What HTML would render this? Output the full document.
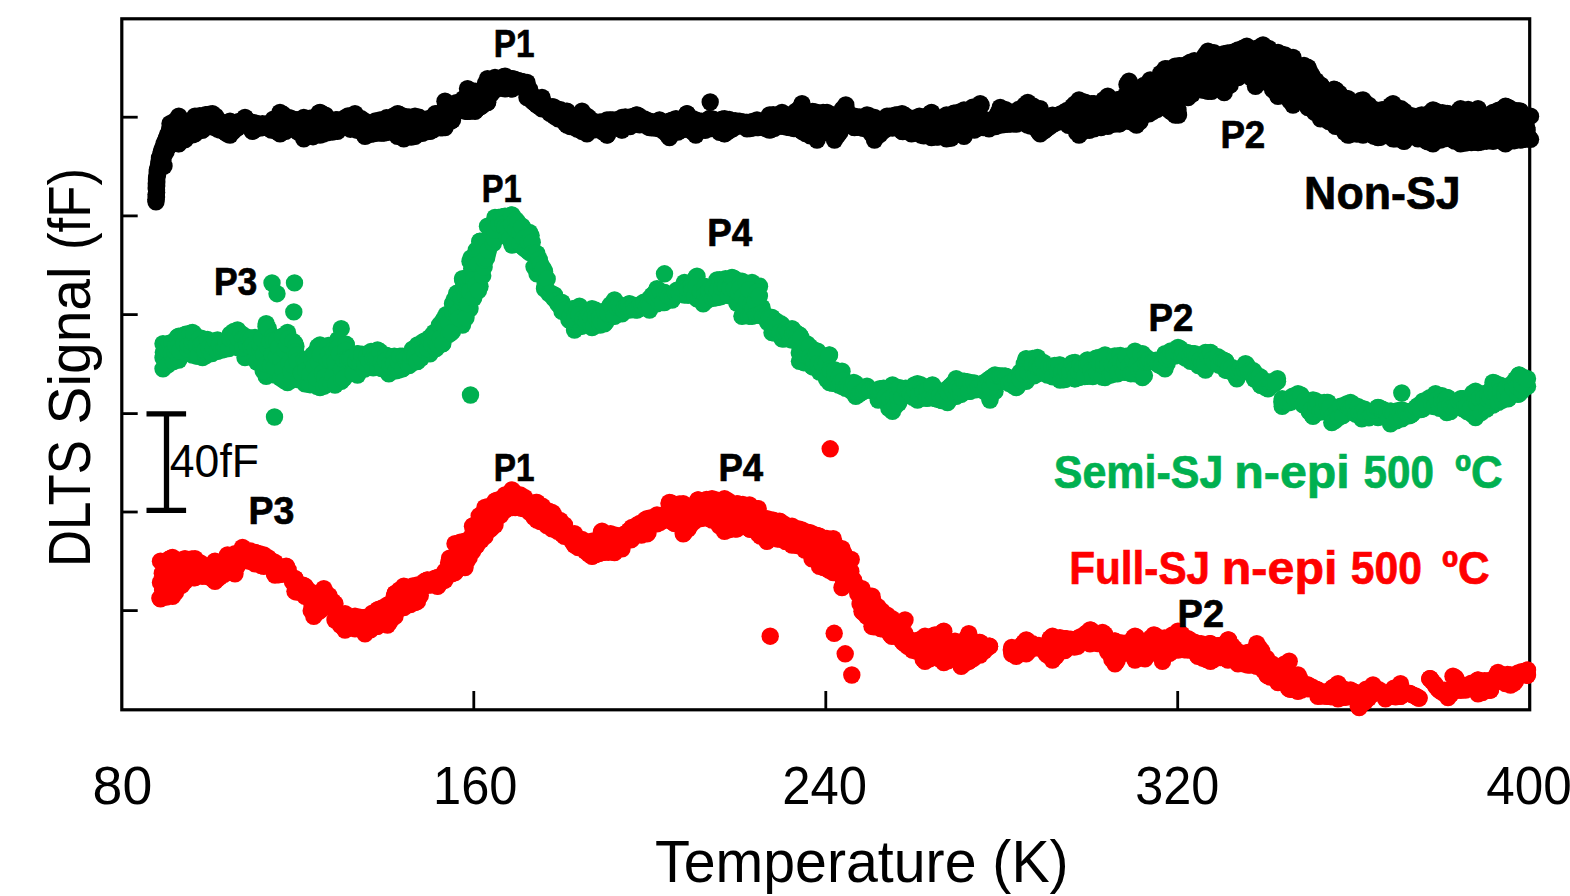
<!DOCTYPE html>
<html lang="en"><head><meta charset="utf-8"><title>DLTS Signal vs Temperature</title>
<style>
html,body{margin:0;padding:0;background:#fff;}
body{width:1570px;height:896px;overflow:hidden;font-family:"Liberation Sans",sans-serif;}
svg{display:block;}
</style></head><body>
<svg width="1570" height="896" viewBox="0 0 1570 896">
<rect x="0" y="0" width="1570" height="896" fill="#fff"/>
<g stroke="#000" stroke-width="2.8" fill="none">
<line x1="121.8" y1="117.2" x2="137.7" y2="117.2"/>
<line x1="121.8" y1="215.9" x2="137.7" y2="215.9"/>
<line x1="121.8" y1="314.6" x2="137.7" y2="314.6"/>
<line x1="121.8" y1="413.6" x2="137.7" y2="413.6"/>
<line x1="121.8" y1="512.0" x2="137.7" y2="512.0"/>
<line x1="121.8" y1="610.6" x2="137.7" y2="610.6"/>
<line x1="473.8" y1="709.8" x2="473.8" y2="691.0"/>
<line x1="825.8" y1="709.8" x2="825.8" y2="691.0"/>
<line x1="1177.7" y1="709.8" x2="1177.7" y2="691.0"/>
</g>
<rect x="121.8" y="18.8" width="1407.9" height="691.0" fill="none" stroke="#000" stroke-width="3.2"/>
<g stroke="#000" stroke-width="5.3" fill="none"><line x1="166.5" y1="413.9" x2="166.5" y2="510.3"/><line x1="146.5" y1="413.9" x2="186.1" y2="413.9"/><line x1="146.5" y1="510.3" x2="186.1" y2="510.3"/></g>
<g fill="#000">
<circle cx="156.0" cy="201.8" r="8.7"/>
<circle cx="155.9" cy="199.4" r="8.7"/>
<circle cx="156.5" cy="197.1" r="8.7"/>
<circle cx="156.0" cy="194.7" r="8.7"/>
<circle cx="156.6" cy="192.4" r="8.7"/>
<circle cx="156.5" cy="190.0" r="8.7"/>
<circle cx="156.2" cy="188.0" r="8.7"/>
<circle cx="156.7" cy="186.0" r="8.7"/>
<circle cx="156.3" cy="184.0" r="8.7"/>
<circle cx="156.8" cy="182.0" r="8.7"/>
<circle cx="156.5" cy="180.0" r="8.7"/>
<circle cx="156.6" cy="178.0" r="8.7"/>
<circle cx="157.1" cy="176.0" r="8.7"/>
<circle cx="157.7" cy="174.0" r="8.7"/>
<circle cx="157.2" cy="172.0" r="8.7"/>
<circle cx="157.5" cy="170.0" r="8.7"/>
<circle cx="158.1" cy="168.0" r="8.7"/>
<circle cx="158.8" cy="166.0" r="8.7"/>
<circle cx="158.9" cy="164.0" r="8.7"/>
<circle cx="159.1" cy="162.0" r="8.7"/>
<circle cx="160.1" cy="160.0" r="8.7"/>
<circle cx="159.5" cy="158.0" r="8.7"/>
<circle cx="161.0" cy="156.0" r="8.7"/>
<circle cx="161.0" cy="154.0" r="8.7"/>
<circle cx="161.5" cy="152.0" r="8.7"/>
<circle cx="162.1" cy="150.0" r="8.7"/>
<circle cx="162.9" cy="148.0" r="8.7"/>
<circle cx="164.1" cy="146.0" r="8.7"/>
<circle cx="164.1" cy="144.0" r="8.7"/>
<circle cx="165.1" cy="142.0" r="8.7"/>
<circle cx="166.0" cy="140.0" r="8.7"/>
<circle cx="166.6" cy="138.0" r="8.7"/>
<circle cx="167.7" cy="136.0" r="8.7"/>
<circle cx="168.1" cy="134.0" r="8.7"/>
<circle cx="169.2" cy="131.7" r="8.7"/>
<circle cx="170.5" cy="129.3" r="8.7"/>
<circle cx="163.0" cy="160.0" r="8.7"/>
<circle cx="166.0" cy="152.0" r="8.7"/>
<circle cx="169.0" cy="146.0" r="8.7"/>
<circle cx="172.0" cy="140.0" r="8.7"/>
<circle cx="174.0" cy="134.0" r="8.7"/>
<circle cx="164.0" cy="166.0" r="8.7"/>
<circle cx="170.0" cy="123.7" r="8.7"/>
<circle cx="170.0" cy="136.3" r="8.7"/>
<circle cx="178.8" cy="116.2" r="8.7"/>
<circle cx="178.8" cy="143.8" r="8.7"/>
<circle cx="195.0" cy="116.2" r="8.7"/>
<circle cx="195.0" cy="133.8" r="8.7"/>
<circle cx="212.5" cy="113.7" r="8.7"/>
<circle cx="212.5" cy="126.3" r="8.7"/>
<circle cx="230.0" cy="121.2" r="8.7"/>
<circle cx="230.0" cy="135.1" r="8.7"/>
<circle cx="245.0" cy="117.5" r="8.7"/>
<circle cx="245.0" cy="121.3" r="8.7"/>
<circle cx="252.5" cy="122.5" r="8.7"/>
<circle cx="252.5" cy="131.3" r="8.7"/>
<circle cx="262.5" cy="123.7" r="8.7"/>
<circle cx="262.5" cy="127.5" r="8.7"/>
<circle cx="280.0" cy="112.5" r="8.7"/>
<circle cx="280.0" cy="133.8" r="8.7"/>
<circle cx="295.0" cy="120.0" r="8.7"/>
<circle cx="295.0" cy="128.8" r="8.7"/>
<circle cx="303.8" cy="117.5" r="8.7"/>
<circle cx="303.8" cy="138.8" r="8.7"/>
<circle cx="320.0" cy="112.5" r="8.7"/>
<circle cx="320.0" cy="135.1" r="8.7"/>
<circle cx="337.5" cy="120.0" r="8.7"/>
<circle cx="337.5" cy="131.3" r="8.7"/>
<circle cx="355.0" cy="113.7" r="8.7"/>
<circle cx="355.0" cy="128.8" r="8.7"/>
<circle cx="365.0" cy="121.2" r="8.7"/>
<circle cx="365.0" cy="136.3" r="8.7"/>
<circle cx="380.0" cy="120.0" r="8.7"/>
<circle cx="380.0" cy="132.6" r="8.7"/>
<circle cx="397.5" cy="113.7" r="8.7"/>
<circle cx="397.5" cy="136.3" r="8.7"/>
<circle cx="403.8" cy="116.2" r="8.7"/>
<circle cx="403.8" cy="138.8" r="8.7"/>
<circle cx="415.0" cy="116.2" r="8.7"/>
<circle cx="415.0" cy="136.3" r="8.7"/>
<circle cx="430.0" cy="118.7" r="8.7"/>
<circle cx="430.0" cy="131.3" r="8.7"/>
<circle cx="445.0" cy="101.2" r="8.7"/>
<circle cx="445.0" cy="127.5" r="8.7"/>
<circle cx="452.5" cy="106.2" r="8.7"/>
<circle cx="452.5" cy="120.0" r="8.7"/>
<circle cx="467.5" cy="88.7" r="8.7"/>
<circle cx="467.5" cy="111.3" r="8.7"/>
<circle cx="475.0" cy="91.2" r="8.7"/>
<circle cx="475.0" cy="111.3" r="8.7"/>
<circle cx="487.5" cy="78.7" r="8.7"/>
<circle cx="487.5" cy="102.5" r="8.7"/>
<circle cx="495.0" cy="77.5" r="8.7"/>
<circle cx="495.0" cy="88.8" r="8.7"/>
<circle cx="505.0" cy="76.2" r="8.7"/>
<circle cx="505.0" cy="88.8" r="8.7"/>
<circle cx="512.0" cy="78.7" r="8.7"/>
<circle cx="512.0" cy="88.8" r="8.7"/>
<circle cx="527.0" cy="82.5" r="8.7"/>
<circle cx="527.0" cy="97.5" r="8.7"/>
<circle cx="542.0" cy="97.5" r="8.7"/>
<circle cx="542.0" cy="108.8" r="8.7"/>
<circle cx="554.5" cy="107.5" r="8.7"/>
<circle cx="554.5" cy="116.3" r="8.7"/>
<circle cx="567.0" cy="111.2" r="8.7"/>
<circle cx="567.0" cy="125.0" r="8.7"/>
<circle cx="582.0" cy="111.2" r="8.7"/>
<circle cx="582.0" cy="131.3" r="8.7"/>
<circle cx="587.0" cy="116.2" r="8.7"/>
<circle cx="587.0" cy="133.8" r="8.7"/>
<circle cx="597.0" cy="122.5" r="8.7"/>
<circle cx="597.0" cy="128.8" r="8.7"/>
<circle cx="607.0" cy="120.0" r="8.7"/>
<circle cx="607.0" cy="135.1" r="8.7"/>
<circle cx="622.0" cy="117.5" r="8.7"/>
<circle cx="622.0" cy="130.1" r="8.7"/>
<circle cx="637.0" cy="115.0" r="8.7"/>
<circle cx="637.0" cy="123.8" r="8.7"/>
<circle cx="649.5" cy="121.2" r="8.7"/>
<circle cx="649.5" cy="127.5" r="8.7"/>
<circle cx="659.5" cy="120.0" r="8.7"/>
<circle cx="659.5" cy="128.8" r="8.7"/>
<circle cx="669.5" cy="121.2" r="8.7"/>
<circle cx="669.5" cy="137.6" r="8.7"/>
<circle cx="687.0" cy="113.7" r="8.7"/>
<circle cx="687.0" cy="127.5" r="8.7"/>
<circle cx="695.8" cy="120.0" r="8.7"/>
<circle cx="695.8" cy="135.1" r="8.7"/>
<circle cx="709.5" cy="118.7" r="8.7"/>
<circle cx="709.5" cy="128.8" r="8.7"/>
<circle cx="724.5" cy="118.7" r="8.7"/>
<circle cx="724.5" cy="133.8" r="8.7"/>
<circle cx="739.5" cy="121.2" r="8.7"/>
<circle cx="739.5" cy="125.0" r="8.7"/>
<circle cx="747.0" cy="122.5" r="8.7"/>
<circle cx="747.0" cy="128.8" r="8.7"/>
<circle cx="757.0" cy="120.0" r="8.7"/>
<circle cx="757.0" cy="127.5" r="8.7"/>
<circle cx="769.5" cy="115.0" r="8.7"/>
<circle cx="769.5" cy="130.1" r="8.7"/>
<circle cx="782.0" cy="112.5" r="8.7"/>
<circle cx="782.0" cy="126.3" r="8.7"/>
<circle cx="789.5" cy="116.2" r="8.7"/>
<circle cx="789.5" cy="127.5" r="8.7"/>
<circle cx="802.0" cy="103.7" r="8.7"/>
<circle cx="802.0" cy="131.3" r="8.7"/>
<circle cx="817.0" cy="112.5" r="8.7"/>
<circle cx="817.0" cy="140.1" r="8.7"/>
<circle cx="827.0" cy="112.5" r="8.7"/>
<circle cx="827.0" cy="127.5" r="8.7"/>
<circle cx="834.5" cy="116.2" r="8.7"/>
<circle cx="834.5" cy="140.1" r="8.7"/>
<circle cx="845.8" cy="105.0" r="8.7"/>
<circle cx="845.8" cy="125.0" r="8.7"/>
<circle cx="854.5" cy="116.2" r="8.7"/>
<circle cx="854.5" cy="127.5" r="8.7"/>
<circle cx="867.0" cy="115.0" r="8.7"/>
<circle cx="867.0" cy="128.8" r="8.7"/>
<circle cx="874.5" cy="117.5" r="8.7"/>
<circle cx="874.5" cy="140.1" r="8.7"/>
<circle cx="887.0" cy="116.2" r="8.7"/>
<circle cx="887.0" cy="127.5" r="8.7"/>
<circle cx="902.0" cy="113.7" r="8.7"/>
<circle cx="902.0" cy="131.3" r="8.7"/>
<circle cx="911.5" cy="118.7" r="8.7"/>
<circle cx="911.5" cy="133.8" r="8.7"/>
<circle cx="931.5" cy="112.5" r="8.7"/>
<circle cx="931.5" cy="137.6" r="8.7"/>
<circle cx="946.5" cy="115.0" r="8.7"/>
<circle cx="946.5" cy="138.8" r="8.7"/>
<circle cx="964.0" cy="110.0" r="8.7"/>
<circle cx="964.0" cy="136.3" r="8.7"/>
<circle cx="980.2" cy="103.7" r="8.7"/>
<circle cx="980.2" cy="127.5" r="8.7"/>
<circle cx="989.0" cy="126.2" r="8.7"/>
<circle cx="989.0" cy="128.8" r="8.7"/>
<circle cx="1000.2" cy="107.5" r="8.7"/>
<circle cx="1000.2" cy="125.0" r="8.7"/>
<circle cx="1014.0" cy="112.5" r="8.7"/>
<circle cx="1014.0" cy="123.8" r="8.7"/>
<circle cx="1027.8" cy="102.5" r="8.7"/>
<circle cx="1027.8" cy="125.0" r="8.7"/>
<circle cx="1040.2" cy="108.7" r="8.7"/>
<circle cx="1040.2" cy="133.8" r="8.7"/>
<circle cx="1054.0" cy="116.2" r="8.7"/>
<circle cx="1054.0" cy="123.8" r="8.7"/>
<circle cx="1064.0" cy="112.5" r="8.7"/>
<circle cx="1064.0" cy="121.3" r="8.7"/>
<circle cx="1079.0" cy="100.0" r="8.7"/>
<circle cx="1079.0" cy="135.1" r="8.7"/>
<circle cx="1094.0" cy="103.7" r="8.7"/>
<circle cx="1094.0" cy="128.8" r="8.7"/>
<circle cx="1107.8" cy="96.2" r="8.7"/>
<circle cx="1107.8" cy="126.3" r="8.7"/>
<circle cx="1119.0" cy="100.0" r="8.7"/>
<circle cx="1119.0" cy="123.8" r="8.7"/>
<circle cx="1129.0" cy="81.2" r="8.7"/>
<circle cx="1129.0" cy="121.3" r="8.7"/>
<circle cx="1136.5" cy="91.2" r="8.7"/>
<circle cx="1136.5" cy="125.0" r="8.7"/>
<circle cx="1150.2" cy="80.0" r="8.7"/>
<circle cx="1150.2" cy="112.5" r="8.7"/>
<circle cx="1165.2" cy="68.7" r="8.7"/>
<circle cx="1165.2" cy="107.5" r="8.7"/>
<circle cx="1175.2" cy="66.2" r="8.7"/>
<circle cx="1175.2" cy="115.0" r="8.7"/>
<circle cx="1178.0" cy="66.2" r="8.7"/>
<circle cx="1178.0" cy="110.0" r="8.7"/>
<circle cx="1188.0" cy="63.7" r="8.7"/>
<circle cx="1188.0" cy="97.5" r="8.7"/>
<circle cx="1208.0" cy="51.2" r="8.7"/>
<circle cx="1208.0" cy="91.3" r="8.7"/>
<circle cx="1224.2" cy="53.7" r="8.7"/>
<circle cx="1224.2" cy="92.5" r="8.7"/>
<circle cx="1238.0" cy="50.0" r="8.7"/>
<circle cx="1238.0" cy="77.5" r="8.7"/>
<circle cx="1246.8" cy="46.2" r="8.7"/>
<circle cx="1246.8" cy="71.3" r="8.7"/>
<circle cx="1255.5" cy="48.7" r="8.7"/>
<circle cx="1255.5" cy="86.3" r="8.7"/>
<circle cx="1263.0" cy="45.0" r="8.7"/>
<circle cx="1263.0" cy="80.0" r="8.7"/>
<circle cx="1278.0" cy="52.5" r="8.7"/>
<circle cx="1278.0" cy="96.3" r="8.7"/>
<circle cx="1293.0" cy="57.5" r="8.7"/>
<circle cx="1293.0" cy="105.0" r="8.7"/>
<circle cx="1308.0" cy="67.5" r="8.7"/>
<circle cx="1308.0" cy="107.5" r="8.7"/>
<circle cx="1320.5" cy="85.0" r="8.7"/>
<circle cx="1320.5" cy="118.8" r="8.7"/>
<circle cx="1335.5" cy="90.0" r="8.7"/>
<circle cx="1335.5" cy="126.3" r="8.7"/>
<circle cx="1348.0" cy="98.7" r="8.7"/>
<circle cx="1348.0" cy="135.1" r="8.7"/>
<circle cx="1363.0" cy="100.0" r="8.7"/>
<circle cx="1363.0" cy="135.1" r="8.7"/>
<circle cx="1378.0" cy="111.2" r="8.7"/>
<circle cx="1378.0" cy="137.6" r="8.7"/>
<circle cx="1393.0" cy="103.7" r="8.7"/>
<circle cx="1393.0" cy="138.8" r="8.7"/>
<circle cx="1404.2" cy="111.2" r="8.7"/>
<circle cx="1404.2" cy="141.3" r="8.7"/>
<circle cx="1418.0" cy="116.2" r="8.7"/>
<circle cx="1418.0" cy="138.8" r="8.7"/>
<circle cx="1433.0" cy="110.0" r="8.7"/>
<circle cx="1433.0" cy="143.8" r="8.7"/>
<circle cx="1448.0" cy="113.7" r="8.7"/>
<circle cx="1448.0" cy="137.6" r="8.7"/>
<circle cx="1460.5" cy="108.7" r="8.7"/>
<circle cx="1460.5" cy="143.8" r="8.7"/>
<circle cx="1478.0" cy="108.7" r="8.7"/>
<circle cx="1478.0" cy="142.6" r="8.7"/>
<circle cx="1493.0" cy="112.5" r="8.7"/>
<circle cx="1493.0" cy="141.3" r="8.7"/>
<circle cx="1505.5" cy="106.2" r="8.7"/>
<circle cx="1505.5" cy="143.8" r="8.7"/>
<circle cx="1520.5" cy="111.2" r="8.7"/>
<circle cx="1520.5" cy="140.1" r="8.7"/>
<circle cx="1530.5" cy="116.2" r="8.7"/>
<circle cx="1530.5" cy="139.3" r="8.7"/>
<circle cx="169.7" cy="129.1" r="8.7"/>
<circle cx="172.4" cy="137.8" r="8.7"/>
<circle cx="174.2" cy="121.3" r="8.7"/>
<circle cx="174.2" cy="132.6" r="8.7"/>
<circle cx="177.0" cy="125.0" r="8.7"/>
<circle cx="178.4" cy="143.5" r="8.7"/>
<circle cx="178.4" cy="125.6" r="8.7"/>
<circle cx="180.6" cy="136.5" r="8.7"/>
<circle cx="182.9" cy="124.1" r="8.7"/>
<circle cx="182.6" cy="129.6" r="8.7"/>
<circle cx="185.2" cy="139.7" r="8.7"/>
<circle cx="187.0" cy="126.9" r="8.7"/>
<circle cx="186.8" cy="124.0" r="8.7"/>
<circle cx="189.6" cy="130.0" r="8.7"/>
<circle cx="190.8" cy="121.9" r="8.7"/>
<circle cx="191.0" cy="127.4" r="8.7"/>
<circle cx="192.5" cy="134.8" r="8.7"/>
<circle cx="194.8" cy="118.4" r="8.7"/>
<circle cx="195.2" cy="124.3" r="8.7"/>
<circle cx="197.2" cy="117.2" r="8.7"/>
<circle cx="199.8" cy="115.8" r="8.7"/>
<circle cx="199.4" cy="125.8" r="8.7"/>
<circle cx="202.1" cy="130.3" r="8.7"/>
<circle cx="203.2" cy="129.3" r="8.7"/>
<circle cx="203.6" cy="121.1" r="8.7"/>
<circle cx="205.6" cy="114.7" r="8.7"/>
<circle cx="208.4" cy="114.4" r="8.7"/>
<circle cx="207.8" cy="122.3" r="8.7"/>
<circle cx="210.5" cy="114.1" r="8.7"/>
<circle cx="212.4" cy="124.9" r="8.7"/>
<circle cx="213.5" cy="127.0" r="8.7"/>
<circle cx="215.6" cy="116.1" r="8.7"/>
<circle cx="217.6" cy="129.1" r="8.7"/>
<circle cx="220.2" cy="130.1" r="8.7"/>
<circle cx="220.4" cy="121.5" r="8.7"/>
<circle cx="222.0" cy="126.2" r="8.7"/>
<circle cx="225.1" cy="132.2" r="8.7"/>
<circle cx="224.6" cy="127.9" r="8.7"/>
<circle cx="226.1" cy="133.2" r="8.7"/>
<circle cx="228.3" cy="134.4" r="8.7"/>
<circle cx="228.8" cy="125.3" r="8.7"/>
<circle cx="230.4" cy="128.0" r="8.7"/>
<circle cx="233.0" cy="131.5" r="8.7"/>
<circle cx="235.4" cy="128.9" r="8.7"/>
<circle cx="237.2" cy="128.2" r="8.7"/>
<circle cx="238.9" cy="121.4" r="8.7"/>
<circle cx="241.9" cy="124.5" r="8.7"/>
<circle cx="243.8" cy="121.8" r="8.7"/>
<circle cx="245.4" cy="118.1" r="8.7"/>
<circle cx="248.0" cy="124.9" r="8.7"/>
<circle cx="250.4" cy="123.8" r="8.7"/>
<circle cx="251.7" cy="130.1" r="8.7"/>
<circle cx="253.6" cy="130.5" r="8.7"/>
<circle cx="256.1" cy="123.3" r="8.7"/>
<circle cx="257.6" cy="128.0" r="8.7"/>
<circle cx="260.7" cy="127.9" r="8.7"/>
<circle cx="261.9" cy="125.6" r="8.7"/>
<circle cx="264.9" cy="124.4" r="8.7"/>
<circle cx="266.5" cy="124.2" r="8.7"/>
<circle cx="268.2" cy="127.0" r="8.7"/>
<circle cx="271.4" cy="130.0" r="8.7"/>
<circle cx="273.4" cy="119.1" r="8.7"/>
<circle cx="274.8" cy="126.4" r="8.7"/>
<circle cx="275.0" cy="124.1" r="8.7"/>
<circle cx="277.1" cy="131.8" r="8.7"/>
<circle cx="279.7" cy="121.9" r="8.7"/>
<circle cx="279.2" cy="125.6" r="8.7"/>
<circle cx="281.0" cy="133.2" r="8.7"/>
<circle cx="282.9" cy="114.2" r="8.7"/>
<circle cx="283.4" cy="126.1" r="8.7"/>
<circle cx="285.6" cy="131.4" r="8.7"/>
<circle cx="288.2" cy="122.6" r="8.7"/>
<circle cx="287.6" cy="123.8" r="8.7"/>
<circle cx="289.3" cy="117.8" r="8.7"/>
<circle cx="291.3" cy="118.4" r="8.7"/>
<circle cx="293.9" cy="119.7" r="8.7"/>
<circle cx="295.4" cy="119.8" r="8.7"/>
<circle cx="298.1" cy="132.2" r="8.7"/>
<circle cx="300.8" cy="119.4" r="8.7"/>
<circle cx="300.2" cy="126.3" r="8.7"/>
<circle cx="302.3" cy="127.6" r="8.7"/>
<circle cx="304.4" cy="126.9" r="8.7"/>
<circle cx="304.4" cy="127.8" r="8.7"/>
<circle cx="307.0" cy="131.7" r="8.7"/>
<circle cx="308.7" cy="121.6" r="8.7"/>
<circle cx="308.6" cy="130.2" r="8.7"/>
<circle cx="310.2" cy="118.3" r="8.7"/>
<circle cx="313.0" cy="136.7" r="8.7"/>
<circle cx="312.8" cy="127.9" r="8.7"/>
<circle cx="315.2" cy="117.4" r="8.7"/>
<circle cx="317.5" cy="116.6" r="8.7"/>
<circle cx="317.0" cy="128.2" r="8.7"/>
<circle cx="319.0" cy="113.0" r="8.7"/>
<circle cx="321.1" cy="113.2" r="8.7"/>
<circle cx="321.2" cy="124.0" r="8.7"/>
<circle cx="323.0" cy="134.0" r="8.7"/>
<circle cx="325.5" cy="115.1" r="8.7"/>
<circle cx="325.4" cy="123.9" r="8.7"/>
<circle cx="326.9" cy="132.9" r="8.7"/>
<circle cx="330.3" cy="129.5" r="8.7"/>
<circle cx="329.6" cy="122.5" r="8.7"/>
<circle cx="332.1" cy="132.1" r="8.7"/>
<circle cx="334.2" cy="131.2" r="8.7"/>
<circle cx="333.8" cy="124.1" r="8.7"/>
<circle cx="336.0" cy="119.7" r="8.7"/>
<circle cx="337.4" cy="120.8" r="8.7"/>
<circle cx="339.5" cy="124.1" r="8.7"/>
<circle cx="342.6" cy="126.1" r="8.7"/>
<circle cx="344.2" cy="118.3" r="8.7"/>
<circle cx="347.0" cy="117.1" r="8.7"/>
<circle cx="346.4" cy="122.3" r="8.7"/>
<circle cx="348.0" cy="116.0" r="8.7"/>
<circle cx="350.3" cy="129.2" r="8.7"/>
<circle cx="350.6" cy="121.4" r="8.7"/>
<circle cx="352.7" cy="118.8" r="8.7"/>
<circle cx="354.1" cy="128.4" r="8.7"/>
<circle cx="354.8" cy="122.5" r="8.7"/>
<circle cx="356.9" cy="130.2" r="8.7"/>
<circle cx="359.4" cy="118.3" r="8.7"/>
<circle cx="359.0" cy="123.9" r="8.7"/>
<circle cx="361.4" cy="118.8" r="8.7"/>
<circle cx="363.7" cy="125.0" r="8.7"/>
<circle cx="363.2" cy="128.5" r="8.7"/>
<circle cx="365.1" cy="127.3" r="8.7"/>
<circle cx="366.8" cy="135.3" r="8.7"/>
<circle cx="367.4" cy="129.6" r="8.7"/>
<circle cx="370.0" cy="134.3" r="8.7"/>
<circle cx="371.2" cy="124.6" r="8.7"/>
<circle cx="371.6" cy="126.6" r="8.7"/>
<circle cx="373.6" cy="133.7" r="8.7"/>
<circle cx="375.4" cy="120.9" r="8.7"/>
<circle cx="375.8" cy="129.1" r="8.7"/>
<circle cx="377.2" cy="133.0" r="8.7"/>
<circle cx="380.0" cy="132.3" r="8.7"/>
<circle cx="381.5" cy="133.0" r="8.7"/>
<circle cx="383.8" cy="133.0" r="8.7"/>
<circle cx="384.2" cy="126.4" r="8.7"/>
<circle cx="386.5" cy="117.8" r="8.7"/>
<circle cx="388.2" cy="132.2" r="8.7"/>
<circle cx="388.4" cy="124.6" r="8.7"/>
<circle cx="390.8" cy="119.0" r="8.7"/>
<circle cx="393.1" cy="116.3" r="8.7"/>
<circle cx="392.6" cy="128.1" r="8.7"/>
<circle cx="395.1" cy="130.1" r="8.7"/>
<circle cx="397.2" cy="115.4" r="8.7"/>
<circle cx="396.8" cy="127.6" r="8.7"/>
<circle cx="399.2" cy="114.3" r="8.7"/>
<circle cx="400.3" cy="120.3" r="8.7"/>
<circle cx="401.0" cy="123.5" r="8.7"/>
<circle cx="403.3" cy="138.0" r="8.7"/>
<circle cx="405.2" cy="131.4" r="8.7"/>
<circle cx="405.2" cy="123.5" r="8.7"/>
<circle cx="407.3" cy="132.5" r="8.7"/>
<circle cx="408.8" cy="117.0" r="8.7"/>
<circle cx="409.4" cy="128.6" r="8.7"/>
<circle cx="411.1" cy="137.0" r="8.7"/>
<circle cx="413.6" cy="136.1" r="8.7"/>
<circle cx="413.6" cy="125.6" r="8.7"/>
<circle cx="416.1" cy="117.4" r="8.7"/>
<circle cx="417.2" cy="128.7" r="8.7"/>
<circle cx="417.8" cy="123.7" r="8.7"/>
<circle cx="419.2" cy="117.3" r="8.7"/>
<circle cx="422.2" cy="133.3" r="8.7"/>
<circle cx="422.0" cy="126.8" r="8.7"/>
<circle cx="424.1" cy="122.2" r="8.7"/>
<circle cx="425.8" cy="131.8" r="8.7"/>
<circle cx="426.2" cy="127.7" r="8.7"/>
<circle cx="428.2" cy="118.7" r="8.7"/>
<circle cx="430.3" cy="130.8" r="8.7"/>
<circle cx="433.1" cy="129.9" r="8.7"/>
<circle cx="435.2" cy="113.8" r="8.7"/>
<circle cx="434.6" cy="119.6" r="8.7"/>
<circle cx="437.2" cy="120.4" r="8.7"/>
<circle cx="439.4" cy="113.2" r="8.7"/>
<circle cx="438.8" cy="118.7" r="8.7"/>
<circle cx="440.9" cy="127.8" r="8.7"/>
<circle cx="442.7" cy="127.6" r="8.7"/>
<circle cx="443.0" cy="118.7" r="8.7"/>
<circle cx="445.6" cy="101.9" r="8.7"/>
<circle cx="446.9" cy="103.1" r="8.7"/>
<circle cx="447.2" cy="113.0" r="8.7"/>
<circle cx="449.4" cy="105.5" r="8.7"/>
<circle cx="450.8" cy="121.1" r="8.7"/>
<circle cx="451.4" cy="115.1" r="8.7"/>
<circle cx="453.1" cy="105.2" r="8.7"/>
<circle cx="456.2" cy="102.8" r="8.7"/>
<circle cx="455.6" cy="112.5" r="8.7"/>
<circle cx="458.3" cy="110.8" r="8.7"/>
<circle cx="460.1" cy="107.6" r="8.7"/>
<circle cx="459.8" cy="103.9" r="8.7"/>
<circle cx="462.3" cy="103.9" r="8.7"/>
<circle cx="463.4" cy="98.7" r="8.7"/>
<circle cx="464.0" cy="106.1" r="8.7"/>
<circle cx="465.9" cy="111.4" r="8.7"/>
<circle cx="468.4" cy="89.5" r="8.7"/>
<circle cx="468.2" cy="98.6" r="8.7"/>
<circle cx="469.8" cy="111.2" r="8.7"/>
<circle cx="472.0" cy="110.6" r="8.7"/>
<circle cx="472.4" cy="103.8" r="8.7"/>
<circle cx="474.0" cy="100.2" r="8.7"/>
<circle cx="476.4" cy="109.7" r="8.7"/>
<circle cx="476.6" cy="96.9" r="8.7"/>
<circle cx="479.0" cy="107.3" r="8.7"/>
<circle cx="480.8" cy="106.6" r="8.7"/>
<circle cx="480.8" cy="95.4" r="8.7"/>
<circle cx="482.4" cy="105.4" r="8.7"/>
<circle cx="485.5" cy="83.3" r="8.7"/>
<circle cx="485.0" cy="90.5" r="8.7"/>
<circle cx="487.7" cy="102.1" r="8.7"/>
<circle cx="488.5" cy="96.8" r="8.7"/>
<circle cx="489.2" cy="85.5" r="8.7"/>
<circle cx="491.3" cy="93.8" r="8.7"/>
<circle cx="493.2" cy="91.4" r="8.7"/>
<circle cx="493.4" cy="86.8" r="8.7"/>
<circle cx="496.2" cy="87.2" r="8.7"/>
<circle cx="497.9" cy="88.5" r="8.7"/>
<circle cx="499.9" cy="85.5" r="8.7"/>
<circle cx="501.9" cy="82.2" r="8.7"/>
<circle cx="503.5" cy="76.8" r="8.7"/>
<circle cx="505.7" cy="84.5" r="8.7"/>
<circle cx="507.6" cy="88.4" r="8.7"/>
<circle cx="510.3" cy="78.5" r="8.7"/>
<circle cx="512.0" cy="88.9" r="8.7"/>
<circle cx="514.6" cy="79.3" r="8.7"/>
<circle cx="516.1" cy="85.3" r="8.7"/>
<circle cx="517.9" cy="80.5" r="8.7"/>
<circle cx="520.6" cy="81.2" r="8.7"/>
<circle cx="522.1" cy="81.7" r="8.7"/>
<circle cx="522.8" cy="87.5" r="8.7"/>
<circle cx="524.5" cy="82.1" r="8.7"/>
<circle cx="527.0" cy="93.6" r="8.7"/>
<circle cx="527.0" cy="88.4" r="8.7"/>
<circle cx="529.5" cy="89.1" r="8.7"/>
<circle cx="531.8" cy="100.7" r="8.7"/>
<circle cx="531.2" cy="93.7" r="8.7"/>
<circle cx="533.2" cy="101.9" r="8.7"/>
<circle cx="534.9" cy="103.2" r="8.7"/>
<circle cx="536.9" cy="105.2" r="8.7"/>
<circle cx="540.2" cy="107.0" r="8.7"/>
<circle cx="542.4" cy="105.5" r="8.7"/>
<circle cx="543.4" cy="102.5" r="8.7"/>
<circle cx="545.2" cy="108.5" r="8.7"/>
<circle cx="547.8" cy="106.1" r="8.7"/>
<circle cx="549.9" cy="113.4" r="8.7"/>
<circle cx="552.8" cy="106.8" r="8.7"/>
<circle cx="554.8" cy="116.2" r="8.7"/>
<circle cx="555.8" cy="112.2" r="8.7"/>
<circle cx="558.3" cy="118.9" r="8.7"/>
<circle cx="560.5" cy="109.6" r="8.7"/>
<circle cx="562.1" cy="119.2" r="8.7"/>
<circle cx="565.4" cy="123.4" r="8.7"/>
<circle cx="566.6" cy="111.5" r="8.7"/>
<circle cx="568.7" cy="120.3" r="8.7"/>
<circle cx="569.0" cy="119.7" r="8.7"/>
<circle cx="570.4" cy="126.5" r="8.7"/>
<circle cx="573.4" cy="126.3" r="8.7"/>
<circle cx="573.2" cy="122.0" r="8.7"/>
<circle cx="575.9" cy="127.0" r="8.7"/>
<circle cx="577.3" cy="129.1" r="8.7"/>
<circle cx="577.4" cy="120.3" r="8.7"/>
<circle cx="579.9" cy="114.7" r="8.7"/>
<circle cx="582.0" cy="127.6" r="8.7"/>
<circle cx="581.6" cy="121.9" r="8.7"/>
<circle cx="583.1" cy="131.4" r="8.7"/>
<circle cx="585.4" cy="115.8" r="8.7"/>
<circle cx="585.8" cy="121.3" r="8.7"/>
<circle cx="588.4" cy="117.5" r="8.7"/>
<circle cx="589.4" cy="121.8" r="8.7"/>
<circle cx="590.0" cy="123.2" r="8.7"/>
<circle cx="592.0" cy="120.4" r="8.7"/>
<circle cx="594.5" cy="129.8" r="8.7"/>
<circle cx="595.8" cy="126.8" r="8.7"/>
<circle cx="598.5" cy="124.3" r="8.7"/>
<circle cx="600.1" cy="121.9" r="8.7"/>
<circle cx="602.7" cy="131.8" r="8.7"/>
<circle cx="605.4" cy="132.8" r="8.7"/>
<circle cx="607.5" cy="134.7" r="8.7"/>
<circle cx="606.8" cy="125.4" r="8.7"/>
<circle cx="609.4" cy="120.3" r="8.7"/>
<circle cx="610.7" cy="119.9" r="8.7"/>
<circle cx="611.0" cy="124.6" r="8.7"/>
<circle cx="612.9" cy="119.9" r="8.7"/>
<circle cx="614.9" cy="124.8" r="8.7"/>
<circle cx="615.2" cy="126.8" r="8.7"/>
<circle cx="617.4" cy="119.6" r="8.7"/>
<circle cx="619.2" cy="120.7" r="8.7"/>
<circle cx="619.4" cy="122.8" r="8.7"/>
<circle cx="621.6" cy="129.7" r="8.7"/>
<circle cx="622.9" cy="119.7" r="8.7"/>
<circle cx="625.3" cy="117.0" r="8.7"/>
<circle cx="627.2" cy="122.6" r="8.7"/>
<circle cx="630.0" cy="126.5" r="8.7"/>
<circle cx="631.5" cy="116.7" r="8.7"/>
<circle cx="633.8" cy="119.4" r="8.7"/>
<circle cx="636.0" cy="115.2" r="8.7"/>
<circle cx="639.0" cy="116.0" r="8.7"/>
<circle cx="639.7" cy="124.8" r="8.7"/>
<circle cx="642.9" cy="121.0" r="8.7"/>
<circle cx="644.5" cy="118.9" r="8.7"/>
<circle cx="647.3" cy="126.4" r="8.7"/>
<circle cx="648.6" cy="121.0" r="8.7"/>
<circle cx="651.5" cy="127.7" r="8.7"/>
<circle cx="653.4" cy="127.7" r="8.7"/>
<circle cx="654.6" cy="122.0" r="8.7"/>
<circle cx="657.2" cy="128.3" r="8.7"/>
<circle cx="659.5" cy="120.5" r="8.7"/>
<circle cx="661.8" cy="121.8" r="8.7"/>
<circle cx="664.0" cy="131.7" r="8.7"/>
<circle cx="665.2" cy="123.2" r="8.7"/>
<circle cx="665.6" cy="127.0" r="8.7"/>
<circle cx="668.0" cy="135.7" r="8.7"/>
<circle cx="669.9" cy="121.7" r="8.7"/>
<circle cx="669.8" cy="130.7" r="8.7"/>
<circle cx="671.4" cy="120.5" r="8.7"/>
<circle cx="673.9" cy="119.6" r="8.7"/>
<circle cx="674.0" cy="127.6" r="8.7"/>
<circle cx="676.0" cy="118.7" r="8.7"/>
<circle cx="677.8" cy="132.1" r="8.7"/>
<circle cx="678.2" cy="126.4" r="8.7"/>
<circle cx="679.9" cy="123.4" r="8.7"/>
<circle cx="681.9" cy="129.8" r="8.7"/>
<circle cx="682.4" cy="122.6" r="8.7"/>
<circle cx="684.7" cy="128.8" r="8.7"/>
<circle cx="687.0" cy="113.9" r="8.7"/>
<circle cx="686.6" cy="120.9" r="8.7"/>
<circle cx="688.2" cy="115.8" r="8.7"/>
<circle cx="691.1" cy="130.8" r="8.7"/>
<circle cx="690.8" cy="125.2" r="8.7"/>
<circle cx="692.9" cy="118.8" r="8.7"/>
<circle cx="694.5" cy="133.1" r="8.7"/>
<circle cx="695.0" cy="128.4" r="8.7"/>
<circle cx="696.9" cy="120.8" r="8.7"/>
<circle cx="699.8" cy="121.8" r="8.7"/>
<circle cx="699.2" cy="125.5" r="8.7"/>
<circle cx="701.3" cy="121.3" r="8.7"/>
<circle cx="703.1" cy="121.8" r="8.7"/>
<circle cx="705.0" cy="130.4" r="8.7"/>
<circle cx="708.2" cy="126.2" r="8.7"/>
<circle cx="709.2" cy="118.8" r="8.7"/>
<circle cx="711.9" cy="119.2" r="8.7"/>
<circle cx="713.3" cy="119.3" r="8.7"/>
<circle cx="715.9" cy="126.4" r="8.7"/>
<circle cx="718.8" cy="122.1" r="8.7"/>
<circle cx="719.7" cy="132.3" r="8.7"/>
<circle cx="720.2" cy="126.7" r="8.7"/>
<circle cx="722.0" cy="119.2" r="8.7"/>
<circle cx="724.5" cy="133.5" r="8.7"/>
<circle cx="724.4" cy="127.1" r="8.7"/>
<circle cx="726.7" cy="132.4" r="8.7"/>
<circle cx="729.2" cy="119.4" r="8.7"/>
<circle cx="730.0" cy="130.1" r="8.7"/>
<circle cx="732.6" cy="128.9" r="8.7"/>
<circle cx="735.1" cy="120.6" r="8.7"/>
<circle cx="737.6" cy="126.4" r="8.7"/>
<circle cx="739.6" cy="125.1" r="8.7"/>
<circle cx="740.9" cy="123.3" r="8.7"/>
<circle cx="743.4" cy="122.0" r="8.7"/>
<circle cx="745.7" cy="122.6" r="8.7"/>
<circle cx="746.9" cy="122.5" r="8.7"/>
<circle cx="750.0" cy="128.5" r="8.7"/>
<circle cx="752.3" cy="121.4" r="8.7"/>
<circle cx="754.0" cy="127.7" r="8.7"/>
<circle cx="755.6" cy="121.5" r="8.7"/>
<circle cx="758.5" cy="127.5" r="8.7"/>
<circle cx="759.4" cy="125.5" r="8.7"/>
<circle cx="762.2" cy="125.9" r="8.7"/>
<circle cx="763.9" cy="122.5" r="8.7"/>
<circle cx="766.7" cy="129.0" r="8.7"/>
<circle cx="766.4" cy="123.7" r="8.7"/>
<circle cx="768.2" cy="125.7" r="8.7"/>
<circle cx="771.0" cy="129.6" r="8.7"/>
<circle cx="770.6" cy="122.3" r="8.7"/>
<circle cx="773.2" cy="114.7" r="8.7"/>
<circle cx="774.4" cy="128.4" r="8.7"/>
<circle cx="774.8" cy="122.4" r="8.7"/>
<circle cx="776.7" cy="124.2" r="8.7"/>
<circle cx="778.6" cy="117.7" r="8.7"/>
<circle cx="779.0" cy="122.1" r="8.7"/>
<circle cx="781.3" cy="122.3" r="8.7"/>
<circle cx="783.7" cy="119.4" r="8.7"/>
<circle cx="783.2" cy="120.7" r="8.7"/>
<circle cx="785.6" cy="119.7" r="8.7"/>
<circle cx="786.8" cy="127.1" r="8.7"/>
<circle cx="788.8" cy="117.8" r="8.7"/>
<circle cx="791.4" cy="114.8" r="8.7"/>
<circle cx="791.6" cy="119.4" r="8.7"/>
<circle cx="794.0" cy="128.5" r="8.7"/>
<circle cx="795.9" cy="111.2" r="8.7"/>
<circle cx="795.8" cy="118.7" r="8.7"/>
<circle cx="798.4" cy="126.1" r="8.7"/>
<circle cx="800.6" cy="106.9" r="8.7"/>
<circle cx="800.0" cy="122.1" r="8.7"/>
<circle cx="802.6" cy="131.2" r="8.7"/>
<circle cx="804.7" cy="122.5" r="8.7"/>
<circle cx="804.2" cy="120.1" r="8.7"/>
<circle cx="805.7" cy="133.6" r="8.7"/>
<circle cx="808.1" cy="113.1" r="8.7"/>
<circle cx="808.4" cy="120.5" r="8.7"/>
<circle cx="810.3" cy="135.9" r="8.7"/>
<circle cx="812.6" cy="111.4" r="8.7"/>
<circle cx="812.6" cy="127.1" r="8.7"/>
<circle cx="814.6" cy="112.0" r="8.7"/>
<circle cx="816.9" cy="113.2" r="8.7"/>
<circle cx="816.8" cy="123.4" r="8.7"/>
<circle cx="819.3" cy="114.7" r="8.7"/>
<circle cx="820.6" cy="134.0" r="8.7"/>
<circle cx="821.0" cy="125.8" r="8.7"/>
<circle cx="823.1" cy="112.5" r="8.7"/>
<circle cx="825.0" cy="112.7" r="8.7"/>
<circle cx="825.2" cy="123.1" r="8.7"/>
<circle cx="827.0" cy="113.2" r="8.7"/>
<circle cx="829.6" cy="114.0" r="8.7"/>
<circle cx="829.4" cy="120.0" r="8.7"/>
<circle cx="831.9" cy="128.9" r="8.7"/>
<circle cx="833.5" cy="123.9" r="8.7"/>
<circle cx="833.6" cy="126.3" r="8.7"/>
<circle cx="836.2" cy="117.0" r="8.7"/>
<circle cx="837.5" cy="135.6" r="8.7"/>
<circle cx="837.8" cy="127.5" r="8.7"/>
<circle cx="839.8" cy="132.4" r="8.7"/>
<circle cx="842.4" cy="109.1" r="8.7"/>
<circle cx="842.0" cy="120.5" r="8.7"/>
<circle cx="844.3" cy="126.5" r="8.7"/>
<circle cx="846.1" cy="108.9" r="8.7"/>
<circle cx="846.2" cy="117.2" r="8.7"/>
<circle cx="848.2" cy="124.8" r="8.7"/>
<circle cx="850.0" cy="114.6" r="8.7"/>
<circle cx="850.4" cy="117.6" r="8.7"/>
<circle cx="852.0" cy="124.9" r="8.7"/>
<circle cx="854.1" cy="127.3" r="8.7"/>
<circle cx="857.4" cy="127.3" r="8.7"/>
<circle cx="859.4" cy="117.0" r="8.7"/>
<circle cx="861.2" cy="127.4" r="8.7"/>
<circle cx="863.2" cy="128.3" r="8.7"/>
<circle cx="863.0" cy="120.1" r="8.7"/>
<circle cx="865.5" cy="128.1" r="8.7"/>
<circle cx="867.4" cy="122.1" r="8.7"/>
<circle cx="867.2" cy="121.9" r="8.7"/>
<circle cx="869.2" cy="115.8" r="8.7"/>
<circle cx="871.3" cy="133.7" r="8.7"/>
<circle cx="871.4" cy="126.4" r="8.7"/>
<circle cx="873.1" cy="126.1" r="8.7"/>
<circle cx="876.0" cy="136.4" r="8.7"/>
<circle cx="875.6" cy="129.7" r="8.7"/>
<circle cx="877.9" cy="130.5" r="8.7"/>
<circle cx="879.7" cy="134.6" r="8.7"/>
<circle cx="879.8" cy="127.6" r="8.7"/>
<circle cx="881.6" cy="126.7" r="8.7"/>
<circle cx="884.2" cy="130.4" r="8.7"/>
<circle cx="884.0" cy="123.1" r="8.7"/>
<circle cx="885.7" cy="127.6" r="8.7"/>
<circle cx="888.0" cy="125.2" r="8.7"/>
<circle cx="889.8" cy="116.2" r="8.7"/>
<circle cx="892.4" cy="128.1" r="8.7"/>
<circle cx="892.4" cy="120.2" r="8.7"/>
<circle cx="894.8" cy="115.1" r="8.7"/>
<circle cx="896.5" cy="114.9" r="8.7"/>
<circle cx="896.6" cy="124.7" r="8.7"/>
<circle cx="898.5" cy="114.9" r="8.7"/>
<circle cx="901.5" cy="116.0" r="8.7"/>
<circle cx="900.8" cy="121.6" r="8.7"/>
<circle cx="902.8" cy="131.5" r="8.7"/>
<circle cx="904.8" cy="115.3" r="8.7"/>
<circle cx="905.0" cy="122.3" r="8.7"/>
<circle cx="906.7" cy="117.0" r="8.7"/>
<circle cx="908.8" cy="123.6" r="8.7"/>
<circle cx="909.2" cy="123.3" r="8.7"/>
<circle cx="911.5" cy="130.9" r="8.7"/>
<circle cx="913.0" cy="118.4" r="8.7"/>
<circle cx="913.4" cy="128.7" r="8.7"/>
<circle cx="915.5" cy="117.9" r="8.7"/>
<circle cx="917.1" cy="117.9" r="8.7"/>
<circle cx="917.6" cy="128.0" r="8.7"/>
<circle cx="919.4" cy="116.2" r="8.7"/>
<circle cx="921.1" cy="135.0" r="8.7"/>
<circle cx="921.8" cy="127.2" r="8.7"/>
<circle cx="923.8" cy="135.9" r="8.7"/>
<circle cx="925.8" cy="128.9" r="8.7"/>
<circle cx="926.0" cy="128.7" r="8.7"/>
<circle cx="928.6" cy="114.8" r="8.7"/>
<circle cx="929.7" cy="132.0" r="8.7"/>
<circle cx="930.2" cy="127.9" r="8.7"/>
<circle cx="931.6" cy="113.0" r="8.7"/>
<circle cx="934.1" cy="129.2" r="8.7"/>
<circle cx="934.4" cy="121.9" r="8.7"/>
<circle cx="936.9" cy="137.0" r="8.7"/>
<circle cx="938.1" cy="136.9" r="8.7"/>
<circle cx="938.6" cy="129.2" r="8.7"/>
<circle cx="940.9" cy="133.0" r="8.7"/>
<circle cx="943.3" cy="133.4" r="8.7"/>
<circle cx="942.8" cy="123.9" r="8.7"/>
<circle cx="945.2" cy="127.4" r="8.7"/>
<circle cx="947.1" cy="115.6" r="8.7"/>
<circle cx="947.0" cy="124.8" r="8.7"/>
<circle cx="949.1" cy="138.1" r="8.7"/>
<circle cx="951.2" cy="138.1" r="8.7"/>
<circle cx="951.2" cy="126.2" r="8.7"/>
<circle cx="953.8" cy="113.2" r="8.7"/>
<circle cx="955.2" cy="113.3" r="8.7"/>
<circle cx="955.4" cy="124.3" r="8.7"/>
<circle cx="957.7" cy="113.7" r="8.7"/>
<circle cx="959.8" cy="111.9" r="8.7"/>
<circle cx="959.6" cy="125.7" r="8.7"/>
<circle cx="962.4" cy="119.2" r="8.7"/>
<circle cx="964.4" cy="134.8" r="8.7"/>
<circle cx="963.8" cy="118.9" r="8.7"/>
<circle cx="965.7" cy="125.5" r="8.7"/>
<circle cx="968.0" cy="117.8" r="8.7"/>
<circle cx="968.0" cy="121.5" r="8.7"/>
<circle cx="970.0" cy="113.0" r="8.7"/>
<circle cx="972.7" cy="107.1" r="8.7"/>
<circle cx="972.2" cy="118.5" r="8.7"/>
<circle cx="974.3" cy="130.1" r="8.7"/>
<circle cx="976.8" cy="121.2" r="8.7"/>
<circle cx="976.4" cy="116.0" r="8.7"/>
<circle cx="978.9" cy="127.5" r="8.7"/>
<circle cx="981.1" cy="105.2" r="8.7"/>
<circle cx="980.6" cy="116.5" r="8.7"/>
<circle cx="983.3" cy="127.5" r="8.7"/>
<circle cx="985.2" cy="123.8" r="8.7"/>
<circle cx="987.1" cy="125.5" r="8.7"/>
<circle cx="989.1" cy="128.0" r="8.7"/>
<circle cx="991.3" cy="123.8" r="8.7"/>
<circle cx="992.6" cy="119.2" r="8.7"/>
<circle cx="995.5" cy="126.6" r="8.7"/>
<circle cx="997.8" cy="113.3" r="8.7"/>
<circle cx="997.4" cy="119.4" r="8.7"/>
<circle cx="999.4" cy="124.9" r="8.7"/>
<circle cx="1001.0" cy="123.8" r="8.7"/>
<circle cx="1001.6" cy="116.8" r="8.7"/>
<circle cx="1004.1" cy="124.5" r="8.7"/>
<circle cx="1005.6" cy="109.6" r="8.7"/>
<circle cx="1005.8" cy="117.5" r="8.7"/>
<circle cx="1007.9" cy="124.1" r="8.7"/>
<circle cx="1010.2" cy="124.1" r="8.7"/>
<circle cx="1010.0" cy="116.3" r="8.7"/>
<circle cx="1011.6" cy="123.3" r="8.7"/>
<circle cx="1014.7" cy="113.3" r="8.7"/>
<circle cx="1016.6" cy="124.0" r="8.7"/>
<circle cx="1018.8" cy="109.3" r="8.7"/>
<circle cx="1018.4" cy="117.8" r="8.7"/>
<circle cx="1019.9" cy="119.9" r="8.7"/>
<circle cx="1022.5" cy="119.2" r="8.7"/>
<circle cx="1022.6" cy="118.2" r="8.7"/>
<circle cx="1025.0" cy="104.9" r="8.7"/>
<circle cx="1026.2" cy="124.1" r="8.7"/>
<circle cx="1026.8" cy="112.6" r="8.7"/>
<circle cx="1029.4" cy="106.8" r="8.7"/>
<circle cx="1030.8" cy="126.1" r="8.7"/>
<circle cx="1031.0" cy="116.3" r="8.7"/>
<circle cx="1032.9" cy="106.0" r="8.7"/>
<circle cx="1035.1" cy="121.3" r="8.7"/>
<circle cx="1035.2" cy="117.3" r="8.7"/>
<circle cx="1037.7" cy="130.4" r="8.7"/>
<circle cx="1038.8" cy="132.0" r="8.7"/>
<circle cx="1039.4" cy="124.9" r="8.7"/>
<circle cx="1041.3" cy="128.8" r="8.7"/>
<circle cx="1044.1" cy="130.9" r="8.7"/>
<circle cx="1043.6" cy="121.7" r="8.7"/>
<circle cx="1046.0" cy="129.4" r="8.7"/>
<circle cx="1048.2" cy="126.7" r="8.7"/>
<circle cx="1047.8" cy="119.4" r="8.7"/>
<circle cx="1049.8" cy="126.5" r="8.7"/>
<circle cx="1052.5" cy="115.2" r="8.7"/>
<circle cx="1054.2" cy="122.8" r="8.7"/>
<circle cx="1056.6" cy="115.4" r="8.7"/>
<circle cx="1058.1" cy="122.0" r="8.7"/>
<circle cx="1060.8" cy="113.9" r="8.7"/>
<circle cx="1062.6" cy="115.0" r="8.7"/>
<circle cx="1064.2" cy="116.6" r="8.7"/>
<circle cx="1067.1" cy="110.5" r="8.7"/>
<circle cx="1068.4" cy="125.3" r="8.7"/>
<circle cx="1068.8" cy="117.6" r="8.7"/>
<circle cx="1070.9" cy="125.2" r="8.7"/>
<circle cx="1072.6" cy="106.3" r="8.7"/>
<circle cx="1073.0" cy="114.6" r="8.7"/>
<circle cx="1075.0" cy="104.0" r="8.7"/>
<circle cx="1076.6" cy="132.3" r="8.7"/>
<circle cx="1077.2" cy="123.0" r="8.7"/>
<circle cx="1078.8" cy="133.5" r="8.7"/>
<circle cx="1079.3" cy="127.1" r="8.7"/>
<circle cx="1081.4" cy="132.5" r="8.7"/>
<circle cx="1081.4" cy="111.7" r="8.7"/>
<circle cx="1083.6" cy="101.9" r="8.7"/>
<circle cx="1083.5" cy="108.3" r="8.7"/>
<circle cx="1085.5" cy="102.5" r="8.7"/>
<circle cx="1085.6" cy="121.7" r="8.7"/>
<circle cx="1088.3" cy="126.1" r="8.7"/>
<circle cx="1089.2" cy="130.4" r="8.7"/>
<circle cx="1089.8" cy="112.2" r="8.7"/>
<circle cx="1091.8" cy="103.7" r="8.7"/>
<circle cx="1093.4" cy="126.5" r="8.7"/>
<circle cx="1094.0" cy="117.1" r="8.7"/>
<circle cx="1096.2" cy="127.7" r="8.7"/>
<circle cx="1098.4" cy="126.9" r="8.7"/>
<circle cx="1098.2" cy="113.7" r="8.7"/>
<circle cx="1101.0" cy="127.5" r="8.7"/>
<circle cx="1101.8" cy="105.4" r="8.7"/>
<circle cx="1102.4" cy="110.8" r="8.7"/>
<circle cx="1103.9" cy="99.6" r="8.7"/>
<circle cx="1106.8" cy="117.9" r="8.7"/>
<circle cx="1106.6" cy="116.7" r="8.7"/>
<circle cx="1109.1" cy="125.0" r="8.7"/>
<circle cx="1110.5" cy="116.4" r="8.7"/>
<circle cx="1110.8" cy="112.3" r="8.7"/>
<circle cx="1112.7" cy="100.8" r="8.7"/>
<circle cx="1114.6" cy="124.1" r="8.7"/>
<circle cx="1115.0" cy="108.4" r="8.7"/>
<circle cx="1117.4" cy="99.6" r="8.7"/>
<circle cx="1119.8" cy="123.7" r="8.7"/>
<circle cx="1119.2" cy="109.3" r="8.7"/>
<circle cx="1121.8" cy="119.5" r="8.7"/>
<circle cx="1123.9" cy="120.7" r="8.7"/>
<circle cx="1123.4" cy="108.6" r="8.7"/>
<circle cx="1126.0" cy="120.6" r="8.7"/>
<circle cx="1125.5" cy="95.5" r="8.7"/>
<circle cx="1127.0" cy="84.4" r="8.7"/>
<circle cx="1127.6" cy="105.6" r="8.7"/>
<circle cx="1130.2" cy="120.9" r="8.7"/>
<circle cx="1129.7" cy="112.8" r="8.7"/>
<circle cx="1132.3" cy="122.1" r="8.7"/>
<circle cx="1131.8" cy="101.6" r="8.7"/>
<circle cx="1133.6" cy="122.9" r="8.7"/>
<circle cx="1133.9" cy="95.8" r="8.7"/>
<circle cx="1136.7" cy="94.4" r="8.7"/>
<circle cx="1136.0" cy="102.4" r="8.7"/>
<circle cx="1137.7" cy="112.4" r="8.7"/>
<circle cx="1138.1" cy="116.0" r="8.7"/>
<circle cx="1140.0" cy="121.6" r="8.7"/>
<circle cx="1140.2" cy="110.7" r="8.7"/>
<circle cx="1141.7" cy="117.3" r="8.7"/>
<circle cx="1142.3" cy="94.0" r="8.7"/>
<circle cx="1143.8" cy="85.5" r="8.7"/>
<circle cx="1144.4" cy="103.9" r="8.7"/>
<circle cx="1146.3" cy="85.1" r="8.7"/>
<circle cx="1146.5" cy="108.5" r="8.7"/>
<circle cx="1149.1" cy="113.8" r="8.7"/>
<circle cx="1148.6" cy="98.0" r="8.7"/>
<circle cx="1150.8" cy="111.7" r="8.7"/>
<circle cx="1150.7" cy="87.0" r="8.7"/>
<circle cx="1153.2" cy="111.3" r="8.7"/>
<circle cx="1152.8" cy="97.4" r="8.7"/>
<circle cx="1154.9" cy="109.6" r="8.7"/>
<circle cx="1154.9" cy="103.2" r="8.7"/>
<circle cx="1157.2" cy="109.4" r="8.7"/>
<circle cx="1157.0" cy="95.2" r="8.7"/>
<circle cx="1158.7" cy="94.5" r="8.7"/>
<circle cx="1159.1" cy="81.5" r="8.7"/>
<circle cx="1160.6" cy="73.5" r="8.7"/>
<circle cx="1161.2" cy="94.4" r="8.7"/>
<circle cx="1163.8" cy="71.3" r="8.7"/>
<circle cx="1163.3" cy="99.6" r="8.7"/>
<circle cx="1165.9" cy="106.3" r="8.7"/>
<circle cx="1165.4" cy="85.0" r="8.7"/>
<circle cx="1167.3" cy="69.0" r="8.7"/>
<circle cx="1167.5" cy="77.4" r="8.7"/>
<circle cx="1169.6" cy="110.7" r="8.7"/>
<circle cx="1169.6" cy="88.4" r="8.7"/>
<circle cx="1172.0" cy="112.3" r="8.7"/>
<circle cx="1171.7" cy="102.2" r="8.7"/>
<circle cx="1173.5" cy="107.6" r="8.7"/>
<circle cx="1173.8" cy="93.8" r="8.7"/>
<circle cx="1176.5" cy="69.3" r="8.7"/>
<circle cx="1175.9" cy="76.9" r="8.7"/>
<circle cx="1178.0" cy="67.4" r="8.7"/>
<circle cx="1178.0" cy="88.7" r="8.7"/>
<circle cx="1179.5" cy="65.8" r="8.7"/>
<circle cx="1180.1" cy="98.0" r="8.7"/>
<circle cx="1181.5" cy="66.0" r="8.7"/>
<circle cx="1182.2" cy="79.4" r="8.7"/>
<circle cx="1183.6" cy="72.0" r="8.7"/>
<circle cx="1184.3" cy="73.1" r="8.7"/>
<circle cx="1185.8" cy="66.0" r="8.7"/>
<circle cx="1186.4" cy="86.4" r="8.7"/>
<circle cx="1188.0" cy="64.9" r="8.7"/>
<circle cx="1188.5" cy="89.7" r="8.7"/>
<circle cx="1190.3" cy="62.3" r="8.7"/>
<circle cx="1190.6" cy="74.8" r="8.7"/>
<circle cx="1192.2" cy="94.0" r="8.7"/>
<circle cx="1192.7" cy="68.7" r="8.7"/>
<circle cx="1194.3" cy="60.8" r="8.7"/>
<circle cx="1194.8" cy="81.5" r="8.7"/>
<circle cx="1196.8" cy="72.4" r="8.7"/>
<circle cx="1196.9" cy="86.5" r="8.7"/>
<circle cx="1198.9" cy="76.4" r="8.7"/>
<circle cx="1199.0" cy="81.2" r="8.7"/>
<circle cx="1200.7" cy="68.4" r="8.7"/>
<circle cx="1201.1" cy="64.0" r="8.7"/>
<circle cx="1203.8" cy="90.4" r="8.7"/>
<circle cx="1203.2" cy="77.8" r="8.7"/>
<circle cx="1205.3" cy="55.0" r="8.7"/>
<circle cx="1205.3" cy="83.3" r="8.7"/>
<circle cx="1207.0" cy="88.9" r="8.7"/>
<circle cx="1207.4" cy="70.4" r="8.7"/>
<circle cx="1209.5" cy="66.0" r="8.7"/>
<circle cx="1209.5" cy="60.4" r="8.7"/>
<circle cx="1211.6" cy="91.3" r="8.7"/>
<circle cx="1211.6" cy="65.0" r="8.7"/>
<circle cx="1213.9" cy="52.6" r="8.7"/>
<circle cx="1213.7" cy="82.8" r="8.7"/>
<circle cx="1216.3" cy="87.3" r="8.7"/>
<circle cx="1215.8" cy="65.7" r="8.7"/>
<circle cx="1218.1" cy="63.2" r="8.7"/>
<circle cx="1217.9" cy="61.6" r="8.7"/>
<circle cx="1220.6" cy="56.2" r="8.7"/>
<circle cx="1220.0" cy="74.3" r="8.7"/>
<circle cx="1221.8" cy="56.4" r="8.7"/>
<circle cx="1222.1" cy="83.6" r="8.7"/>
<circle cx="1223.7" cy="55.0" r="8.7"/>
<circle cx="1224.2" cy="74.4" r="8.7"/>
<circle cx="1226.0" cy="72.2" r="8.7"/>
<circle cx="1226.3" cy="61.5" r="8.7"/>
<circle cx="1227.9" cy="52.9" r="8.7"/>
<circle cx="1228.4" cy="67.7" r="8.7"/>
<circle cx="1230.1" cy="85.2" r="8.7"/>
<circle cx="1230.5" cy="78.1" r="8.7"/>
<circle cx="1232.7" cy="52.2" r="8.7"/>
<circle cx="1232.6" cy="69.1" r="8.7"/>
<circle cx="1234.6" cy="52.1" r="8.7"/>
<circle cx="1234.7" cy="57.7" r="8.7"/>
<circle cx="1236.4" cy="51.1" r="8.7"/>
<circle cx="1236.8" cy="61.8" r="8.7"/>
<circle cx="1239.0" cy="76.7" r="8.7"/>
<circle cx="1241.1" cy="75.0" r="8.7"/>
<circle cx="1241.0" cy="62.0" r="8.7"/>
<circle cx="1242.8" cy="48.3" r="8.7"/>
<circle cx="1244.6" cy="50.9" r="8.7"/>
<circle cx="1245.2" cy="63.0" r="8.7"/>
<circle cx="1247.6" cy="71.5" r="8.7"/>
<circle cx="1250.0" cy="75.1" r="8.7"/>
<circle cx="1249.4" cy="63.8" r="8.7"/>
<circle cx="1251.7" cy="78.4" r="8.7"/>
<circle cx="1251.5" cy="54.7" r="8.7"/>
<circle cx="1253.6" cy="76.8" r="8.7"/>
<circle cx="1253.6" cy="68.5" r="8.7"/>
<circle cx="1255.7" cy="77.1" r="8.7"/>
<circle cx="1255.7" cy="77.7" r="8.7"/>
<circle cx="1258.4" cy="73.6" r="8.7"/>
<circle cx="1257.8" cy="61.2" r="8.7"/>
<circle cx="1260.3" cy="46.7" r="8.7"/>
<circle cx="1259.9" cy="54.6" r="8.7"/>
<circle cx="1262.6" cy="79.4" r="8.7"/>
<circle cx="1262.0" cy="64.1" r="8.7"/>
<circle cx="1263.9" cy="46.7" r="8.7"/>
<circle cx="1264.1" cy="73.2" r="8.7"/>
<circle cx="1266.5" cy="82.2" r="8.7"/>
<circle cx="1266.2" cy="62.4" r="8.7"/>
<circle cx="1268.7" cy="48.5" r="8.7"/>
<circle cx="1268.3" cy="56.2" r="8.7"/>
<circle cx="1270.3" cy="68.3" r="8.7"/>
<circle cx="1270.4" cy="64.0" r="8.7"/>
<circle cx="1272.6" cy="89.5" r="8.7"/>
<circle cx="1272.5" cy="81.2" r="8.7"/>
<circle cx="1275.1" cy="91.5" r="8.7"/>
<circle cx="1274.6" cy="76.6" r="8.7"/>
<circle cx="1276.6" cy="60.6" r="8.7"/>
<circle cx="1276.7" cy="61.5" r="8.7"/>
<circle cx="1278.2" cy="53.2" r="8.7"/>
<circle cx="1278.8" cy="75.7" r="8.7"/>
<circle cx="1281.3" cy="54.1" r="8.7"/>
<circle cx="1280.9" cy="88.0" r="8.7"/>
<circle cx="1283.3" cy="56.0" r="8.7"/>
<circle cx="1283.0" cy="74.9" r="8.7"/>
<circle cx="1284.9" cy="55.0" r="8.7"/>
<circle cx="1285.1" cy="65.1" r="8.7"/>
<circle cx="1287.2" cy="86.7" r="8.7"/>
<circle cx="1287.2" cy="72.1" r="8.7"/>
<circle cx="1289.8" cy="100.9" r="8.7"/>
<circle cx="1289.3" cy="92.4" r="8.7"/>
<circle cx="1291.3" cy="79.9" r="8.7"/>
<circle cx="1291.4" cy="82.6" r="8.7"/>
<circle cx="1293.5" cy="74.0" r="8.7"/>
<circle cx="1293.5" cy="68.4" r="8.7"/>
<circle cx="1295.3" cy="67.1" r="8.7"/>
<circle cx="1295.6" cy="90.1" r="8.7"/>
<circle cx="1297.2" cy="83.8" r="8.7"/>
<circle cx="1297.7" cy="95.7" r="8.7"/>
<circle cx="1300.2" cy="92.5" r="8.7"/>
<circle cx="1299.8" cy="91.7" r="8.7"/>
<circle cx="1301.4" cy="81.5" r="8.7"/>
<circle cx="1301.9" cy="73.1" r="8.7"/>
<circle cx="1304.0" cy="65.5" r="8.7"/>
<circle cx="1304.0" cy="81.2" r="8.7"/>
<circle cx="1306.8" cy="67.3" r="8.7"/>
<circle cx="1306.1" cy="98.0" r="8.7"/>
<circle cx="1308.1" cy="69.4" r="8.7"/>
<circle cx="1308.2" cy="91.8" r="8.7"/>
<circle cx="1309.6" cy="71.4" r="8.7"/>
<circle cx="1310.3" cy="79.4" r="8.7"/>
<circle cx="1312.0" cy="75.3" r="8.7"/>
<circle cx="1312.4" cy="92.5" r="8.7"/>
<circle cx="1314.7" cy="112.4" r="8.7"/>
<circle cx="1314.5" cy="105.1" r="8.7"/>
<circle cx="1316.1" cy="80.6" r="8.7"/>
<circle cx="1316.6" cy="93.1" r="8.7"/>
<circle cx="1318.1" cy="86.1" r="8.7"/>
<circle cx="1318.7" cy="90.2" r="8.7"/>
<circle cx="1321.3" cy="85.6" r="8.7"/>
<circle cx="1320.8" cy="103.3" r="8.7"/>
<circle cx="1322.2" cy="87.9" r="8.7"/>
<circle cx="1322.9" cy="112.3" r="8.7"/>
<circle cx="1325.3" cy="97.6" r="8.7"/>
<circle cx="1325.0" cy="102.0" r="8.7"/>
<circle cx="1327.2" cy="120.0" r="8.7"/>
<circle cx="1327.1" cy="95.0" r="8.7"/>
<circle cx="1329.0" cy="121.6" r="8.7"/>
<circle cx="1329.2" cy="100.0" r="8.7"/>
<circle cx="1331.9" cy="109.3" r="8.7"/>
<circle cx="1331.3" cy="116.2" r="8.7"/>
<circle cx="1334.0" cy="89.3" r="8.7"/>
<circle cx="1333.4" cy="111.7" r="8.7"/>
<circle cx="1335.9" cy="90.3" r="8.7"/>
<circle cx="1335.5" cy="98.1" r="8.7"/>
<circle cx="1338.2" cy="92.9" r="8.7"/>
<circle cx="1337.6" cy="106.3" r="8.7"/>
<circle cx="1339.3" cy="93.3" r="8.7"/>
<circle cx="1339.7" cy="121.1" r="8.7"/>
<circle cx="1341.4" cy="96.6" r="8.7"/>
<circle cx="1341.8" cy="108.4" r="8.7"/>
<circle cx="1344.6" cy="132.0" r="8.7"/>
<circle cx="1343.9" cy="104.0" r="8.7"/>
<circle cx="1345.8" cy="98.5" r="8.7"/>
<circle cx="1346.0" cy="114.2" r="8.7"/>
<circle cx="1348.6" cy="134.0" r="8.7"/>
<circle cx="1348.1" cy="126.9" r="8.7"/>
<circle cx="1349.8" cy="134.7" r="8.7"/>
<circle cx="1350.2" cy="111.1" r="8.7"/>
<circle cx="1351.8" cy="111.3" r="8.7"/>
<circle cx="1352.3" cy="107.2" r="8.7"/>
<circle cx="1354.1" cy="102.6" r="8.7"/>
<circle cx="1354.4" cy="121.3" r="8.7"/>
<circle cx="1357.0" cy="134.1" r="8.7"/>
<circle cx="1356.5" cy="127.0" r="8.7"/>
<circle cx="1358.4" cy="105.2" r="8.7"/>
<circle cx="1358.6" cy="120.1" r="8.7"/>
<circle cx="1360.7" cy="100.5" r="8.7"/>
<circle cx="1360.7" cy="107.7" r="8.7"/>
<circle cx="1362.3" cy="132.1" r="8.7"/>
<circle cx="1362.8" cy="120.0" r="8.7"/>
<circle cx="1364.5" cy="102.3" r="8.7"/>
<circle cx="1364.9" cy="127.7" r="8.7"/>
<circle cx="1367.5" cy="109.9" r="8.7"/>
<circle cx="1367.0" cy="115.0" r="8.7"/>
<circle cx="1368.8" cy="105.1" r="8.7"/>
<circle cx="1369.1" cy="111.6" r="8.7"/>
<circle cx="1371.4" cy="117.8" r="8.7"/>
<circle cx="1371.2" cy="122.0" r="8.7"/>
<circle cx="1373.8" cy="136.2" r="8.7"/>
<circle cx="1374.9" cy="109.6" r="8.7"/>
<circle cx="1375.4" cy="123.8" r="8.7"/>
<circle cx="1377.2" cy="110.9" r="8.7"/>
<circle cx="1379.9" cy="137.3" r="8.7"/>
<circle cx="1379.6" cy="122.0" r="8.7"/>
<circle cx="1382.2" cy="109.7" r="8.7"/>
<circle cx="1383.1" cy="135.9" r="8.7"/>
<circle cx="1383.8" cy="125.0" r="8.7"/>
<circle cx="1385.8" cy="118.1" r="8.7"/>
<circle cx="1385.9" cy="114.2" r="8.7"/>
<circle cx="1387.6" cy="128.7" r="8.7"/>
<circle cx="1388.0" cy="126.2" r="8.7"/>
<circle cx="1390.7" cy="105.4" r="8.7"/>
<circle cx="1390.1" cy="131.0" r="8.7"/>
<circle cx="1391.6" cy="128.8" r="8.7"/>
<circle cx="1392.2" cy="115.8" r="8.7"/>
<circle cx="1394.0" cy="138.5" r="8.7"/>
<circle cx="1394.3" cy="112.3" r="8.7"/>
<circle cx="1396.0" cy="138.9" r="8.7"/>
<circle cx="1396.4" cy="126.8" r="8.7"/>
<circle cx="1398.2" cy="108.9" r="8.7"/>
<circle cx="1398.5" cy="132.7" r="8.7"/>
<circle cx="1401.1" cy="108.8" r="8.7"/>
<circle cx="1400.6" cy="127.7" r="8.7"/>
<circle cx="1403.2" cy="140.9" r="8.7"/>
<circle cx="1402.7" cy="117.1" r="8.7"/>
<circle cx="1404.4" cy="112.8" r="8.7"/>
<circle cx="1404.8" cy="122.2" r="8.7"/>
<circle cx="1407.5" cy="118.2" r="8.7"/>
<circle cx="1409.3" cy="115.3" r="8.7"/>
<circle cx="1409.0" cy="125.7" r="8.7"/>
<circle cx="1410.8" cy="135.5" r="8.7"/>
<circle cx="1413.5" cy="116.3" r="8.7"/>
<circle cx="1413.2" cy="129.2" r="8.7"/>
<circle cx="1415.2" cy="130.3" r="8.7"/>
<circle cx="1417.3" cy="116.8" r="8.7"/>
<circle cx="1417.4" cy="127.5" r="8.7"/>
<circle cx="1419.9" cy="118.6" r="8.7"/>
<circle cx="1421.7" cy="114.9" r="8.7"/>
<circle cx="1421.6" cy="131.5" r="8.7"/>
<circle cx="1423.3" cy="128.4" r="8.7"/>
<circle cx="1425.7" cy="140.7" r="8.7"/>
<circle cx="1425.8" cy="124.2" r="8.7"/>
<circle cx="1427.5" cy="141.7" r="8.7"/>
<circle cx="1427.9" cy="118.8" r="8.7"/>
<circle cx="1429.9" cy="112.8" r="8.7"/>
<circle cx="1430.0" cy="131.8" r="8.7"/>
<circle cx="1432.2" cy="143.0" r="8.7"/>
<circle cx="1432.1" cy="136.0" r="8.7"/>
<circle cx="1434.3" cy="110.7" r="8.7"/>
<circle cx="1434.2" cy="129.8" r="8.7"/>
<circle cx="1436.7" cy="111.8" r="8.7"/>
<circle cx="1436.3" cy="117.9" r="8.7"/>
<circle cx="1438.1" cy="114.8" r="8.7"/>
<circle cx="1438.4" cy="124.9" r="8.7"/>
<circle cx="1440.2" cy="140.0" r="8.7"/>
<circle cx="1442.4" cy="112.8" r="8.7"/>
<circle cx="1442.6" cy="125.8" r="8.7"/>
<circle cx="1444.1" cy="138.8" r="8.7"/>
<circle cx="1447.1" cy="113.4" r="8.7"/>
<circle cx="1446.8" cy="129.9" r="8.7"/>
<circle cx="1448.9" cy="137.6" r="8.7"/>
<circle cx="1451.6" cy="138.9" r="8.7"/>
<circle cx="1451.0" cy="127.1" r="8.7"/>
<circle cx="1453.3" cy="138.3" r="8.7"/>
<circle cx="1454.7" cy="141.1" r="8.7"/>
<circle cx="1455.2" cy="121.0" r="8.7"/>
<circle cx="1457.0" cy="137.0" r="8.7"/>
<circle cx="1457.3" cy="135.0" r="8.7"/>
<circle cx="1458.9" cy="110.7" r="8.7"/>
<circle cx="1459.4" cy="129.6" r="8.7"/>
<circle cx="1461.3" cy="134.7" r="8.7"/>
<circle cx="1461.5" cy="116.6" r="8.7"/>
<circle cx="1463.3" cy="111.0" r="8.7"/>
<circle cx="1463.6" cy="124.5" r="8.7"/>
<circle cx="1465.1" cy="143.0" r="8.7"/>
<circle cx="1465.7" cy="135.6" r="8.7"/>
<circle cx="1468.2" cy="109.5" r="8.7"/>
<circle cx="1467.8" cy="128.5" r="8.7"/>
<circle cx="1469.9" cy="141.2" r="8.7"/>
<circle cx="1469.9" cy="116.4" r="8.7"/>
<circle cx="1471.4" cy="142.5" r="8.7"/>
<circle cx="1472.0" cy="128.1" r="8.7"/>
<circle cx="1474.8" cy="141.3" r="8.7"/>
<circle cx="1474.1" cy="135.1" r="8.7"/>
<circle cx="1476.5" cy="142.0" r="8.7"/>
<circle cx="1476.2" cy="119.8" r="8.7"/>
<circle cx="1478.7" cy="137.6" r="8.7"/>
<circle cx="1478.3" cy="116.4" r="8.7"/>
<circle cx="1480.6" cy="142.1" r="8.7"/>
<circle cx="1480.4" cy="126.0" r="8.7"/>
<circle cx="1483.0" cy="140.6" r="8.7"/>
<circle cx="1482.5" cy="134.9" r="8.7"/>
<circle cx="1484.3" cy="115.6" r="8.7"/>
<circle cx="1484.6" cy="125.5" r="8.7"/>
<circle cx="1486.3" cy="141.2" r="8.7"/>
<circle cx="1486.7" cy="117.8" r="8.7"/>
<circle cx="1489.4" cy="138.9" r="8.7"/>
<circle cx="1488.8" cy="130.4" r="8.7"/>
<circle cx="1491.1" cy="140.3" r="8.7"/>
<circle cx="1493.2" cy="114.2" r="8.7"/>
<circle cx="1493.0" cy="128.0" r="8.7"/>
<circle cx="1495.7" cy="112.1" r="8.7"/>
<circle cx="1495.1" cy="118.2" r="8.7"/>
<circle cx="1497.7" cy="110.7" r="8.7"/>
<circle cx="1497.2" cy="121.0" r="8.7"/>
<circle cx="1499.2" cy="110.3" r="8.7"/>
<circle cx="1499.3" cy="135.1" r="8.7"/>
<circle cx="1501.3" cy="109.4" r="8.7"/>
<circle cx="1501.4" cy="126.0" r="8.7"/>
<circle cx="1503.0" cy="142.2" r="8.7"/>
<circle cx="1503.5" cy="115.3" r="8.7"/>
<circle cx="1506.1" cy="106.8" r="8.7"/>
<circle cx="1505.6" cy="121.8" r="8.7"/>
<circle cx="1507.4" cy="107.1" r="8.7"/>
<circle cx="1507.7" cy="135.1" r="8.7"/>
<circle cx="1509.3" cy="107.9" r="8.7"/>
<circle cx="1509.8" cy="125.3" r="8.7"/>
<circle cx="1511.8" cy="140.7" r="8.7"/>
<circle cx="1511.9" cy="116.0" r="8.7"/>
<circle cx="1514.3" cy="140.7" r="8.7"/>
<circle cx="1514.0" cy="128.3" r="8.7"/>
<circle cx="1516.4" cy="110.8" r="8.7"/>
<circle cx="1516.1" cy="134.1" r="8.7"/>
<circle cx="1518.8" cy="110.9" r="8.7"/>
<circle cx="1518.2" cy="126.2" r="8.7"/>
<circle cx="1520.7" cy="115.1" r="8.7"/>
<circle cx="1522.2" cy="139.5" r="8.7"/>
<circle cx="1522.4" cy="121.3" r="8.7"/>
<circle cx="1524.4" cy="139.3" r="8.7"/>
<circle cx="1527.1" cy="130.0" r="8.7"/>
<circle cx="1526.6" cy="127.5" r="8.7"/>
<circle cx="1528.2" cy="136.3" r="8.7"/>
<circle cx="710.2" cy="102.0" r="8.7"/>
<circle cx="1178.5" cy="115.0" r="8.7"/>
</g>
<g fill="#00b050">
<circle cx="163.0" cy="343.7" r="8.7"/>
<circle cx="163.0" cy="368.8" r="8.7"/>
<circle cx="178.8" cy="336.2" r="8.7"/>
<circle cx="178.8" cy="360.1" r="8.7"/>
<circle cx="192.5" cy="332.4" r="8.7"/>
<circle cx="192.5" cy="355.1" r="8.7"/>
<circle cx="202.5" cy="338.7" r="8.7"/>
<circle cx="202.5" cy="357.6" r="8.7"/>
<circle cx="217.5" cy="339.9" r="8.7"/>
<circle cx="217.5" cy="351.3" r="8.7"/>
<circle cx="237.5" cy="329.9" r="8.7"/>
<circle cx="237.5" cy="346.3" r="8.7"/>
<circle cx="245.0" cy="336.2" r="8.7"/>
<circle cx="245.0" cy="357.6" r="8.7"/>
<circle cx="255.0" cy="337.4" r="8.7"/>
<circle cx="255.0" cy="358.8" r="8.7"/>
<circle cx="266.2" cy="323.7" r="8.7"/>
<circle cx="266.2" cy="376.3" r="8.7"/>
<circle cx="275.0" cy="341.2" r="8.7"/>
<circle cx="275.0" cy="375.1" r="8.7"/>
<circle cx="287.5" cy="332.4" r="8.7"/>
<circle cx="287.5" cy="382.6" r="8.7"/>
<circle cx="295.0" cy="343.7" r="8.7"/>
<circle cx="295.0" cy="378.8" r="8.7"/>
<circle cx="305.0" cy="361.2" r="8.7"/>
<circle cx="305.0" cy="383.8" r="8.7"/>
<circle cx="320.0" cy="344.9" r="8.7"/>
<circle cx="320.0" cy="387.6" r="8.7"/>
<circle cx="335.0" cy="343.7" r="8.7"/>
<circle cx="335.0" cy="385.1" r="8.7"/>
<circle cx="341.2" cy="328.7" r="8.7"/>
<circle cx="341.2" cy="381.3" r="8.7"/>
<circle cx="346.2" cy="344.9" r="8.7"/>
<circle cx="346.2" cy="375.1" r="8.7"/>
<circle cx="357.5" cy="353.7" r="8.7"/>
<circle cx="357.5" cy="375.1" r="8.7"/>
<circle cx="377.5" cy="349.9" r="8.7"/>
<circle cx="377.5" cy="366.3" r="8.7"/>
<circle cx="388.8" cy="356.2" r="8.7"/>
<circle cx="388.8" cy="373.8" r="8.7"/>
<circle cx="402.5" cy="356.2" r="8.7"/>
<circle cx="402.5" cy="368.8" r="8.7"/>
<circle cx="417.5" cy="344.9" r="8.7"/>
<circle cx="417.5" cy="361.3" r="8.7"/>
<circle cx="430.0" cy="337.4" r="8.7"/>
<circle cx="430.0" cy="353.8" r="8.7"/>
<circle cx="442.5" cy="321.2" r="8.7"/>
<circle cx="442.5" cy="343.8" r="8.7"/>
<circle cx="452.5" cy="303.7" r="8.7"/>
<circle cx="452.5" cy="331.3" r="8.7"/>
<circle cx="462.5" cy="278.7" r="8.7"/>
<circle cx="462.5" cy="325.1" r="8.7"/>
<circle cx="470.0" cy="261.2" r="8.7"/>
<circle cx="470.0" cy="308.8" r="8.7"/>
<circle cx="480.0" cy="241.2" r="8.7"/>
<circle cx="480.0" cy="286.3" r="8.7"/>
<circle cx="487.5" cy="226.2" r="8.7"/>
<circle cx="487.5" cy="253.8" r="8.7"/>
<circle cx="495.0" cy="217.4" r="8.7"/>
<circle cx="495.0" cy="238.8" r="8.7"/>
<circle cx="505.0" cy="216.2" r="8.7"/>
<circle cx="505.0" cy="232.6" r="8.7"/>
<circle cx="512.0" cy="214.9" r="8.7"/>
<circle cx="512.0" cy="245.1" r="8.7"/>
<circle cx="522.0" cy="226.2" r="8.7"/>
<circle cx="522.0" cy="246.3" r="8.7"/>
<circle cx="529.5" cy="232.4" r="8.7"/>
<circle cx="529.5" cy="252.6" r="8.7"/>
<circle cx="537.0" cy="253.7" r="8.7"/>
<circle cx="537.0" cy="273.8" r="8.7"/>
<circle cx="544.5" cy="271.2" r="8.7"/>
<circle cx="544.5" cy="288.8" r="8.7"/>
<circle cx="554.5" cy="294.9" r="8.7"/>
<circle cx="554.5" cy="298.8" r="8.7"/>
<circle cx="562.0" cy="302.4" r="8.7"/>
<circle cx="562.0" cy="311.3" r="8.7"/>
<circle cx="574.5" cy="308.7" r="8.7"/>
<circle cx="574.5" cy="330.1" r="8.7"/>
<circle cx="579.5" cy="306.2" r="8.7"/>
<circle cx="579.5" cy="326.3" r="8.7"/>
<circle cx="592.0" cy="308.7" r="8.7"/>
<circle cx="592.0" cy="327.6" r="8.7"/>
<circle cx="604.5" cy="311.2" r="8.7"/>
<circle cx="604.5" cy="323.8" r="8.7"/>
<circle cx="614.5" cy="299.9" r="8.7"/>
<circle cx="614.5" cy="316.3" r="8.7"/>
<circle cx="622.0" cy="307.4" r="8.7"/>
<circle cx="622.0" cy="313.8" r="8.7"/>
<circle cx="629.5" cy="303.7" r="8.7"/>
<circle cx="629.5" cy="310.1" r="8.7"/>
<circle cx="637.0" cy="306.2" r="8.7"/>
<circle cx="637.0" cy="310.1" r="8.7"/>
<circle cx="649.5" cy="298.7" r="8.7"/>
<circle cx="649.5" cy="310.1" r="8.7"/>
<circle cx="657.0" cy="288.7" r="8.7"/>
<circle cx="657.0" cy="303.8" r="8.7"/>
<circle cx="664.5" cy="292.4" r="8.7"/>
<circle cx="664.5" cy="302.6" r="8.7"/>
<circle cx="672.0" cy="296.2" r="8.7"/>
<circle cx="672.0" cy="300.1" r="8.7"/>
<circle cx="684.5" cy="282.4" r="8.7"/>
<circle cx="684.5" cy="295.1" r="8.7"/>
<circle cx="697.0" cy="276.2" r="8.7"/>
<circle cx="697.0" cy="298.8" r="8.7"/>
<circle cx="703.2" cy="286.2" r="8.7"/>
<circle cx="703.2" cy="303.8" r="8.7"/>
<circle cx="717.0" cy="279.9" r="8.7"/>
<circle cx="717.0" cy="297.6" r="8.7"/>
<circle cx="732.0" cy="277.4" r="8.7"/>
<circle cx="732.0" cy="295.1" r="8.7"/>
<circle cx="742.0" cy="281.2" r="8.7"/>
<circle cx="742.0" cy="316.3" r="8.7"/>
<circle cx="752.0" cy="282.4" r="8.7"/>
<circle cx="752.0" cy="316.3" r="8.7"/>
<circle cx="759.5" cy="286.2" r="8.7"/>
<circle cx="759.5" cy="315.1" r="8.7"/>
<circle cx="762.0" cy="307.4" r="8.7"/>
<circle cx="762.0" cy="313.8" r="8.7"/>
<circle cx="772.0" cy="317.4" r="8.7"/>
<circle cx="772.0" cy="332.6" r="8.7"/>
<circle cx="782.0" cy="324.9" r="8.7"/>
<circle cx="782.0" cy="338.8" r="8.7"/>
<circle cx="792.0" cy="328.7" r="8.7"/>
<circle cx="792.0" cy="340.1" r="8.7"/>
<circle cx="799.5" cy="334.9" r="8.7"/>
<circle cx="799.5" cy="361.3" r="8.7"/>
<circle cx="812.0" cy="348.7" r="8.7"/>
<circle cx="812.0" cy="366.3" r="8.7"/>
<circle cx="829.5" cy="354.9" r="8.7"/>
<circle cx="829.5" cy="382.6" r="8.7"/>
<circle cx="842.0" cy="371.2" r="8.7"/>
<circle cx="842.0" cy="386.3" r="8.7"/>
<circle cx="855.8" cy="383.7" r="8.7"/>
<circle cx="855.8" cy="396.3" r="8.7"/>
<circle cx="867.0" cy="386.2" r="8.7"/>
<circle cx="867.0" cy="388.8" r="8.7"/>
<circle cx="878.2" cy="391.2" r="8.7"/>
<circle cx="878.2" cy="400.1" r="8.7"/>
<circle cx="880.0" cy="388.7" r="8.7"/>
<circle cx="880.0" cy="398.8" r="8.7"/>
<circle cx="892.5" cy="384.9" r="8.7"/>
<circle cx="892.5" cy="411.3" r="8.7"/>
<circle cx="905.0" cy="388.7" r="8.7"/>
<circle cx="905.0" cy="393.8" r="8.7"/>
<circle cx="917.5" cy="383.7" r="8.7"/>
<circle cx="917.5" cy="400.1" r="8.7"/>
<circle cx="932.5" cy="384.9" r="8.7"/>
<circle cx="932.5" cy="397.6" r="8.7"/>
<circle cx="947.5" cy="388.7" r="8.7"/>
<circle cx="947.5" cy="402.6" r="8.7"/>
<circle cx="956.2" cy="378.7" r="8.7"/>
<circle cx="956.2" cy="396.3" r="8.7"/>
<circle cx="970.0" cy="382.4" r="8.7"/>
<circle cx="970.0" cy="391.3" r="8.7"/>
<circle cx="982.5" cy="383.7" r="8.7"/>
<circle cx="982.5" cy="388.8" r="8.7"/>
<circle cx="990.0" cy="378.7" r="8.7"/>
<circle cx="990.0" cy="400.1" r="8.7"/>
<circle cx="995.0" cy="374.9" r="8.7"/>
<circle cx="995.0" cy="391.3" r="8.7"/>
<circle cx="1005.0" cy="376.2" r="8.7"/>
<circle cx="1005.0" cy="381.3" r="8.7"/>
<circle cx="1016.2" cy="378.7" r="8.7"/>
<circle cx="1016.2" cy="387.6" r="8.7"/>
<circle cx="1026.2" cy="358.7" r="8.7"/>
<circle cx="1026.2" cy="381.3" r="8.7"/>
<circle cx="1037.5" cy="357.4" r="8.7"/>
<circle cx="1037.5" cy="373.8" r="8.7"/>
<circle cx="1047.5" cy="366.2" r="8.7"/>
<circle cx="1047.5" cy="375.1" r="8.7"/>
<circle cx="1060.0" cy="364.9" r="8.7"/>
<circle cx="1060.0" cy="380.1" r="8.7"/>
<circle cx="1075.0" cy="362.4" r="8.7"/>
<circle cx="1075.0" cy="378.8" r="8.7"/>
<circle cx="1087.5" cy="359.9" r="8.7"/>
<circle cx="1087.5" cy="376.3" r="8.7"/>
<circle cx="1105.0" cy="354.9" r="8.7"/>
<circle cx="1105.0" cy="377.6" r="8.7"/>
<circle cx="1117.5" cy="356.2" r="8.7"/>
<circle cx="1117.5" cy="373.8" r="8.7"/>
<circle cx="1135.0" cy="351.2" r="8.7"/>
<circle cx="1135.0" cy="373.8" r="8.7"/>
<circle cx="1142.5" cy="353.7" r="8.7"/>
<circle cx="1142.5" cy="377.6" r="8.7"/>
<circle cx="1152.5" cy="361.2" r="8.7"/>
<circle cx="1152.5" cy="361.3" r="8.7"/>
<circle cx="1165.0" cy="353.7" r="8.7"/>
<circle cx="1165.0" cy="368.8" r="8.7"/>
<circle cx="1178.0" cy="347.4" r="8.7"/>
<circle cx="1178.0" cy="353.8" r="8.7"/>
<circle cx="1190.5" cy="353.7" r="8.7"/>
<circle cx="1190.5" cy="361.3" r="8.7"/>
<circle cx="1205.5" cy="352.4" r="8.7"/>
<circle cx="1205.5" cy="370.1" r="8.7"/>
<circle cx="1210.5" cy="352.4" r="8.7"/>
<circle cx="1210.5" cy="358.8" r="8.7"/>
<circle cx="1225.5" cy="361.2" r="8.7"/>
<circle cx="1225.5" cy="370.1" r="8.7"/>
<circle cx="1236.8" cy="371.2" r="8.7"/>
<circle cx="1236.8" cy="378.8" r="8.7"/>
<circle cx="1245.5" cy="363.7" r="8.7"/>
<circle cx="1245.5" cy="368.8" r="8.7"/>
<circle cx="1260.5" cy="377.4" r="8.7"/>
<circle cx="1260.5" cy="385.1" r="8.7"/>
<circle cx="1268.0" cy="383.7" r="8.7"/>
<circle cx="1268.0" cy="388.8" r="8.7"/>
<circle cx="1277.5" cy="378.7" r="8.7"/>
<circle cx="1277.5" cy="381.3" r="8.7"/>
<circle cx="163.4" cy="352.3" r="8.7"/>
<circle cx="163.0" cy="357.8" r="8.7"/>
<circle cx="164.9" cy="345.8" r="8.7"/>
<circle cx="167.5" cy="365.2" r="8.7"/>
<circle cx="167.2" cy="350.1" r="8.7"/>
<circle cx="169.4" cy="343.2" r="8.7"/>
<circle cx="172.0" cy="342.5" r="8.7"/>
<circle cx="171.4" cy="353.4" r="8.7"/>
<circle cx="173.4" cy="361.7" r="8.7"/>
<circle cx="175.1" cy="351.7" r="8.7"/>
<circle cx="175.6" cy="345.7" r="8.7"/>
<circle cx="177.4" cy="337.1" r="8.7"/>
<circle cx="179.3" cy="345.0" r="8.7"/>
<circle cx="179.8" cy="350.9" r="8.7"/>
<circle cx="182.3" cy="336.3" r="8.7"/>
<circle cx="183.8" cy="335.1" r="8.7"/>
<circle cx="184.0" cy="343.6" r="8.7"/>
<circle cx="185.7" cy="334.3" r="8.7"/>
<circle cx="188.0" cy="349.2" r="8.7"/>
<circle cx="188.2" cy="344.9" r="8.7"/>
<circle cx="190.2" cy="333.3" r="8.7"/>
<circle cx="191.8" cy="346.3" r="8.7"/>
<circle cx="192.4" cy="342.4" r="8.7"/>
<circle cx="194.0" cy="333.9" r="8.7"/>
<circle cx="196.7" cy="356.0" r="8.7"/>
<circle cx="196.6" cy="344.7" r="8.7"/>
<circle cx="198.0" cy="356.0" r="8.7"/>
<circle cx="200.2" cy="337.9" r="8.7"/>
<circle cx="200.8" cy="345.0" r="8.7"/>
<circle cx="202.6" cy="343.8" r="8.7"/>
<circle cx="205.6" cy="355.8" r="8.7"/>
<circle cx="205.0" cy="350.7" r="8.7"/>
<circle cx="207.5" cy="339.4" r="8.7"/>
<circle cx="209.4" cy="351.3" r="8.7"/>
<circle cx="209.2" cy="347.7" r="8.7"/>
<circle cx="211.9" cy="353.6" r="8.7"/>
<circle cx="213.8" cy="343.7" r="8.7"/>
<circle cx="213.4" cy="347.4" r="8.7"/>
<circle cx="215.3" cy="340.6" r="8.7"/>
<circle cx="217.4" cy="350.9" r="8.7"/>
<circle cx="219.5" cy="344.6" r="8.7"/>
<circle cx="221.6" cy="350.1" r="8.7"/>
<circle cx="223.8" cy="349.4" r="8.7"/>
<circle cx="225.5" cy="348.8" r="8.7"/>
<circle cx="226.0" cy="340.4" r="8.7"/>
<circle cx="228.7" cy="348.6" r="8.7"/>
<circle cx="230.3" cy="334.2" r="8.7"/>
<circle cx="230.2" cy="338.7" r="8.7"/>
<circle cx="232.7" cy="333.0" r="8.7"/>
<circle cx="233.8" cy="331.5" r="8.7"/>
<circle cx="234.4" cy="339.2" r="8.7"/>
<circle cx="236.2" cy="334.9" r="8.7"/>
<circle cx="238.2" cy="347.8" r="8.7"/>
<circle cx="238.6" cy="338.8" r="8.7"/>
<circle cx="241.2" cy="333.6" r="8.7"/>
<circle cx="243.1" cy="338.3" r="8.7"/>
<circle cx="242.8" cy="347.5" r="8.7"/>
<circle cx="245.3" cy="337.8" r="8.7"/>
<circle cx="246.5" cy="343.7" r="8.7"/>
<circle cx="247.0" cy="344.8" r="8.7"/>
<circle cx="248.7" cy="337.8" r="8.7"/>
<circle cx="251.4" cy="338.3" r="8.7"/>
<circle cx="251.2" cy="346.9" r="8.7"/>
<circle cx="252.7" cy="344.4" r="8.7"/>
<circle cx="255.4" cy="358.9" r="8.7"/>
<circle cx="255.4" cy="349.0" r="8.7"/>
<circle cx="256.8" cy="362.1" r="8.7"/>
<circle cx="260.3" cy="351.1" r="8.7"/>
<circle cx="259.6" cy="343.6" r="8.7"/>
<circle cx="261.5" cy="358.2" r="8.7"/>
<circle cx="261.7" cy="338.3" r="8.7"/>
<circle cx="263.2" cy="370.8" r="8.7"/>
<circle cx="263.8" cy="354.6" r="8.7"/>
<circle cx="266.0" cy="326.5" r="8.7"/>
<circle cx="265.9" cy="364.1" r="8.7"/>
<circle cx="268.3" cy="328.4" r="8.7"/>
<circle cx="268.0" cy="347.5" r="8.7"/>
<circle cx="270.5" cy="365.3" r="8.7"/>
<circle cx="270.1" cy="341.4" r="8.7"/>
<circle cx="272.9" cy="336.3" r="8.7"/>
<circle cx="272.2" cy="354.9" r="8.7"/>
<circle cx="273.6" cy="340.4" r="8.7"/>
<circle cx="274.3" cy="367.2" r="8.7"/>
<circle cx="276.8" cy="340.5" r="8.7"/>
<circle cx="276.4" cy="356.3" r="8.7"/>
<circle cx="278.9" cy="347.5" r="8.7"/>
<circle cx="278.5" cy="347.4" r="8.7"/>
<circle cx="280.6" cy="378.1" r="8.7"/>
<circle cx="280.6" cy="358.6" r="8.7"/>
<circle cx="282.5" cy="336.2" r="8.7"/>
<circle cx="282.7" cy="369.8" r="8.7"/>
<circle cx="284.3" cy="380.6" r="8.7"/>
<circle cx="284.8" cy="350.0" r="8.7"/>
<circle cx="287.6" cy="344.8" r="8.7"/>
<circle cx="286.9" cy="344.0" r="8.7"/>
<circle cx="288.8" cy="338.4" r="8.7"/>
<circle cx="289.0" cy="363.2" r="8.7"/>
<circle cx="291.4" cy="380.2" r="8.7"/>
<circle cx="291.1" cy="371.1" r="8.7"/>
<circle cx="293.1" cy="341.4" r="8.7"/>
<circle cx="293.2" cy="365.3" r="8.7"/>
<circle cx="295.9" cy="346.5" r="8.7"/>
<circle cx="295.3" cy="352.0" r="8.7"/>
<circle cx="297.1" cy="355.1" r="8.7"/>
<circle cx="297.4" cy="361.3" r="8.7"/>
<circle cx="299.1" cy="379.8" r="8.7"/>
<circle cx="301.3" cy="372.5" r="8.7"/>
<circle cx="301.6" cy="373.3" r="8.7"/>
<circle cx="304.2" cy="359.9" r="8.7"/>
<circle cx="306.3" cy="361.7" r="8.7"/>
<circle cx="305.8" cy="370.4" r="8.7"/>
<circle cx="308.2" cy="384.1" r="8.7"/>
<circle cx="310.1" cy="384.7" r="8.7"/>
<circle cx="310.0" cy="374.3" r="8.7"/>
<circle cx="312.6" cy="354.8" r="8.7"/>
<circle cx="312.1" cy="360.7" r="8.7"/>
<circle cx="314.9" cy="352.9" r="8.7"/>
<circle cx="314.2" cy="366.2" r="8.7"/>
<circle cx="316.9" cy="386.4" r="8.7"/>
<circle cx="316.3" cy="378.2" r="8.7"/>
<circle cx="317.8" cy="346.7" r="8.7"/>
<circle cx="318.4" cy="362.2" r="8.7"/>
<circle cx="320.3" cy="348.7" r="8.7"/>
<circle cx="320.5" cy="354.5" r="8.7"/>
<circle cx="323.1" cy="375.1" r="8.7"/>
<circle cx="322.6" cy="373.0" r="8.7"/>
<circle cx="324.1" cy="386.2" r="8.7"/>
<circle cx="324.7" cy="377.3" r="8.7"/>
<circle cx="326.7" cy="384.2" r="8.7"/>
<circle cx="326.8" cy="359.6" r="8.7"/>
<circle cx="328.4" cy="345.4" r="8.7"/>
<circle cx="328.9" cy="353.6" r="8.7"/>
<circle cx="330.9" cy="383.0" r="8.7"/>
<circle cx="331.0" cy="360.2" r="8.7"/>
<circle cx="333.4" cy="350.0" r="8.7"/>
<circle cx="333.1" cy="376.0" r="8.7"/>
<circle cx="335.8" cy="383.9" r="8.7"/>
<circle cx="335.2" cy="361.9" r="8.7"/>
<circle cx="337.8" cy="339.7" r="8.7"/>
<circle cx="337.3" cy="348.4" r="8.7"/>
<circle cx="338.9" cy="346.6" r="8.7"/>
<circle cx="339.4" cy="353.7" r="8.7"/>
<circle cx="341.6" cy="379.1" r="8.7"/>
<circle cx="341.5" cy="369.4" r="8.7"/>
<circle cx="343.9" cy="378.3" r="8.7"/>
<circle cx="343.6" cy="359.6" r="8.7"/>
<circle cx="346.2" cy="344.3" r="8.7"/>
<circle cx="345.7" cy="350.5" r="8.7"/>
<circle cx="347.5" cy="357.7" r="8.7"/>
<circle cx="347.8" cy="359.8" r="8.7"/>
<circle cx="349.7" cy="358.3" r="8.7"/>
<circle cx="352.7" cy="372.7" r="8.7"/>
<circle cx="352.0" cy="357.8" r="8.7"/>
<circle cx="353.8" cy="373.3" r="8.7"/>
<circle cx="355.8" cy="361.1" r="8.7"/>
<circle cx="356.2" cy="361.5" r="8.7"/>
<circle cx="357.7" cy="353.9" r="8.7"/>
<circle cx="360.6" cy="359.8" r="8.7"/>
<circle cx="360.4" cy="363.8" r="8.7"/>
<circle cx="361.8" cy="354.3" r="8.7"/>
<circle cx="364.6" cy="369.1" r="8.7"/>
<circle cx="364.6" cy="362.8" r="8.7"/>
<circle cx="366.9" cy="356.4" r="8.7"/>
<circle cx="369.1" cy="358.6" r="8.7"/>
<circle cx="368.8" cy="360.2" r="8.7"/>
<circle cx="371.1" cy="351.4" r="8.7"/>
<circle cx="373.2" cy="367.8" r="8.7"/>
<circle cx="373.0" cy="358.1" r="8.7"/>
<circle cx="375.4" cy="358.4" r="8.7"/>
<circle cx="377.8" cy="366.4" r="8.7"/>
<circle cx="377.2" cy="358.4" r="8.7"/>
<circle cx="379.7" cy="351.3" r="8.7"/>
<circle cx="381.6" cy="368.6" r="8.7"/>
<circle cx="381.4" cy="362.4" r="8.7"/>
<circle cx="382.9" cy="368.1" r="8.7"/>
<circle cx="386.0" cy="355.1" r="8.7"/>
<circle cx="385.6" cy="360.8" r="8.7"/>
<circle cx="388.1" cy="372.6" r="8.7"/>
<circle cx="389.2" cy="373.1" r="8.7"/>
<circle cx="389.8" cy="364.2" r="8.7"/>
<circle cx="391.8" cy="367.6" r="8.7"/>
<circle cx="394.3" cy="356.2" r="8.7"/>
<circle cx="394.0" cy="363.3" r="8.7"/>
<circle cx="395.9" cy="370.8" r="8.7"/>
<circle cx="398.3" cy="370.0" r="8.7"/>
<circle cx="398.2" cy="361.1" r="8.7"/>
<circle cx="400.0" cy="356.2" r="8.7"/>
<circle cx="402.6" cy="368.7" r="8.7"/>
<circle cx="404.4" cy="357.3" r="8.7"/>
<circle cx="406.4" cy="361.5" r="8.7"/>
<circle cx="406.6" cy="357.8" r="8.7"/>
<circle cx="409.0" cy="365.5" r="8.7"/>
<circle cx="410.6" cy="364.1" r="8.7"/>
<circle cx="410.8" cy="356.7" r="8.7"/>
<circle cx="412.5" cy="349.2" r="8.7"/>
<circle cx="414.8" cy="358.0" r="8.7"/>
<circle cx="415.0" cy="355.6" r="8.7"/>
<circle cx="417.1" cy="361.5" r="8.7"/>
<circle cx="419.6" cy="344.5" r="8.7"/>
<circle cx="419.2" cy="349.4" r="8.7"/>
<circle cx="421.2" cy="358.0" r="8.7"/>
<circle cx="423.3" cy="341.7" r="8.7"/>
<circle cx="423.4" cy="349.5" r="8.7"/>
<circle cx="425.4" cy="340.6" r="8.7"/>
<circle cx="427.7" cy="339.7" r="8.7"/>
<circle cx="427.6" cy="348.6" r="8.7"/>
<circle cx="429.3" cy="339.6" r="8.7"/>
<circle cx="432.2" cy="335.3" r="8.7"/>
<circle cx="431.8" cy="344.1" r="8.7"/>
<circle cx="434.2" cy="332.5" r="8.7"/>
<circle cx="436.1" cy="348.7" r="8.7"/>
<circle cx="436.0" cy="342.7" r="8.7"/>
<circle cx="437.6" cy="344.7" r="8.7"/>
<circle cx="439.5" cy="324.9" r="8.7"/>
<circle cx="440.2" cy="338.6" r="8.7"/>
<circle cx="442.8" cy="343.7" r="8.7"/>
<circle cx="444.3" cy="318.5" r="8.7"/>
<circle cx="444.4" cy="326.0" r="8.7"/>
<circle cx="446.2" cy="314.7" r="8.7"/>
<circle cx="448.7" cy="334.5" r="8.7"/>
<circle cx="448.6" cy="322.2" r="8.7"/>
<circle cx="451.1" cy="332.8" r="8.7"/>
<circle cx="452.9" cy="303.4" r="8.7"/>
<circle cx="452.8" cy="312.6" r="8.7"/>
<circle cx="454.7" cy="298.9" r="8.7"/>
<circle cx="454.9" cy="304.9" r="8.7"/>
<circle cx="456.7" cy="293.3" r="8.7"/>
<circle cx="457.0" cy="313.1" r="8.7"/>
<circle cx="459.0" cy="310.9" r="8.7"/>
<circle cx="459.1" cy="318.2" r="8.7"/>
<circle cx="461.7" cy="301.5" r="8.7"/>
<circle cx="461.2" cy="297.1" r="8.7"/>
<circle cx="462.7" cy="279.9" r="8.7"/>
<circle cx="463.3" cy="287.3" r="8.7"/>
<circle cx="466.0" cy="317.8" r="8.7"/>
<circle cx="465.4" cy="296.4" r="8.7"/>
<circle cx="467.7" cy="290.5" r="8.7"/>
<circle cx="467.5" cy="303.6" r="8.7"/>
<circle cx="469.2" cy="276.2" r="8.7"/>
<circle cx="469.6" cy="291.5" r="8.7"/>
<circle cx="471.1" cy="258.0" r="8.7"/>
<circle cx="471.7" cy="268.4" r="8.7"/>
<circle cx="473.7" cy="298.0" r="8.7"/>
<circle cx="473.8" cy="279.5" r="8.7"/>
<circle cx="476.2" cy="250.1" r="8.7"/>
<circle cx="475.9" cy="285.1" r="8.7"/>
<circle cx="478.5" cy="290.6" r="8.7"/>
<circle cx="478.0" cy="264.7" r="8.7"/>
<circle cx="479.8" cy="241.4" r="8.7"/>
<circle cx="480.1" cy="251.1" r="8.7"/>
<circle cx="482.7" cy="275.7" r="8.7"/>
<circle cx="482.2" cy="251.9" r="8.7"/>
<circle cx="484.1" cy="267.0" r="8.7"/>
<circle cx="484.3" cy="259.8" r="8.7"/>
<circle cx="486.6" cy="258.1" r="8.7"/>
<circle cx="486.4" cy="240.6" r="8.7"/>
<circle cx="488.4" cy="250.3" r="8.7"/>
<circle cx="491.1" cy="225.4" r="8.7"/>
<circle cx="490.6" cy="231.8" r="8.7"/>
<circle cx="493.3" cy="243.3" r="8.7"/>
<circle cx="494.6" cy="238.9" r="8.7"/>
<circle cx="494.8" cy="230.3" r="8.7"/>
<circle cx="497.4" cy="217.9" r="8.7"/>
<circle cx="498.4" cy="217.4" r="8.7"/>
<circle cx="499.0" cy="224.2" r="8.7"/>
<circle cx="501.7" cy="216.9" r="8.7"/>
<circle cx="503.9" cy="216.8" r="8.7"/>
<circle cx="503.2" cy="224.1" r="8.7"/>
<circle cx="504.7" cy="227.3" r="8.7"/>
<circle cx="507.0" cy="236.8" r="8.7"/>
<circle cx="507.4" cy="228.4" r="8.7"/>
<circle cx="509.6" cy="239.1" r="8.7"/>
<circle cx="511.5" cy="215.3" r="8.7"/>
<circle cx="511.6" cy="224.9" r="8.7"/>
<circle cx="513.9" cy="244.0" r="8.7"/>
<circle cx="516.0" cy="219.8" r="8.7"/>
<circle cx="515.8" cy="229.3" r="8.7"/>
<circle cx="517.7" cy="222.2" r="8.7"/>
<circle cx="520.0" cy="243.3" r="8.7"/>
<circle cx="520.0" cy="232.3" r="8.7"/>
<circle cx="522.2" cy="226.9" r="8.7"/>
<circle cx="523.7" cy="247.6" r="8.7"/>
<circle cx="524.2" cy="238.3" r="8.7"/>
<circle cx="525.9" cy="249.7" r="8.7"/>
<circle cx="528.9" cy="251.0" r="8.7"/>
<circle cx="528.4" cy="241.6" r="8.7"/>
<circle cx="531.1" cy="235.6" r="8.7"/>
<circle cx="532.2" cy="242.2" r="8.7"/>
<circle cx="532.6" cy="253.0" r="8.7"/>
<circle cx="534.0" cy="266.8" r="8.7"/>
<circle cx="536.2" cy="253.5" r="8.7"/>
<circle cx="536.8" cy="263.7" r="8.7"/>
<circle cx="539.3" cy="259.5" r="8.7"/>
<circle cx="540.6" cy="264.2" r="8.7"/>
<circle cx="541.0" cy="273.1" r="8.7"/>
<circle cx="543.3" cy="268.7" r="8.7"/>
<circle cx="545.0" cy="286.4" r="8.7"/>
<circle cx="545.2" cy="283.0" r="8.7"/>
<circle cx="547.2" cy="279.0" r="8.7"/>
<circle cx="549.0" cy="293.6" r="8.7"/>
<circle cx="551.0" cy="293.2" r="8.7"/>
<circle cx="553.4" cy="297.9" r="8.7"/>
<circle cx="556.1" cy="300.8" r="8.7"/>
<circle cx="558.2" cy="304.2" r="8.7"/>
<circle cx="560.1" cy="305.9" r="8.7"/>
<circle cx="561.4" cy="302.8" r="8.7"/>
<circle cx="563.6" cy="307.3" r="8.7"/>
<circle cx="566.5" cy="313.3" r="8.7"/>
<circle cx="566.2" cy="309.4" r="8.7"/>
<circle cx="568.9" cy="319.8" r="8.7"/>
<circle cx="570.8" cy="321.0" r="8.7"/>
<circle cx="570.4" cy="315.8" r="8.7"/>
<circle cx="572.9" cy="308.7" r="8.7"/>
<circle cx="575.2" cy="315.0" r="8.7"/>
<circle cx="574.6" cy="319.5" r="8.7"/>
<circle cx="577.4" cy="310.0" r="8.7"/>
<circle cx="579.3" cy="311.7" r="8.7"/>
<circle cx="578.8" cy="314.8" r="8.7"/>
<circle cx="581.5" cy="326.4" r="8.7"/>
<circle cx="582.8" cy="320.9" r="8.7"/>
<circle cx="583.0" cy="318.7" r="8.7"/>
<circle cx="585.7" cy="320.7" r="8.7"/>
<circle cx="586.6" cy="315.6" r="8.7"/>
<circle cx="587.2" cy="318.4" r="8.7"/>
<circle cx="589.4" cy="314.7" r="8.7"/>
<circle cx="590.7" cy="323.6" r="8.7"/>
<circle cx="591.4" cy="318.0" r="8.7"/>
<circle cx="593.9" cy="326.4" r="8.7"/>
<circle cx="595.2" cy="309.9" r="8.7"/>
<circle cx="595.6" cy="317.1" r="8.7"/>
<circle cx="597.4" cy="319.7" r="8.7"/>
<circle cx="600.1" cy="325.1" r="8.7"/>
<circle cx="599.8" cy="317.4" r="8.7"/>
<circle cx="601.4" cy="321.9" r="8.7"/>
<circle cx="604.5" cy="311.6" r="8.7"/>
<circle cx="605.7" cy="322.2" r="8.7"/>
<circle cx="608.8" cy="315.6" r="8.7"/>
<circle cx="608.2" cy="313.5" r="8.7"/>
<circle cx="610.3" cy="304.8" r="8.7"/>
<circle cx="612.9" cy="305.3" r="8.7"/>
<circle cx="612.4" cy="308.3" r="8.7"/>
<circle cx="614.4" cy="315.7" r="8.7"/>
<circle cx="616.4" cy="305.4" r="8.7"/>
<circle cx="616.6" cy="306.9" r="8.7"/>
<circle cx="618.7" cy="305.0" r="8.7"/>
<circle cx="620.2" cy="306.6" r="8.7"/>
<circle cx="623.5" cy="309.8" r="8.7"/>
<circle cx="625.2" cy="306.2" r="8.7"/>
<circle cx="627.1" cy="305.1" r="8.7"/>
<circle cx="628.6" cy="304.3" r="8.7"/>
<circle cx="631.4" cy="308.2" r="8.7"/>
<circle cx="633.7" cy="305.2" r="8.7"/>
<circle cx="635.0" cy="309.9" r="8.7"/>
<circle cx="637.1" cy="309.6" r="8.7"/>
<circle cx="640.0" cy="304.8" r="8.7"/>
<circle cx="642.2" cy="305.2" r="8.7"/>
<circle cx="643.8" cy="302.1" r="8.7"/>
<circle cx="646.4" cy="306.8" r="8.7"/>
<circle cx="648.7" cy="303.5" r="8.7"/>
<circle cx="649.9" cy="305.8" r="8.7"/>
<circle cx="652.1" cy="295.3" r="8.7"/>
<circle cx="654.9" cy="292.9" r="8.7"/>
<circle cx="654.4" cy="297.4" r="8.7"/>
<circle cx="656.2" cy="291.9" r="8.7"/>
<circle cx="659.2" cy="302.6" r="8.7"/>
<circle cx="658.6" cy="295.0" r="8.7"/>
<circle cx="660.3" cy="291.3" r="8.7"/>
<circle cx="662.7" cy="302.6" r="8.7"/>
<circle cx="664.6" cy="292.8" r="8.7"/>
<circle cx="667.2" cy="294.2" r="8.7"/>
<circle cx="668.6" cy="296.7" r="8.7"/>
<circle cx="671.3" cy="297.9" r="8.7"/>
<circle cx="673.0" cy="298.4" r="8.7"/>
<circle cx="675.4" cy="292.6" r="8.7"/>
<circle cx="676.9" cy="290.2" r="8.7"/>
<circle cx="679.4" cy="293.0" r="8.7"/>
<circle cx="681.3" cy="288.4" r="8.7"/>
<circle cx="684.2" cy="283.9" r="8.7"/>
<circle cx="686.3" cy="287.4" r="8.7"/>
<circle cx="688.2" cy="295.2" r="8.7"/>
<circle cx="688.0" cy="289.4" r="8.7"/>
<circle cx="690.7" cy="286.4" r="8.7"/>
<circle cx="692.0" cy="285.0" r="8.7"/>
<circle cx="692.2" cy="290.0" r="8.7"/>
<circle cx="694.8" cy="296.5" r="8.7"/>
<circle cx="695.9" cy="277.3" r="8.7"/>
<circle cx="696.4" cy="286.3" r="8.7"/>
<circle cx="698.5" cy="298.6" r="8.7"/>
<circle cx="700.7" cy="295.1" r="8.7"/>
<circle cx="700.6" cy="291.2" r="8.7"/>
<circle cx="703.2" cy="302.7" r="8.7"/>
<circle cx="705.2" cy="286.4" r="8.7"/>
<circle cx="704.8" cy="294.3" r="8.7"/>
<circle cx="707.2" cy="300.4" r="8.7"/>
<circle cx="709.5" cy="295.0" r="8.7"/>
<circle cx="709.0" cy="290.1" r="8.7"/>
<circle cx="711.3" cy="295.0" r="8.7"/>
<circle cx="712.9" cy="298.4" r="8.7"/>
<circle cx="713.2" cy="288.7" r="8.7"/>
<circle cx="715.5" cy="297.6" r="8.7"/>
<circle cx="717.2" cy="294.0" r="8.7"/>
<circle cx="717.4" cy="289.9" r="8.7"/>
<circle cx="719.7" cy="279.6" r="8.7"/>
<circle cx="721.0" cy="296.7" r="8.7"/>
<circle cx="721.6" cy="287.6" r="8.7"/>
<circle cx="723.2" cy="280.0" r="8.7"/>
<circle cx="725.6" cy="278.8" r="8.7"/>
<circle cx="725.8" cy="286.2" r="8.7"/>
<circle cx="728.4" cy="295.6" r="8.7"/>
<circle cx="729.3" cy="287.2" r="8.7"/>
<circle cx="730.0" cy="288.3" r="8.7"/>
<circle cx="732.0" cy="277.9" r="8.7"/>
<circle cx="734.1" cy="278.4" r="8.7"/>
<circle cx="734.2" cy="289.1" r="8.7"/>
<circle cx="736.8" cy="303.0" r="8.7"/>
<circle cx="739.0" cy="303.0" r="8.7"/>
<circle cx="738.4" cy="292.5" r="8.7"/>
<circle cx="740.5" cy="283.0" r="8.7"/>
<circle cx="740.5" cy="287.9" r="8.7"/>
<circle cx="742.5" cy="315.5" r="8.7"/>
<circle cx="742.6" cy="296.8" r="8.7"/>
<circle cx="744.4" cy="314.6" r="8.7"/>
<circle cx="744.7" cy="308.5" r="8.7"/>
<circle cx="746.4" cy="283.1" r="8.7"/>
<circle cx="746.8" cy="301.5" r="8.7"/>
<circle cx="749.0" cy="316.2" r="8.7"/>
<circle cx="748.9" cy="289.8" r="8.7"/>
<circle cx="751.3" cy="315.4" r="8.7"/>
<circle cx="751.0" cy="304.6" r="8.7"/>
<circle cx="753.4" cy="306.9" r="8.7"/>
<circle cx="753.1" cy="308.7" r="8.7"/>
<circle cx="755.5" cy="313.6" r="8.7"/>
<circle cx="755.2" cy="301.4" r="8.7"/>
<circle cx="756.8" cy="315.2" r="8.7"/>
<circle cx="757.3" cy="291.9" r="8.7"/>
<circle cx="759.1" cy="314.8" r="8.7"/>
<circle cx="759.4" cy="296.0" r="8.7"/>
<circle cx="761.4" cy="313.5" r="8.7"/>
<circle cx="763.1" cy="316.5" r="8.7"/>
<circle cx="766.4" cy="315.7" r="8.7"/>
<circle cx="767.8" cy="322.3" r="8.7"/>
<circle cx="769.4" cy="317.1" r="8.7"/>
<circle cx="771.3" cy="317.6" r="8.7"/>
<circle cx="772.0" cy="327.2" r="8.7"/>
<circle cx="774.8" cy="333.1" r="8.7"/>
<circle cx="776.0" cy="321.0" r="8.7"/>
<circle cx="776.2" cy="329.5" r="8.7"/>
<circle cx="777.6" cy="324.1" r="8.7"/>
<circle cx="780.9" cy="323.8" r="8.7"/>
<circle cx="780.4" cy="332.2" r="8.7"/>
<circle cx="783.0" cy="338.8" r="8.7"/>
<circle cx="785.1" cy="338.8" r="8.7"/>
<circle cx="784.6" cy="332.5" r="8.7"/>
<circle cx="786.3" cy="329.3" r="8.7"/>
<circle cx="788.2" cy="332.1" r="8.7"/>
<circle cx="790.5" cy="339.4" r="8.7"/>
<circle cx="792.9" cy="330.0" r="8.7"/>
<circle cx="793.0" cy="334.2" r="8.7"/>
<circle cx="795.1" cy="332.2" r="8.7"/>
<circle cx="797.5" cy="333.9" r="8.7"/>
<circle cx="797.2" cy="341.9" r="8.7"/>
<circle cx="799.3" cy="352.7" r="8.7"/>
<circle cx="801.0" cy="337.3" r="8.7"/>
<circle cx="801.4" cy="353.8" r="8.7"/>
<circle cx="803.9" cy="362.7" r="8.7"/>
<circle cx="805.9" cy="355.7" r="8.7"/>
<circle cx="805.6" cy="349.1" r="8.7"/>
<circle cx="807.1" cy="344.0" r="8.7"/>
<circle cx="809.4" cy="346.5" r="8.7"/>
<circle cx="809.8" cy="357.0" r="8.7"/>
<circle cx="812.5" cy="359.9" r="8.7"/>
<circle cx="813.4" cy="367.1" r="8.7"/>
<circle cx="814.0" cy="361.9" r="8.7"/>
<circle cx="816.5" cy="353.9" r="8.7"/>
<circle cx="817.6" cy="351.1" r="8.7"/>
<circle cx="818.2" cy="363.6" r="8.7"/>
<circle cx="819.6" cy="372.1" r="8.7"/>
<circle cx="822.8" cy="365.5" r="8.7"/>
<circle cx="822.4" cy="364.2" r="8.7"/>
<circle cx="824.9" cy="367.9" r="8.7"/>
<circle cx="826.5" cy="379.1" r="8.7"/>
<circle cx="826.6" cy="362.4" r="8.7"/>
<circle cx="829.2" cy="355.3" r="8.7"/>
<circle cx="830.3" cy="368.7" r="8.7"/>
<circle cx="830.8" cy="371.2" r="8.7"/>
<circle cx="832.4" cy="383.4" r="8.7"/>
<circle cx="834.8" cy="374.2" r="8.7"/>
<circle cx="835.0" cy="370.0" r="8.7"/>
<circle cx="837.6" cy="381.8" r="8.7"/>
<circle cx="838.7" cy="385.1" r="8.7"/>
<circle cx="839.2" cy="377.2" r="8.7"/>
<circle cx="840.6" cy="382.4" r="8.7"/>
<circle cx="843.7" cy="386.5" r="8.7"/>
<circle cx="843.4" cy="380.4" r="8.7"/>
<circle cx="845.7" cy="388.3" r="8.7"/>
<circle cx="848.0" cy="386.6" r="8.7"/>
<circle cx="847.6" cy="385.4" r="8.7"/>
<circle cx="849.0" cy="388.0" r="8.7"/>
<circle cx="851.7" cy="391.4" r="8.7"/>
<circle cx="851.8" cy="388.5" r="8.7"/>
<circle cx="853.8" cy="382.4" r="8.7"/>
<circle cx="855.7" cy="386.9" r="8.7"/>
<circle cx="858.8" cy="394.4" r="8.7"/>
<circle cx="860.6" cy="392.7" r="8.7"/>
<circle cx="862.7" cy="391.9" r="8.7"/>
<circle cx="864.3" cy="390.4" r="8.7"/>
<circle cx="866.3" cy="389.0" r="8.7"/>
<circle cx="869.1" cy="389.6" r="8.7"/>
<circle cx="870.1" cy="390.3" r="8.7"/>
<circle cx="873.0" cy="390.6" r="8.7"/>
<circle cx="875.6" cy="390.1" r="8.7"/>
<circle cx="877.6" cy="390.9" r="8.7"/>
<circle cx="879.4" cy="390.3" r="8.7"/>
<circle cx="880.8" cy="389.4" r="8.7"/>
<circle cx="883.6" cy="388.1" r="8.7"/>
<circle cx="885.3" cy="390.1" r="8.7"/>
<circle cx="885.4" cy="396.8" r="8.7"/>
<circle cx="887.9" cy="401.3" r="8.7"/>
<circle cx="888.9" cy="408.3" r="8.7"/>
<circle cx="889.6" cy="398.6" r="8.7"/>
<circle cx="891.8" cy="409.3" r="8.7"/>
<circle cx="894.1" cy="399.8" r="8.7"/>
<circle cx="893.8" cy="395.8" r="8.7"/>
<circle cx="895.2" cy="406.3" r="8.7"/>
<circle cx="898.7" cy="403.1" r="8.7"/>
<circle cx="898.0" cy="396.2" r="8.7"/>
<circle cx="899.6" cy="387.6" r="8.7"/>
<circle cx="902.1" cy="397.3" r="8.7"/>
<circle cx="904.9" cy="389.1" r="8.7"/>
<circle cx="905.7" cy="388.3" r="8.7"/>
<circle cx="909.0" cy="389.2" r="8.7"/>
<circle cx="910.3" cy="393.3" r="8.7"/>
<circle cx="912.9" cy="397.4" r="8.7"/>
<circle cx="914.4" cy="384.9" r="8.7"/>
<circle cx="914.8" cy="390.0" r="8.7"/>
<circle cx="917.0" cy="384.5" r="8.7"/>
<circle cx="918.3" cy="399.3" r="8.7"/>
<circle cx="919.0" cy="393.8" r="8.7"/>
<circle cx="920.6" cy="384.6" r="8.7"/>
<circle cx="923.0" cy="387.9" r="8.7"/>
<circle cx="923.2" cy="391.8" r="8.7"/>
<circle cx="925.7" cy="398.1" r="8.7"/>
<circle cx="927.0" cy="398.4" r="8.7"/>
<circle cx="927.4" cy="390.1" r="8.7"/>
<circle cx="929.7" cy="397.7" r="8.7"/>
<circle cx="932.1" cy="385.5" r="8.7"/>
<circle cx="933.6" cy="397.7" r="8.7"/>
<circle cx="935.3" cy="398.6" r="8.7"/>
<circle cx="937.5" cy="399.2" r="8.7"/>
<circle cx="940.0" cy="399.7" r="8.7"/>
<circle cx="940.0" cy="395.5" r="8.7"/>
<circle cx="941.7" cy="400.6" r="8.7"/>
<circle cx="944.7" cy="395.5" r="8.7"/>
<circle cx="944.2" cy="396.9" r="8.7"/>
<circle cx="946.9" cy="389.9" r="8.7"/>
<circle cx="948.0" cy="401.4" r="8.7"/>
<circle cx="948.4" cy="392.7" r="8.7"/>
<circle cx="950.4" cy="386.2" r="8.7"/>
<circle cx="952.5" cy="384.1" r="8.7"/>
<circle cx="952.6" cy="389.9" r="8.7"/>
<circle cx="955.4" cy="380.7" r="8.7"/>
<circle cx="956.1" cy="395.9" r="8.7"/>
<circle cx="956.8" cy="388.4" r="8.7"/>
<circle cx="959.0" cy="394.4" r="8.7"/>
<circle cx="961.1" cy="394.4" r="8.7"/>
<circle cx="961.0" cy="388.1" r="8.7"/>
<circle cx="963.6" cy="381.3" r="8.7"/>
<circle cx="964.8" cy="381.4" r="8.7"/>
<circle cx="966.9" cy="381.8" r="8.7"/>
<circle cx="968.9" cy="391.4" r="8.7"/>
<circle cx="971.4" cy="383.2" r="8.7"/>
<circle cx="974.2" cy="382.9" r="8.7"/>
<circle cx="975.7" cy="389.9" r="8.7"/>
<circle cx="978.5" cy="386.4" r="8.7"/>
<circle cx="980.4" cy="384.7" r="8.7"/>
<circle cx="982.6" cy="383.8" r="8.7"/>
<circle cx="983.9" cy="391.1" r="8.7"/>
<circle cx="986.0" cy="381.5" r="8.7"/>
<circle cx="986.2" cy="386.2" r="8.7"/>
<circle cx="988.5" cy="379.8" r="8.7"/>
<circle cx="989.9" cy="398.3" r="8.7"/>
<circle cx="990.4" cy="387.0" r="8.7"/>
<circle cx="992.0" cy="377.2" r="8.7"/>
<circle cx="994.0" cy="376.3" r="8.7"/>
<circle cx="994.6" cy="382.1" r="8.7"/>
<circle cx="996.6" cy="375.7" r="8.7"/>
<circle cx="999.4" cy="375.9" r="8.7"/>
<circle cx="1000.8" cy="376.3" r="8.7"/>
<circle cx="1002.7" cy="376.0" r="8.7"/>
<circle cx="1005.6" cy="376.2" r="8.7"/>
<circle cx="1007.4" cy="376.9" r="8.7"/>
<circle cx="1008.9" cy="383.4" r="8.7"/>
<circle cx="1011.8" cy="381.9" r="8.7"/>
<circle cx="1013.1" cy="385.7" r="8.7"/>
<circle cx="1015.9" cy="378.7" r="8.7"/>
<circle cx="1017.5" cy="386.5" r="8.7"/>
<circle cx="1020.0" cy="372.3" r="8.7"/>
<circle cx="1019.8" cy="378.3" r="8.7"/>
<circle cx="1021.2" cy="380.7" r="8.7"/>
<circle cx="1024.3" cy="363.7" r="8.7"/>
<circle cx="1024.0" cy="374.0" r="8.7"/>
<circle cx="1026.0" cy="359.1" r="8.7"/>
<circle cx="1028.1" cy="362.9" r="8.7"/>
<circle cx="1028.2" cy="372.7" r="8.7"/>
<circle cx="1030.6" cy="363.0" r="8.7"/>
<circle cx="1032.8" cy="358.5" r="8.7"/>
<circle cx="1032.4" cy="365.1" r="8.7"/>
<circle cx="1034.0" cy="375.8" r="8.7"/>
<circle cx="1036.0" cy="374.2" r="8.7"/>
<circle cx="1036.6" cy="366.5" r="8.7"/>
<circle cx="1038.5" cy="367.4" r="8.7"/>
<circle cx="1040.3" cy="366.4" r="8.7"/>
<circle cx="1040.8" cy="367.2" r="8.7"/>
<circle cx="1043.5" cy="362.4" r="8.7"/>
<circle cx="1045.2" cy="373.0" r="8.7"/>
<circle cx="1047.8" cy="372.3" r="8.7"/>
<circle cx="1048.9" cy="366.3" r="8.7"/>
<circle cx="1051.8" cy="366.4" r="8.7"/>
<circle cx="1052.7" cy="376.9" r="8.7"/>
<circle cx="1054.8" cy="365.4" r="8.7"/>
<circle cx="1056.9" cy="365.4" r="8.7"/>
<circle cx="1057.6" cy="370.8" r="8.7"/>
<circle cx="1059.2" cy="365.1" r="8.7"/>
<circle cx="1061.3" cy="379.4" r="8.7"/>
<circle cx="1061.8" cy="371.4" r="8.7"/>
<circle cx="1063.8" cy="379.7" r="8.7"/>
<circle cx="1065.5" cy="379.3" r="8.7"/>
<circle cx="1066.0" cy="369.5" r="8.7"/>
<circle cx="1067.8" cy="374.6" r="8.7"/>
<circle cx="1070.0" cy="374.9" r="8.7"/>
<circle cx="1070.2" cy="371.2" r="8.7"/>
<circle cx="1072.4" cy="363.0" r="8.7"/>
<circle cx="1074.7" cy="378.7" r="8.7"/>
<circle cx="1074.4" cy="369.2" r="8.7"/>
<circle cx="1075.9" cy="375.3" r="8.7"/>
<circle cx="1078.9" cy="377.6" r="8.7"/>
<circle cx="1078.6" cy="371.6" r="8.7"/>
<circle cx="1080.1" cy="365.1" r="8.7"/>
<circle cx="1082.3" cy="370.1" r="8.7"/>
<circle cx="1082.8" cy="367.3" r="8.7"/>
<circle cx="1084.6" cy="376.5" r="8.7"/>
<circle cx="1087.3" cy="360.4" r="8.7"/>
<circle cx="1087.0" cy="365.5" r="8.7"/>
<circle cx="1088.8" cy="363.2" r="8.7"/>
<circle cx="1091.4" cy="371.1" r="8.7"/>
<circle cx="1091.2" cy="370.2" r="8.7"/>
<circle cx="1092.8" cy="376.5" r="8.7"/>
<circle cx="1095.9" cy="358.1" r="8.7"/>
<circle cx="1095.4" cy="368.7" r="8.7"/>
<circle cx="1097.2" cy="372.9" r="8.7"/>
<circle cx="1099.0" cy="357.4" r="8.7"/>
<circle cx="1099.6" cy="363.6" r="8.7"/>
<circle cx="1102.3" cy="377.0" r="8.7"/>
<circle cx="1103.4" cy="365.5" r="8.7"/>
<circle cx="1103.8" cy="363.4" r="8.7"/>
<circle cx="1105.9" cy="355.8" r="8.7"/>
<circle cx="1107.4" cy="357.5" r="8.7"/>
<circle cx="1108.0" cy="365.1" r="8.7"/>
<circle cx="1110.3" cy="375.2" r="8.7"/>
<circle cx="1112.6" cy="374.3" r="8.7"/>
<circle cx="1112.2" cy="364.6" r="8.7"/>
<circle cx="1114.9" cy="356.0" r="8.7"/>
<circle cx="1116.3" cy="358.0" r="8.7"/>
<circle cx="1116.4" cy="366.0" r="8.7"/>
<circle cx="1118.0" cy="372.4" r="8.7"/>
<circle cx="1120.3" cy="355.5" r="8.7"/>
<circle cx="1120.6" cy="361.8" r="8.7"/>
<circle cx="1122.6" cy="369.4" r="8.7"/>
<circle cx="1124.2" cy="372.3" r="8.7"/>
<circle cx="1124.8" cy="362.5" r="8.7"/>
<circle cx="1126.3" cy="356.3" r="8.7"/>
<circle cx="1129.0" cy="372.8" r="8.7"/>
<circle cx="1129.0" cy="365.8" r="8.7"/>
<circle cx="1130.9" cy="373.7" r="8.7"/>
<circle cx="1133.9" cy="373.0" r="8.7"/>
<circle cx="1133.2" cy="359.8" r="8.7"/>
<circle cx="1135.3" cy="352.6" r="8.7"/>
<circle cx="1137.1" cy="365.9" r="8.7"/>
<circle cx="1137.4" cy="363.2" r="8.7"/>
<circle cx="1139.0" cy="369.8" r="8.7"/>
<circle cx="1141.0" cy="354.5" r="8.7"/>
<circle cx="1141.6" cy="367.8" r="8.7"/>
<circle cx="1144.4" cy="375.6" r="8.7"/>
<circle cx="1145.5" cy="356.8" r="8.7"/>
<circle cx="1145.8" cy="362.3" r="8.7"/>
<circle cx="1147.5" cy="361.5" r="8.7"/>
<circle cx="1149.3" cy="359.5" r="8.7"/>
<circle cx="1152.7" cy="361.5" r="8.7"/>
<circle cx="1154.7" cy="360.9" r="8.7"/>
<circle cx="1156.1" cy="360.2" r="8.7"/>
<circle cx="1158.2" cy="364.6" r="8.7"/>
<circle cx="1160.7" cy="365.8" r="8.7"/>
<circle cx="1162.2" cy="364.4" r="8.7"/>
<circle cx="1165.4" cy="365.7" r="8.7"/>
<circle cx="1167.2" cy="363.3" r="8.7"/>
<circle cx="1166.8" cy="358.6" r="8.7"/>
<circle cx="1169.4" cy="356.6" r="8.7"/>
<circle cx="1170.8" cy="351.0" r="8.7"/>
<circle cx="1173.6" cy="353.1" r="8.7"/>
<circle cx="1174.7" cy="356.0" r="8.7"/>
<circle cx="1177.5" cy="352.9" r="8.7"/>
<circle cx="1179.9" cy="348.5" r="8.7"/>
<circle cx="1181.9" cy="355.7" r="8.7"/>
<circle cx="1183.4" cy="351.7" r="8.7"/>
<circle cx="1185.5" cy="358.1" r="8.7"/>
<circle cx="1187.2" cy="352.4" r="8.7"/>
<circle cx="1189.8" cy="354.9" r="8.7"/>
<circle cx="1192.6" cy="353.7" r="8.7"/>
<circle cx="1194.7" cy="353.7" r="8.7"/>
<circle cx="1196.7" cy="356.8" r="8.7"/>
<circle cx="1198.4" cy="365.5" r="8.7"/>
<circle cx="1200.4" cy="360.2" r="8.7"/>
<circle cx="1200.4" cy="359.6" r="8.7"/>
<circle cx="1202.1" cy="363.1" r="8.7"/>
<circle cx="1204.1" cy="368.6" r="8.7"/>
<circle cx="1204.6" cy="363.5" r="8.7"/>
<circle cx="1206.6" cy="352.7" r="8.7"/>
<circle cx="1208.2" cy="356.8" r="8.7"/>
<circle cx="1210.5" cy="352.7" r="8.7"/>
<circle cx="1212.6" cy="359.3" r="8.7"/>
<circle cx="1215.0" cy="362.2" r="8.7"/>
<circle cx="1217.8" cy="356.6" r="8.7"/>
<circle cx="1218.9" cy="365.2" r="8.7"/>
<circle cx="1221.6" cy="359.2" r="8.7"/>
<circle cx="1223.9" cy="360.4" r="8.7"/>
<circle cx="1225.7" cy="361.3" r="8.7"/>
<circle cx="1227.5" cy="370.6" r="8.7"/>
<circle cx="1229.1" cy="366.8" r="8.7"/>
<circle cx="1231.9" cy="367.5" r="8.7"/>
<circle cx="1233.5" cy="373.2" r="8.7"/>
<circle cx="1236.0" cy="376.8" r="8.7"/>
<circle cx="1237.9" cy="371.8" r="8.7"/>
<circle cx="1240.3" cy="368.5" r="8.7"/>
<circle cx="1242.7" cy="372.2" r="8.7"/>
<circle cx="1244.5" cy="369.7" r="8.7"/>
<circle cx="1246.7" cy="364.8" r="8.7"/>
<circle cx="1249.0" cy="370.9" r="8.7"/>
<circle cx="1251.3" cy="370.2" r="8.7"/>
<circle cx="1253.5" cy="370.8" r="8.7"/>
<circle cx="1254.4" cy="379.0" r="8.7"/>
<circle cx="1256.6" cy="379.1" r="8.7"/>
<circle cx="1259.6" cy="376.5" r="8.7"/>
<circle cx="1260.8" cy="385.4" r="8.7"/>
<circle cx="1263.0" cy="379.9" r="8.7"/>
<circle cx="1265.2" cy="387.4" r="8.7"/>
<circle cx="1268.3" cy="388.4" r="8.7"/>
<circle cx="1269.7" cy="382.8" r="8.7"/>
<circle cx="1271.2" cy="381.8" r="8.7"/>
<circle cx="1273.8" cy="384.0" r="8.7"/>
<circle cx="1275.8" cy="382.4" r="8.7"/>
<circle cx="1282.2" cy="398.7" r="8.7"/>
<circle cx="1282.2" cy="406.3" r="8.7"/>
<circle cx="1298.0" cy="393.7" r="8.7"/>
<circle cx="1298.0" cy="398.8" r="8.7"/>
<circle cx="1313.0" cy="399.9" r="8.7"/>
<circle cx="1313.0" cy="416.3" r="8.7"/>
<circle cx="1328.0" cy="402.4" r="8.7"/>
<circle cx="1328.0" cy="408.8" r="8.7"/>
<circle cx="1331.8" cy="408.7" r="8.7"/>
<circle cx="1331.8" cy="422.6" r="8.7"/>
<circle cx="1350.5" cy="402.4" r="8.7"/>
<circle cx="1350.5" cy="411.3" r="8.7"/>
<circle cx="1361.8" cy="408.7" r="8.7"/>
<circle cx="1361.8" cy="418.8" r="8.7"/>
<circle cx="1378.0" cy="407.4" r="8.7"/>
<circle cx="1378.0" cy="417.6" r="8.7"/>
<circle cx="1390.5" cy="411.2" r="8.7"/>
<circle cx="1390.5" cy="423.8" r="8.7"/>
<circle cx="1401.8" cy="409.9" r="8.7"/>
<circle cx="1401.8" cy="418.8" r="8.7"/>
<circle cx="1410.5" cy="411.2" r="8.7"/>
<circle cx="1410.5" cy="415.1" r="8.7"/>
<circle cx="1423.0" cy="401.2" r="8.7"/>
<circle cx="1423.0" cy="408.8" r="8.7"/>
<circle cx="1435.5" cy="393.7" r="8.7"/>
<circle cx="1435.5" cy="406.3" r="8.7"/>
<circle cx="1446.8" cy="397.4" r="8.7"/>
<circle cx="1446.8" cy="412.6" r="8.7"/>
<circle cx="1463.0" cy="398.7" r="8.7"/>
<circle cx="1463.0" cy="408.8" r="8.7"/>
<circle cx="1475.5" cy="391.2" r="8.7"/>
<circle cx="1475.5" cy="417.6" r="8.7"/>
<circle cx="1493.0" cy="382.4" r="8.7"/>
<circle cx="1493.0" cy="405.1" r="8.7"/>
<circle cx="1508.0" cy="387.4" r="8.7"/>
<circle cx="1508.0" cy="398.8" r="8.7"/>
<circle cx="1519.2" cy="374.9" r="8.7"/>
<circle cx="1519.2" cy="393.8" r="8.7"/>
<circle cx="1527.5" cy="378.7" r="8.7"/>
<circle cx="1527.5" cy="386.3" r="8.7"/>
<circle cx="1281.8" cy="401.7" r="8.7"/>
<circle cx="1283.7" cy="402.2" r="8.7"/>
<circle cx="1286.2" cy="402.4" r="8.7"/>
<circle cx="1288.4" cy="402.8" r="8.7"/>
<circle cx="1291.0" cy="402.0" r="8.7"/>
<circle cx="1292.6" cy="396.2" r="8.7"/>
<circle cx="1295.0" cy="399.1" r="8.7"/>
<circle cx="1297.6" cy="395.8" r="8.7"/>
<circle cx="1298.6" cy="399.9" r="8.7"/>
<circle cx="1300.9" cy="395.0" r="8.7"/>
<circle cx="1303.1" cy="404.9" r="8.7"/>
<circle cx="1305.4" cy="400.5" r="8.7"/>
<circle cx="1307.4" cy="405.4" r="8.7"/>
<circle cx="1309.2" cy="411.6" r="8.7"/>
<circle cx="1311.5" cy="414.1" r="8.7"/>
<circle cx="1311.6" cy="409.3" r="8.7"/>
<circle cx="1313.3" cy="415.4" r="8.7"/>
<circle cx="1315.4" cy="400.7" r="8.7"/>
<circle cx="1315.8" cy="405.4" r="8.7"/>
<circle cx="1317.6" cy="402.7" r="8.7"/>
<circle cx="1320.4" cy="412.1" r="8.7"/>
<circle cx="1322.8" cy="410.8" r="8.7"/>
<circle cx="1324.2" cy="402.4" r="8.7"/>
<circle cx="1326.9" cy="402.5" r="8.7"/>
<circle cx="1328.6" cy="410.2" r="8.7"/>
<circle cx="1329.9" cy="407.1" r="8.7"/>
<circle cx="1332.9" cy="421.4" r="8.7"/>
<circle cx="1332.6" cy="415.8" r="8.7"/>
<circle cx="1335.0" cy="420.5" r="8.7"/>
<circle cx="1337.5" cy="411.5" r="8.7"/>
<circle cx="1338.6" cy="417.7" r="8.7"/>
<circle cx="1340.6" cy="406.2" r="8.7"/>
<circle cx="1342.9" cy="415.7" r="8.7"/>
<circle cx="1345.3" cy="404.8" r="8.7"/>
<circle cx="1347.3" cy="403.8" r="8.7"/>
<circle cx="1349.4" cy="408.1" r="8.7"/>
<circle cx="1351.3" cy="408.4" r="8.7"/>
<circle cx="1353.7" cy="404.7" r="8.7"/>
<circle cx="1355.6" cy="414.2" r="8.7"/>
<circle cx="1358.3" cy="406.6" r="8.7"/>
<circle cx="1359.3" cy="412.8" r="8.7"/>
<circle cx="1362.3" cy="412.9" r="8.7"/>
<circle cx="1364.8" cy="409.3" r="8.7"/>
<circle cx="1366.0" cy="414.6" r="8.7"/>
<circle cx="1368.9" cy="417.8" r="8.7"/>
<circle cx="1370.9" cy="416.0" r="8.7"/>
<circle cx="1372.3" cy="414.8" r="8.7"/>
<circle cx="1374.8" cy="410.4" r="8.7"/>
<circle cx="1377.3" cy="407.8" r="8.7"/>
<circle cx="1379.2" cy="407.7" r="8.7"/>
<circle cx="1381.1" cy="409.1" r="8.7"/>
<circle cx="1382.5" cy="409.3" r="8.7"/>
<circle cx="1384.8" cy="410.8" r="8.7"/>
<circle cx="1386.9" cy="410.9" r="8.7"/>
<circle cx="1388.8" cy="418.9" r="8.7"/>
<circle cx="1391.1" cy="411.3" r="8.7"/>
<circle cx="1393.4" cy="414.1" r="8.7"/>
<circle cx="1396.3" cy="420.9" r="8.7"/>
<circle cx="1397.7" cy="410.6" r="8.7"/>
<circle cx="1400.5" cy="414.0" r="8.7"/>
<circle cx="1402.3" cy="418.2" r="8.7"/>
<circle cx="1404.1" cy="411.0" r="8.7"/>
<circle cx="1406.3" cy="411.4" r="8.7"/>
<circle cx="1408.7" cy="415.8" r="8.7"/>
<circle cx="1410.9" cy="414.9" r="8.7"/>
<circle cx="1412.4" cy="413.9" r="8.7"/>
<circle cx="1414.3" cy="411.7" r="8.7"/>
<circle cx="1416.1" cy="407.3" r="8.7"/>
<circle cx="1418.3" cy="405.4" r="8.7"/>
<circle cx="1420.8" cy="409.6" r="8.7"/>
<circle cx="1423.5" cy="403.1" r="8.7"/>
<circle cx="1425.2" cy="400.6" r="8.7"/>
<circle cx="1427.3" cy="405.9" r="8.7"/>
<circle cx="1429.8" cy="397.6" r="8.7"/>
<circle cx="1431.7" cy="403.7" r="8.7"/>
<circle cx="1433.9" cy="406.6" r="8.7"/>
<circle cx="1435.1" cy="405.4" r="8.7"/>
<circle cx="1437.5" cy="401.7" r="8.7"/>
<circle cx="1437.6" cy="399.4" r="8.7"/>
<circle cx="1439.6" cy="408.3" r="8.7"/>
<circle cx="1442.0" cy="395.8" r="8.7"/>
<circle cx="1441.8" cy="401.2" r="8.7"/>
<circle cx="1444.6" cy="401.8" r="8.7"/>
<circle cx="1446.2" cy="399.3" r="8.7"/>
<circle cx="1446.0" cy="407.1" r="8.7"/>
<circle cx="1447.7" cy="397.6" r="8.7"/>
<circle cx="1450.4" cy="411.6" r="8.7"/>
<circle cx="1450.2" cy="405.0" r="8.7"/>
<circle cx="1452.2" cy="407.1" r="8.7"/>
<circle cx="1454.5" cy="406.1" r="8.7"/>
<circle cx="1456.4" cy="406.3" r="8.7"/>
<circle cx="1459.3" cy="401.8" r="8.7"/>
<circle cx="1460.8" cy="398.6" r="8.7"/>
<circle cx="1462.3" cy="398.7" r="8.7"/>
<circle cx="1465.2" cy="406.0" r="8.7"/>
<circle cx="1467.3" cy="411.5" r="8.7"/>
<circle cx="1467.0" cy="405.1" r="8.7"/>
<circle cx="1468.9" cy="411.6" r="8.7"/>
<circle cx="1471.1" cy="413.7" r="8.7"/>
<circle cx="1471.2" cy="407.1" r="8.7"/>
<circle cx="1472.9" cy="393.0" r="8.7"/>
<circle cx="1476.1" cy="393.9" r="8.7"/>
<circle cx="1475.4" cy="402.2" r="8.7"/>
<circle cx="1477.3" cy="403.5" r="8.7"/>
<circle cx="1479.9" cy="399.4" r="8.7"/>
<circle cx="1479.6" cy="398.0" r="8.7"/>
<circle cx="1481.2" cy="412.6" r="8.7"/>
<circle cx="1483.4" cy="393.7" r="8.7"/>
<circle cx="1483.8" cy="398.1" r="8.7"/>
<circle cx="1486.6" cy="409.0" r="8.7"/>
<circle cx="1488.3" cy="399.7" r="8.7"/>
<circle cx="1488.0" cy="393.9" r="8.7"/>
<circle cx="1490.0" cy="396.7" r="8.7"/>
<circle cx="1491.7" cy="388.6" r="8.7"/>
<circle cx="1492.2" cy="391.5" r="8.7"/>
<circle cx="1494.8" cy="382.9" r="8.7"/>
<circle cx="1496.3" cy="384.4" r="8.7"/>
<circle cx="1496.4" cy="393.9" r="8.7"/>
<circle cx="1498.4" cy="402.4" r="8.7"/>
<circle cx="1500.3" cy="385.1" r="8.7"/>
<circle cx="1500.6" cy="391.0" r="8.7"/>
<circle cx="1502.5" cy="400.0" r="8.7"/>
<circle cx="1505.1" cy="389.4" r="8.7"/>
<circle cx="1504.8" cy="394.9" r="8.7"/>
<circle cx="1506.5" cy="387.6" r="8.7"/>
<circle cx="1508.8" cy="398.1" r="8.7"/>
<circle cx="1511.2" cy="384.3" r="8.7"/>
<circle cx="1512.8" cy="385.2" r="8.7"/>
<circle cx="1513.2" cy="388.0" r="8.7"/>
<circle cx="1515.6" cy="379.5" r="8.7"/>
<circle cx="1517.9" cy="394.3" r="8.7"/>
<circle cx="1517.4" cy="386.7" r="8.7"/>
<circle cx="1518.9" cy="375.2" r="8.7"/>
<circle cx="1522.0" cy="390.9" r="8.7"/>
<circle cx="1521.6" cy="383.9" r="8.7"/>
<circle cx="1523.7" cy="377.4" r="8.7"/>
<circle cx="1526.4" cy="378.9" r="8.7"/>
<circle cx="272.0" cy="283.0" r="8.7"/>
<circle cx="277.0" cy="293.7" r="8.7"/>
<circle cx="294.5" cy="282.9" r="8.7"/>
<circle cx="293.8" cy="311.9" r="8.7"/>
<circle cx="470.5" cy="395.0" r="8.7"/>
<circle cx="274.5" cy="417.0" r="8.7"/>
<circle cx="664.5" cy="273.8" r="8.7"/>
<circle cx="1401.8" cy="393.0" r="8.7"/>
</g>
<g fill="#f00">
<circle cx="160.5" cy="561.2" r="8.7"/>
<circle cx="160.5" cy="598.8" r="8.7"/>
<circle cx="172.5" cy="557.5" r="8.7"/>
<circle cx="172.5" cy="596.3" r="8.7"/>
<circle cx="185.0" cy="558.7" r="8.7"/>
<circle cx="185.0" cy="581.3" r="8.7"/>
<circle cx="195.0" cy="558.7" r="8.7"/>
<circle cx="195.0" cy="577.5" r="8.7"/>
<circle cx="206.2" cy="567.5" r="8.7"/>
<circle cx="206.2" cy="576.3" r="8.7"/>
<circle cx="215.0" cy="561.2" r="8.7"/>
<circle cx="215.0" cy="581.3" r="8.7"/>
<circle cx="227.5" cy="555.0" r="8.7"/>
<circle cx="227.5" cy="571.3" r="8.7"/>
<circle cx="235.0" cy="553.7" r="8.7"/>
<circle cx="235.0" cy="573.8" r="8.7"/>
<circle cx="242.5" cy="547.5" r="8.7"/>
<circle cx="242.5" cy="558.8" r="8.7"/>
<circle cx="255.0" cy="552.5" r="8.7"/>
<circle cx="255.0" cy="563.8" r="8.7"/>
<circle cx="263.8" cy="555.0" r="8.7"/>
<circle cx="263.8" cy="566.3" r="8.7"/>
<circle cx="275.0" cy="562.5" r="8.7"/>
<circle cx="275.0" cy="575.0" r="8.7"/>
<circle cx="286.2" cy="566.2" r="8.7"/>
<circle cx="286.2" cy="573.8" r="8.7"/>
<circle cx="295.0" cy="578.7" r="8.7"/>
<circle cx="295.0" cy="591.3" r="8.7"/>
<circle cx="305.0" cy="586.2" r="8.7"/>
<circle cx="305.0" cy="596.3" r="8.7"/>
<circle cx="313.8" cy="595.0" r="8.7"/>
<circle cx="313.8" cy="616.3" r="8.7"/>
<circle cx="323.8" cy="588.7" r="8.7"/>
<circle cx="323.8" cy="607.5" r="8.7"/>
<circle cx="335.0" cy="603.7" r="8.7"/>
<circle cx="335.0" cy="620.0" r="8.7"/>
<circle cx="345.0" cy="613.7" r="8.7"/>
<circle cx="345.0" cy="630.0" r="8.7"/>
<circle cx="355.0" cy="616.2" r="8.7"/>
<circle cx="355.0" cy="628.8" r="8.7"/>
<circle cx="365.0" cy="617.5" r="8.7"/>
<circle cx="365.0" cy="633.8" r="8.7"/>
<circle cx="377.5" cy="610.0" r="8.7"/>
<circle cx="377.5" cy="626.3" r="8.7"/>
<circle cx="387.5" cy="605.0" r="8.7"/>
<circle cx="387.5" cy="625.0" r="8.7"/>
<circle cx="395.0" cy="593.7" r="8.7"/>
<circle cx="395.0" cy="616.3" r="8.7"/>
<circle cx="403.8" cy="586.2" r="8.7"/>
<circle cx="403.8" cy="607.5" r="8.7"/>
<circle cx="417.5" cy="585.0" r="8.7"/>
<circle cx="417.5" cy="601.3" r="8.7"/>
<circle cx="427.5" cy="580.0" r="8.7"/>
<circle cx="427.5" cy="585.0" r="8.7"/>
<circle cx="437.5" cy="577.5" r="8.7"/>
<circle cx="437.5" cy="586.3" r="8.7"/>
<circle cx="445.0" cy="571.2" r="8.7"/>
<circle cx="445.0" cy="580.0" r="8.7"/>
<circle cx="455.0" cy="543.7" r="8.7"/>
<circle cx="455.0" cy="572.5" r="8.7"/>
<circle cx="465.0" cy="541.2" r="8.7"/>
<circle cx="465.0" cy="567.5" r="8.7"/>
<circle cx="472.5" cy="526.2" r="8.7"/>
<circle cx="472.5" cy="551.3" r="8.7"/>
<circle cx="485.0" cy="507.4" r="8.7"/>
<circle cx="485.0" cy="536.3" r="8.7"/>
<circle cx="495.0" cy="501.2" r="8.7"/>
<circle cx="495.0" cy="525.0" r="8.7"/>
<circle cx="505.0" cy="494.9" r="8.7"/>
<circle cx="505.0" cy="510.1" r="8.7"/>
<circle cx="512.0" cy="489.9" r="8.7"/>
<circle cx="512.0" cy="507.6" r="8.7"/>
<circle cx="524.5" cy="497.4" r="8.7"/>
<circle cx="524.5" cy="508.8" r="8.7"/>
<circle cx="537.0" cy="502.4" r="8.7"/>
<circle cx="537.0" cy="520.0" r="8.7"/>
<circle cx="552.0" cy="512.5" r="8.7"/>
<circle cx="552.0" cy="528.8" r="8.7"/>
<circle cx="564.5" cy="525.0" r="8.7"/>
<circle cx="564.5" cy="536.3" r="8.7"/>
<circle cx="574.5" cy="533.7" r="8.7"/>
<circle cx="574.5" cy="545.0" r="8.7"/>
<circle cx="592.0" cy="541.2" r="8.7"/>
<circle cx="592.0" cy="556.3" r="8.7"/>
<circle cx="602.0" cy="531.2" r="8.7"/>
<circle cx="602.0" cy="552.5" r="8.7"/>
<circle cx="614.5" cy="535.0" r="8.7"/>
<circle cx="614.5" cy="552.5" r="8.7"/>
<circle cx="622.0" cy="536.2" r="8.7"/>
<circle cx="622.0" cy="548.8" r="8.7"/>
<circle cx="632.0" cy="527.5" r="8.7"/>
<circle cx="632.0" cy="538.8" r="8.7"/>
<circle cx="647.0" cy="518.7" r="8.7"/>
<circle cx="647.0" cy="533.8" r="8.7"/>
<circle cx="657.0" cy="515.0" r="8.7"/>
<circle cx="657.0" cy="523.8" r="8.7"/>
<circle cx="669.5" cy="502.4" r="8.7"/>
<circle cx="669.5" cy="518.8" r="8.7"/>
<circle cx="683.2" cy="503.7" r="8.7"/>
<circle cx="683.2" cy="533.8" r="8.7"/>
<circle cx="698.2" cy="499.9" r="8.7"/>
<circle cx="698.2" cy="518.8" r="8.7"/>
<circle cx="712.0" cy="498.7" r="8.7"/>
<circle cx="712.0" cy="520.0" r="8.7"/>
<circle cx="724.5" cy="498.7" r="8.7"/>
<circle cx="724.5" cy="531.3" r="8.7"/>
<circle cx="737.0" cy="503.7" r="8.7"/>
<circle cx="737.0" cy="528.8" r="8.7"/>
<circle cx="749.5" cy="504.9" r="8.7"/>
<circle cx="749.5" cy="528.8" r="8.7"/>
<circle cx="758.2" cy="508.7" r="8.7"/>
<circle cx="758.2" cy="533.8" r="8.7"/>
<circle cx="767.0" cy="518.7" r="8.7"/>
<circle cx="767.0" cy="541.3" r="8.7"/>
<circle cx="779.5" cy="521.2" r="8.7"/>
<circle cx="779.5" cy="538.8" r="8.7"/>
<circle cx="792.0" cy="526.2" r="8.7"/>
<circle cx="792.0" cy="545.0" r="8.7"/>
<circle cx="802.0" cy="530.0" r="8.7"/>
<circle cx="802.0" cy="546.3" r="8.7"/>
<circle cx="812.0" cy="533.7" r="8.7"/>
<circle cx="812.0" cy="558.8" r="8.7"/>
<circle cx="819.5" cy="536.2" r="8.7"/>
<circle cx="819.5" cy="566.3" r="8.7"/>
<circle cx="833.2" cy="538.7" r="8.7"/>
<circle cx="833.2" cy="572.5" r="8.7"/>
<circle cx="842.0" cy="548.7" r="8.7"/>
<circle cx="842.0" cy="587.5" r="8.7"/>
<circle cx="850.8" cy="571.2" r="8.7"/>
<circle cx="850.8" cy="581.3" r="8.7"/>
<circle cx="862.0" cy="588.7" r="8.7"/>
<circle cx="862.0" cy="611.3" r="8.7"/>
<circle cx="872.0" cy="596.2" r="8.7"/>
<circle cx="872.0" cy="626.3" r="8.7"/>
<circle cx="882.0" cy="611.2" r="8.7"/>
<circle cx="882.0" cy="628.8" r="8.7"/>
<circle cx="892.0" cy="618.7" r="8.7"/>
<circle cx="892.0" cy="636.3" r="8.7"/>
<circle cx="897.5" cy="628.7" r="8.7"/>
<circle cx="897.5" cy="636.3" r="8.7"/>
<circle cx="905.0" cy="633.7" r="8.7"/>
<circle cx="905.0" cy="643.8" r="8.7"/>
<circle cx="912.5" cy="642.5" r="8.7"/>
<circle cx="912.5" cy="650.0" r="8.7"/>
<circle cx="925.0" cy="636.2" r="8.7"/>
<circle cx="925.0" cy="661.3" r="8.7"/>
<circle cx="935.0" cy="635.0" r="8.7"/>
<circle cx="935.0" cy="656.3" r="8.7"/>
<circle cx="943.8" cy="631.2" r="8.7"/>
<circle cx="943.8" cy="662.5" r="8.7"/>
<circle cx="955.0" cy="641.2" r="8.7"/>
<circle cx="955.0" cy="658.8" r="8.7"/>
<circle cx="961.2" cy="648.7" r="8.7"/>
<circle cx="961.2" cy="666.3" r="8.7"/>
<circle cx="968.8" cy="633.7" r="8.7"/>
<circle cx="968.8" cy="661.3" r="8.7"/>
<circle cx="980.0" cy="642.5" r="8.7"/>
<circle cx="980.0" cy="655.0" r="8.7"/>
<circle cx="989.5" cy="646.2" r="8.7"/>
<circle cx="989.5" cy="646.3" r="8.7"/>
<circle cx="159.9" cy="598.1" r="8.7"/>
<circle cx="160.5" cy="582.5" r="8.7"/>
<circle cx="162.3" cy="573.2" r="8.7"/>
<circle cx="162.6" cy="589.9" r="8.7"/>
<circle cx="164.6" cy="568.4" r="8.7"/>
<circle cx="164.7" cy="581.4" r="8.7"/>
<circle cx="166.2" cy="597.0" r="8.7"/>
<circle cx="166.8" cy="567.8" r="8.7"/>
<circle cx="168.9" cy="559.1" r="8.7"/>
<circle cx="168.9" cy="577.7" r="8.7"/>
<circle cx="171.0" cy="558.2" r="8.7"/>
<circle cx="171.0" cy="587.9" r="8.7"/>
<circle cx="173.7" cy="568.6" r="8.7"/>
<circle cx="173.1" cy="580.7" r="8.7"/>
<circle cx="175.5" cy="592.4" r="8.7"/>
<circle cx="175.2" cy="565.7" r="8.7"/>
<circle cx="178.0" cy="576.8" r="8.7"/>
<circle cx="177.3" cy="569.0" r="8.7"/>
<circle cx="178.9" cy="582.1" r="8.7"/>
<circle cx="181.6" cy="585.4" r="8.7"/>
<circle cx="181.5" cy="574.0" r="8.7"/>
<circle cx="183.3" cy="559.5" r="8.7"/>
<circle cx="185.0" cy="568.5" r="8.7"/>
<circle cx="185.7" cy="566.7" r="8.7"/>
<circle cx="188.0" cy="577.3" r="8.7"/>
<circle cx="190.2" cy="559.6" r="8.7"/>
<circle cx="189.9" cy="566.3" r="8.7"/>
<circle cx="191.8" cy="558.9" r="8.7"/>
<circle cx="193.8" cy="577.8" r="8.7"/>
<circle cx="194.1" cy="571.0" r="8.7"/>
<circle cx="196.3" cy="575.0" r="8.7"/>
<circle cx="198.9" cy="571.5" r="8.7"/>
<circle cx="198.3" cy="569.6" r="8.7"/>
<circle cx="200.4" cy="562.9" r="8.7"/>
<circle cx="202.1" cy="576.2" r="8.7"/>
<circle cx="204.6" cy="566.2" r="8.7"/>
<circle cx="206.4" cy="567.3" r="8.7"/>
<circle cx="209.2" cy="574.2" r="8.7"/>
<circle cx="211.5" cy="578.4" r="8.7"/>
<circle cx="210.9" cy="571.6" r="8.7"/>
<circle cx="213.4" cy="579.4" r="8.7"/>
<circle cx="214.7" cy="561.8" r="8.7"/>
<circle cx="215.1" cy="570.8" r="8.7"/>
<circle cx="217.5" cy="578.8" r="8.7"/>
<circle cx="219.7" cy="577.0" r="8.7"/>
<circle cx="219.3" cy="569.5" r="8.7"/>
<circle cx="221.7" cy="569.5" r="8.7"/>
<circle cx="224.1" cy="574.4" r="8.7"/>
<circle cx="223.5" cy="565.9" r="8.7"/>
<circle cx="226.0" cy="572.3" r="8.7"/>
<circle cx="227.2" cy="571.3" r="8.7"/>
<circle cx="227.7" cy="564.8" r="8.7"/>
<circle cx="229.6" cy="563.1" r="8.7"/>
<circle cx="232.4" cy="572.4" r="8.7"/>
<circle cx="231.9" cy="565.9" r="8.7"/>
<circle cx="233.7" cy="572.1" r="8.7"/>
<circle cx="235.6" cy="556.2" r="8.7"/>
<circle cx="236.1" cy="560.7" r="8.7"/>
<circle cx="238.0" cy="565.0" r="8.7"/>
<circle cx="240.2" cy="561.7" r="8.7"/>
<circle cx="240.3" cy="554.7" r="8.7"/>
<circle cx="241.9" cy="551.8" r="8.7"/>
<circle cx="244.4" cy="553.2" r="8.7"/>
<circle cx="246.4" cy="560.0" r="8.7"/>
<circle cx="249.1" cy="561.2" r="8.7"/>
<circle cx="250.1" cy="551.0" r="8.7"/>
<circle cx="252.6" cy="558.5" r="8.7"/>
<circle cx="255.6" cy="552.6" r="8.7"/>
<circle cx="256.5" cy="553.4" r="8.7"/>
<circle cx="259.3" cy="553.8" r="8.7"/>
<circle cx="261.2" cy="565.5" r="8.7"/>
<circle cx="262.9" cy="555.2" r="8.7"/>
<circle cx="266.0" cy="558.9" r="8.7"/>
<circle cx="268.0" cy="557.6" r="8.7"/>
<circle cx="270.1" cy="562.1" r="8.7"/>
<circle cx="271.2" cy="560.4" r="8.7"/>
<circle cx="274.4" cy="573.7" r="8.7"/>
<circle cx="276.4" cy="574.4" r="8.7"/>
<circle cx="278.8" cy="574.7" r="8.7"/>
<circle cx="279.8" cy="574.1" r="8.7"/>
<circle cx="282.2" cy="574.0" r="8.7"/>
<circle cx="284.7" cy="573.9" r="8.7"/>
<circle cx="286.5" cy="566.7" r="8.7"/>
<circle cx="288.2" cy="569.9" r="8.7"/>
<circle cx="290.5" cy="576.2" r="8.7"/>
<circle cx="292.5" cy="581.9" r="8.7"/>
<circle cx="295.1" cy="578.7" r="8.7"/>
<circle cx="296.8" cy="592.1" r="8.7"/>
<circle cx="299.0" cy="585.7" r="8.7"/>
<circle cx="301.1" cy="587.3" r="8.7"/>
<circle cx="303.2" cy="585.1" r="8.7"/>
<circle cx="305.3" cy="586.9" r="8.7"/>
<circle cx="307.8" cy="593.7" r="8.7"/>
<circle cx="307.5" cy="593.2" r="8.7"/>
<circle cx="309.6" cy="591.1" r="8.7"/>
<circle cx="311.2" cy="610.7" r="8.7"/>
<circle cx="311.7" cy="603.2" r="8.7"/>
<circle cx="314.0" cy="600.4" r="8.7"/>
<circle cx="315.6" cy="594.0" r="8.7"/>
<circle cx="315.9" cy="604.4" r="8.7"/>
<circle cx="318.2" cy="611.8" r="8.7"/>
<circle cx="320.3" cy="610.4" r="8.7"/>
<circle cx="320.1" cy="602.8" r="8.7"/>
<circle cx="322.1" cy="608.1" r="8.7"/>
<circle cx="324.7" cy="600.0" r="8.7"/>
<circle cx="324.3" cy="597.9" r="8.7"/>
<circle cx="325.8" cy="592.6" r="8.7"/>
<circle cx="329.1" cy="595.6" r="8.7"/>
<circle cx="328.5" cy="606.9" r="8.7"/>
<circle cx="331.1" cy="602.5" r="8.7"/>
<circle cx="332.7" cy="601.4" r="8.7"/>
<circle cx="332.7" cy="606.2" r="8.7"/>
<circle cx="335.3" cy="610.6" r="8.7"/>
<circle cx="337.4" cy="614.3" r="8.7"/>
<circle cx="336.9" cy="612.1" r="8.7"/>
<circle cx="338.3" cy="613.2" r="8.7"/>
<circle cx="340.6" cy="625.4" r="8.7"/>
<circle cx="341.1" cy="616.0" r="8.7"/>
<circle cx="343.8" cy="627.9" r="8.7"/>
<circle cx="346.0" cy="627.9" r="8.7"/>
<circle cx="345.3" cy="621.6" r="8.7"/>
<circle cx="348.0" cy="618.6" r="8.7"/>
<circle cx="349.1" cy="625.6" r="8.7"/>
<circle cx="349.5" cy="620.1" r="8.7"/>
<circle cx="351.8" cy="623.0" r="8.7"/>
<circle cx="354.0" cy="617.8" r="8.7"/>
<circle cx="353.7" cy="622.3" r="8.7"/>
<circle cx="355.4" cy="622.2" r="8.7"/>
<circle cx="358.2" cy="620.4" r="8.7"/>
<circle cx="357.9" cy="625.0" r="8.7"/>
<circle cx="359.6" cy="617.1" r="8.7"/>
<circle cx="362.1" cy="622.7" r="8.7"/>
<circle cx="362.1" cy="624.7" r="8.7"/>
<circle cx="364.5" cy="617.6" r="8.7"/>
<circle cx="365.9" cy="622.5" r="8.7"/>
<circle cx="366.3" cy="624.0" r="8.7"/>
<circle cx="368.3" cy="626.2" r="8.7"/>
<circle cx="370.5" cy="629.9" r="8.7"/>
<circle cx="370.5" cy="624.0" r="8.7"/>
<circle cx="372.4" cy="613.2" r="8.7"/>
<circle cx="374.4" cy="613.2" r="8.7"/>
<circle cx="374.7" cy="620.6" r="8.7"/>
<circle cx="376.7" cy="626.4" r="8.7"/>
<circle cx="378.6" cy="609.4" r="8.7"/>
<circle cx="378.9" cy="619.6" r="8.7"/>
<circle cx="381.4" cy="608.4" r="8.7"/>
<circle cx="383.5" cy="607.4" r="8.7"/>
<circle cx="383.1" cy="617.5" r="8.7"/>
<circle cx="385.4" cy="614.5" r="8.7"/>
<circle cx="386.7" cy="608.8" r="8.7"/>
<circle cx="387.3" cy="614.4" r="8.7"/>
<circle cx="389.2" cy="622.6" r="8.7"/>
<circle cx="391.6" cy="618.9" r="8.7"/>
<circle cx="391.5" cy="607.3" r="8.7"/>
<circle cx="394.1" cy="596.7" r="8.7"/>
<circle cx="395.3" cy="593.4" r="8.7"/>
<circle cx="395.7" cy="600.7" r="8.7"/>
<circle cx="397.9" cy="604.0" r="8.7"/>
<circle cx="399.5" cy="589.9" r="8.7"/>
<circle cx="399.9" cy="601.0" r="8.7"/>
<circle cx="402.0" cy="595.7" r="8.7"/>
<circle cx="404.4" cy="587.3" r="8.7"/>
<circle cx="404.1" cy="594.2" r="8.7"/>
<circle cx="406.7" cy="587.1" r="8.7"/>
<circle cx="407.7" cy="604.7" r="8.7"/>
<circle cx="408.3" cy="593.9" r="8.7"/>
<circle cx="410.3" cy="604.5" r="8.7"/>
<circle cx="412.8" cy="585.9" r="8.7"/>
<circle cx="412.5" cy="592.0" r="8.7"/>
<circle cx="414.9" cy="602.5" r="8.7"/>
<circle cx="416.3" cy="601.6" r="8.7"/>
<circle cx="416.7" cy="590.6" r="8.7"/>
<circle cx="419.4" cy="590.4" r="8.7"/>
<circle cx="420.3" cy="595.6" r="8.7"/>
<circle cx="422.9" cy="587.4" r="8.7"/>
<circle cx="424.6" cy="581.3" r="8.7"/>
<circle cx="427.1" cy="580.3" r="8.7"/>
<circle cx="429.2" cy="582.7" r="8.7"/>
<circle cx="430.8" cy="585.1" r="8.7"/>
<circle cx="434.2" cy="578.6" r="8.7"/>
<circle cx="435.6" cy="578.3" r="8.7"/>
<circle cx="438.0" cy="585.7" r="8.7"/>
<circle cx="440.0" cy="577.3" r="8.7"/>
<circle cx="441.2" cy="579.6" r="8.7"/>
<circle cx="443.5" cy="580.7" r="8.7"/>
<circle cx="446.5" cy="571.3" r="8.7"/>
<circle cx="448.6" cy="562.7" r="8.7"/>
<circle cx="449.6" cy="558.1" r="8.7"/>
<circle cx="450.3" cy="567.9" r="8.7"/>
<circle cx="452.3" cy="573.7" r="8.7"/>
<circle cx="454.2" cy="572.1" r="8.7"/>
<circle cx="454.5" cy="563.6" r="8.7"/>
<circle cx="456.2" cy="570.9" r="8.7"/>
<circle cx="458.9" cy="551.8" r="8.7"/>
<circle cx="458.7" cy="560.0" r="8.7"/>
<circle cx="460.2" cy="542.3" r="8.7"/>
<circle cx="462.5" cy="542.2" r="8.7"/>
<circle cx="462.9" cy="554.6" r="8.7"/>
<circle cx="464.5" cy="548.5" r="8.7"/>
<circle cx="466.7" cy="561.2" r="8.7"/>
<circle cx="467.1" cy="550.6" r="8.7"/>
<circle cx="469.1" cy="557.7" r="8.7"/>
<circle cx="471.4" cy="536.3" r="8.7"/>
<circle cx="471.3" cy="543.1" r="8.7"/>
<circle cx="473.7" cy="525.4" r="8.7"/>
<circle cx="475.0" cy="547.2" r="8.7"/>
<circle cx="475.5" cy="534.5" r="8.7"/>
<circle cx="477.0" cy="545.1" r="8.7"/>
<circle cx="479.2" cy="515.8" r="8.7"/>
<circle cx="479.7" cy="532.1" r="8.7"/>
<circle cx="481.2" cy="540.0" r="8.7"/>
<circle cx="484.5" cy="511.9" r="8.7"/>
<circle cx="483.9" cy="522.4" r="8.7"/>
<circle cx="485.4" cy="508.7" r="8.7"/>
<circle cx="487.8" cy="506.8" r="8.7"/>
<circle cx="488.1" cy="519.1" r="8.7"/>
<circle cx="489.9" cy="529.7" r="8.7"/>
<circle cx="491.7" cy="527.9" r="8.7"/>
<circle cx="492.3" cy="518.1" r="8.7"/>
<circle cx="493.9" cy="524.5" r="8.7"/>
<circle cx="496.4" cy="500.4" r="8.7"/>
<circle cx="496.5" cy="514.6" r="8.7"/>
<circle cx="499.1" cy="499.6" r="8.7"/>
<circle cx="500.4" cy="515.4" r="8.7"/>
<circle cx="500.7" cy="509.1" r="8.7"/>
<circle cx="503.5" cy="499.8" r="8.7"/>
<circle cx="505.0" cy="507.3" r="8.7"/>
<circle cx="504.9" cy="500.4" r="8.7"/>
<circle cx="506.7" cy="496.3" r="8.7"/>
<circle cx="509.0" cy="495.2" r="8.7"/>
<circle cx="509.1" cy="501.5" r="8.7"/>
<circle cx="511.4" cy="491.1" r="8.7"/>
<circle cx="512.9" cy="491.5" r="8.7"/>
<circle cx="513.3" cy="501.9" r="8.7"/>
<circle cx="515.2" cy="507.5" r="8.7"/>
<circle cx="517.7" cy="504.2" r="8.7"/>
<circle cx="517.5" cy="500.2" r="8.7"/>
<circle cx="520.3" cy="495.0" r="8.7"/>
<circle cx="521.7" cy="508.4" r="8.7"/>
<circle cx="524.1" cy="499.8" r="8.7"/>
<circle cx="526.4" cy="509.3" r="8.7"/>
<circle cx="528.4" cy="502.4" r="8.7"/>
<circle cx="529.9" cy="512.7" r="8.7"/>
<circle cx="530.1" cy="508.2" r="8.7"/>
<circle cx="532.4" cy="513.4" r="8.7"/>
<circle cx="534.1" cy="517.3" r="8.7"/>
<circle cx="534.3" cy="507.2" r="8.7"/>
<circle cx="536.0" cy="502.4" r="8.7"/>
<circle cx="539.0" cy="509.2" r="8.7"/>
<circle cx="538.5" cy="511.0" r="8.7"/>
<circle cx="540.4" cy="521.5" r="8.7"/>
<circle cx="542.5" cy="506.3" r="8.7"/>
<circle cx="542.7" cy="511.8" r="8.7"/>
<circle cx="544.5" cy="511.5" r="8.7"/>
<circle cx="546.9" cy="525.6" r="8.7"/>
<circle cx="546.9" cy="515.9" r="8.7"/>
<circle cx="548.8" cy="511.2" r="8.7"/>
<circle cx="550.6" cy="526.4" r="8.7"/>
<circle cx="551.1" cy="522.1" r="8.7"/>
<circle cx="553.3" cy="514.0" r="8.7"/>
<circle cx="555.4" cy="518.1" r="8.7"/>
<circle cx="555.3" cy="522.0" r="8.7"/>
<circle cx="557.7" cy="531.3" r="8.7"/>
<circle cx="560.1" cy="520.4" r="8.7"/>
<circle cx="559.5" cy="528.1" r="8.7"/>
<circle cx="562.2" cy="534.1" r="8.7"/>
<circle cx="564.3" cy="535.5" r="8.7"/>
<circle cx="566.4" cy="533.6" r="8.7"/>
<circle cx="567.8" cy="533.0" r="8.7"/>
<circle cx="569.5" cy="533.4" r="8.7"/>
<circle cx="571.7" cy="540.8" r="8.7"/>
<circle cx="573.7" cy="543.6" r="8.7"/>
<circle cx="576.1" cy="545.7" r="8.7"/>
<circle cx="578.3" cy="547.5" r="8.7"/>
<circle cx="580.0" cy="544.3" r="8.7"/>
<circle cx="582.0" cy="539.5" r="8.7"/>
<circle cx="585.3" cy="551.1" r="8.7"/>
<circle cx="584.7" cy="544.4" r="8.7"/>
<circle cx="586.9" cy="549.9" r="8.7"/>
<circle cx="588.9" cy="554.2" r="8.7"/>
<circle cx="588.9" cy="546.6" r="8.7"/>
<circle cx="590.8" cy="548.3" r="8.7"/>
<circle cx="592.7" cy="555.8" r="8.7"/>
<circle cx="593.1" cy="547.1" r="8.7"/>
<circle cx="595.7" cy="554.5" r="8.7"/>
<circle cx="597.8" cy="553.7" r="8.7"/>
<circle cx="597.3" cy="545.7" r="8.7"/>
<circle cx="599.2" cy="553.3" r="8.7"/>
<circle cx="601.3" cy="532.5" r="8.7"/>
<circle cx="601.5" cy="542.2" r="8.7"/>
<circle cx="603.9" cy="552.2" r="8.7"/>
<circle cx="605.2" cy="544.4" r="8.7"/>
<circle cx="605.7" cy="543.1" r="8.7"/>
<circle cx="608.2" cy="552.3" r="8.7"/>
<circle cx="610.5" cy="533.8" r="8.7"/>
<circle cx="609.9" cy="545.2" r="8.7"/>
<circle cx="612.1" cy="538.7" r="8.7"/>
<circle cx="614.5" cy="552.1" r="8.7"/>
<circle cx="614.1" cy="544.4" r="8.7"/>
<circle cx="616.8" cy="535.9" r="8.7"/>
<circle cx="617.6" cy="535.9" r="8.7"/>
<circle cx="618.3" cy="542.9" r="8.7"/>
<circle cx="620.4" cy="536.6" r="8.7"/>
<circle cx="622.8" cy="542.5" r="8.7"/>
<circle cx="624.3" cy="534.1" r="8.7"/>
<circle cx="627.1" cy="532.8" r="8.7"/>
<circle cx="629.2" cy="530.4" r="8.7"/>
<circle cx="630.9" cy="539.8" r="8.7"/>
<circle cx="633.1" cy="530.6" r="8.7"/>
<circle cx="635.7" cy="535.1" r="8.7"/>
<circle cx="637.0" cy="525.1" r="8.7"/>
<circle cx="639.7" cy="523.5" r="8.7"/>
<circle cx="639.3" cy="531.8" r="8.7"/>
<circle cx="641.4" cy="535.1" r="8.7"/>
<circle cx="644.0" cy="523.1" r="8.7"/>
<circle cx="643.5" cy="527.3" r="8.7"/>
<circle cx="645.1" cy="519.9" r="8.7"/>
<circle cx="648.0" cy="532.9" r="8.7"/>
<circle cx="647.7" cy="526.2" r="8.7"/>
<circle cx="650.2" cy="517.9" r="8.7"/>
<circle cx="652.5" cy="519.5" r="8.7"/>
<circle cx="653.3" cy="518.5" r="8.7"/>
<circle cx="655.5" cy="523.1" r="8.7"/>
<circle cx="658.4" cy="521.1" r="8.7"/>
<circle cx="660.1" cy="522.3" r="8.7"/>
<circle cx="662.1" cy="520.7" r="8.7"/>
<circle cx="665.0" cy="516.6" r="8.7"/>
<circle cx="664.5" cy="514.4" r="8.7"/>
<circle cx="666.7" cy="519.9" r="8.7"/>
<circle cx="669.0" cy="503.6" r="8.7"/>
<circle cx="668.7" cy="512.1" r="8.7"/>
<circle cx="671.2" cy="502.9" r="8.7"/>
<circle cx="672.9" cy="522.3" r="8.7"/>
<circle cx="672.9" cy="514.8" r="8.7"/>
<circle cx="674.8" cy="523.5" r="8.7"/>
<circle cx="676.5" cy="507.0" r="8.7"/>
<circle cx="677.1" cy="517.2" r="8.7"/>
<circle cx="679.4" cy="503.9" r="8.7"/>
<circle cx="681.2" cy="515.0" r="8.7"/>
<circle cx="681.3" cy="513.0" r="8.7"/>
<circle cx="683.8" cy="533.3" r="8.7"/>
<circle cx="685.5" cy="525.4" r="8.7"/>
<circle cx="685.5" cy="519.3" r="8.7"/>
<circle cx="687.9" cy="529.2" r="8.7"/>
<circle cx="689.4" cy="526.7" r="8.7"/>
<circle cx="689.7" cy="517.9" r="8.7"/>
<circle cx="691.6" cy="512.9" r="8.7"/>
<circle cx="693.8" cy="521.8" r="8.7"/>
<circle cx="693.9" cy="512.6" r="8.7"/>
<circle cx="695.7" cy="505.8" r="8.7"/>
<circle cx="698.0" cy="500.0" r="8.7"/>
<circle cx="698.1" cy="512.7" r="8.7"/>
<circle cx="700.7" cy="518.6" r="8.7"/>
<circle cx="701.8" cy="506.9" r="8.7"/>
<circle cx="702.3" cy="510.3" r="8.7"/>
<circle cx="704.6" cy="517.8" r="8.7"/>
<circle cx="706.5" cy="499.4" r="8.7"/>
<circle cx="706.5" cy="512.3" r="8.7"/>
<circle cx="708.6" cy="518.2" r="8.7"/>
<circle cx="711.3" cy="501.8" r="8.7"/>
<circle cx="710.7" cy="510.4" r="8.7"/>
<circle cx="713.5" cy="507.8" r="8.7"/>
<circle cx="715.3" cy="499.6" r="8.7"/>
<circle cx="714.9" cy="509.6" r="8.7"/>
<circle cx="717.4" cy="504.2" r="8.7"/>
<circle cx="719.4" cy="525.9" r="8.7"/>
<circle cx="719.1" cy="508.6" r="8.7"/>
<circle cx="721.0" cy="505.3" r="8.7"/>
<circle cx="723.8" cy="500.6" r="8.7"/>
<circle cx="723.3" cy="519.4" r="8.7"/>
<circle cx="724.9" cy="510.8" r="8.7"/>
<circle cx="725.4" cy="523.9" r="8.7"/>
<circle cx="728.2" cy="500.9" r="8.7"/>
<circle cx="727.5" cy="514.4" r="8.7"/>
<circle cx="729.1" cy="529.7" r="8.7"/>
<circle cx="731.8" cy="518.3" r="8.7"/>
<circle cx="731.7" cy="515.0" r="8.7"/>
<circle cx="734.5" cy="528.4" r="8.7"/>
<circle cx="735.3" cy="529.0" r="8.7"/>
<circle cx="735.9" cy="513.1" r="8.7"/>
<circle cx="738.4" cy="504.3" r="8.7"/>
<circle cx="740.1" cy="504.4" r="8.7"/>
<circle cx="740.1" cy="512.4" r="8.7"/>
<circle cx="742.8" cy="504.5" r="8.7"/>
<circle cx="743.7" cy="511.8" r="8.7"/>
<circle cx="744.3" cy="517.1" r="8.7"/>
<circle cx="745.8" cy="510.1" r="8.7"/>
<circle cx="748.8" cy="528.0" r="8.7"/>
<circle cx="748.5" cy="517.9" r="8.7"/>
<circle cx="750.2" cy="529.4" r="8.7"/>
<circle cx="753.0" cy="517.3" r="8.7"/>
<circle cx="752.7" cy="517.2" r="8.7"/>
<circle cx="755.0" cy="521.9" r="8.7"/>
<circle cx="756.5" cy="508.7" r="8.7"/>
<circle cx="756.9" cy="524.7" r="8.7"/>
<circle cx="759.2" cy="522.8" r="8.7"/>
<circle cx="760.4" cy="536.0" r="8.7"/>
<circle cx="761.1" cy="523.6" r="8.7"/>
<circle cx="763.5" cy="532.9" r="8.7"/>
<circle cx="765.6" cy="538.3" r="8.7"/>
<circle cx="765.3" cy="526.7" r="8.7"/>
<circle cx="767.8" cy="526.6" r="8.7"/>
<circle cx="770.2" cy="519.9" r="8.7"/>
<circle cx="769.5" cy="526.3" r="8.7"/>
<circle cx="771.7" cy="520.2" r="8.7"/>
<circle cx="773.4" cy="520.1" r="8.7"/>
<circle cx="773.7" cy="528.0" r="8.7"/>
<circle cx="776.2" cy="531.0" r="8.7"/>
<circle cx="777.9" cy="539.1" r="8.7"/>
<circle cx="777.9" cy="526.8" r="8.7"/>
<circle cx="780.4" cy="521.8" r="8.7"/>
<circle cx="782.4" cy="530.2" r="8.7"/>
<circle cx="782.1" cy="532.2" r="8.7"/>
<circle cx="783.8" cy="523.9" r="8.7"/>
<circle cx="785.7" cy="541.6" r="8.7"/>
<circle cx="786.3" cy="532.1" r="8.7"/>
<circle cx="787.9" cy="535.4" r="8.7"/>
<circle cx="790.9" cy="527.8" r="8.7"/>
<circle cx="790.5" cy="532.6" r="8.7"/>
<circle cx="793.1" cy="544.6" r="8.7"/>
<circle cx="795.0" cy="532.4" r="8.7"/>
<circle cx="794.7" cy="537.5" r="8.7"/>
<circle cx="797.4" cy="545.6" r="8.7"/>
<circle cx="798.7" cy="529.0" r="8.7"/>
<circle cx="798.9" cy="536.3" r="8.7"/>
<circle cx="801.5" cy="546.1" r="8.7"/>
<circle cx="803.7" cy="547.6" r="8.7"/>
<circle cx="803.1" cy="537.6" r="8.7"/>
<circle cx="804.8" cy="550.1" r="8.7"/>
<circle cx="807.2" cy="532.2" r="8.7"/>
<circle cx="807.3" cy="541.0" r="8.7"/>
<circle cx="810.0" cy="532.8" r="8.7"/>
<circle cx="811.5" cy="547.4" r="8.7"/>
<circle cx="811.5" cy="544.4" r="8.7"/>
<circle cx="813.8" cy="535.1" r="8.7"/>
<circle cx="816.0" cy="535.1" r="8.7"/>
<circle cx="815.7" cy="546.2" r="8.7"/>
<circle cx="817.6" cy="535.8" r="8.7"/>
<circle cx="819.8" cy="536.8" r="8.7"/>
<circle cx="819.9" cy="556.5" r="8.7"/>
<circle cx="821.4" cy="538.1" r="8.7"/>
<circle cx="822.0" cy="543.6" r="8.7"/>
<circle cx="823.6" cy="567.6" r="8.7"/>
<circle cx="824.1" cy="555.9" r="8.7"/>
<circle cx="826.7" cy="538.5" r="8.7"/>
<circle cx="826.2" cy="562.2" r="8.7"/>
<circle cx="828.9" cy="570.2" r="8.7"/>
<circle cx="828.3" cy="552.2" r="8.7"/>
<circle cx="830.2" cy="539.5" r="8.7"/>
<circle cx="830.4" cy="545.6" r="8.7"/>
<circle cx="832.1" cy="568.5" r="8.7"/>
<circle cx="832.5" cy="555.9" r="8.7"/>
<circle cx="835.1" cy="544.3" r="8.7"/>
<circle cx="834.6" cy="567.1" r="8.7"/>
<circle cx="836.8" cy="569.5" r="8.7"/>
<circle cx="836.7" cy="555.5" r="8.7"/>
<circle cx="839.2" cy="548.8" r="8.7"/>
<circle cx="838.8" cy="553.4" r="8.7"/>
<circle cx="841.2" cy="559.6" r="8.7"/>
<circle cx="840.9" cy="565.4" r="8.7"/>
<circle cx="843.6" cy="552.8" r="8.7"/>
<circle cx="843.0" cy="578.8" r="8.7"/>
<circle cx="844.8" cy="558.5" r="8.7"/>
<circle cx="845.1" cy="571.5" r="8.7"/>
<circle cx="846.6" cy="583.6" r="8.7"/>
<circle cx="849.2" cy="577.5" r="8.7"/>
<circle cx="849.3" cy="577.4" r="8.7"/>
<circle cx="850.8" cy="582.6" r="8.7"/>
<circle cx="853.6" cy="585.0" r="8.7"/>
<circle cx="853.5" cy="579.8" r="8.7"/>
<circle cx="855.7" cy="585.5" r="8.7"/>
<circle cx="857.0" cy="586.9" r="8.7"/>
<circle cx="857.7" cy="593.6" r="8.7"/>
<circle cx="860.1" cy="603.9" r="8.7"/>
<circle cx="862.5" cy="609.1" r="8.7"/>
<circle cx="861.9" cy="601.1" r="8.7"/>
<circle cx="863.3" cy="612.6" r="8.7"/>
<circle cx="866.8" cy="616.3" r="8.7"/>
<circle cx="866.1" cy="601.1" r="8.7"/>
<circle cx="868.5" cy="616.3" r="8.7"/>
<circle cx="869.8" cy="596.1" r="8.7"/>
<circle cx="870.3" cy="609.5" r="8.7"/>
<circle cx="872.9" cy="600.7" r="8.7"/>
<circle cx="874.1" cy="626.9" r="8.7"/>
<circle cx="874.5" cy="613.1" r="8.7"/>
<circle cx="877.1" cy="617.0" r="8.7"/>
<circle cx="878.0" cy="606.8" r="8.7"/>
<circle cx="878.7" cy="615.8" r="8.7"/>
<circle cx="880.7" cy="628.5" r="8.7"/>
<circle cx="883.2" cy="613.1" r="8.7"/>
<circle cx="882.9" cy="622.1" r="8.7"/>
<circle cx="885.3" cy="618.8" r="8.7"/>
<circle cx="887.2" cy="615.1" r="8.7"/>
<circle cx="887.1" cy="625.5" r="8.7"/>
<circle cx="889.9" cy="633.7" r="8.7"/>
<circle cx="890.7" cy="634.8" r="8.7"/>
<circle cx="891.3" cy="628.4" r="8.7"/>
<circle cx="893.8" cy="631.0" r="8.7"/>
<circle cx="895.7" cy="625.6" r="8.7"/>
<circle cx="898.0" cy="636.2" r="8.7"/>
<circle cx="899.6" cy="638.2" r="8.7"/>
<circle cx="901.6" cy="640.5" r="8.7"/>
<circle cx="903.2" cy="642.6" r="8.7"/>
<circle cx="905.9" cy="638.7" r="8.7"/>
<circle cx="907.7" cy="646.4" r="8.7"/>
<circle cx="910.2" cy="640.0" r="8.7"/>
<circle cx="912.8" cy="649.8" r="8.7"/>
<circle cx="914.1" cy="644.0" r="8.7"/>
<circle cx="916.5" cy="651.0" r="8.7"/>
<circle cx="916.5" cy="646.5" r="8.7"/>
<circle cx="918.1" cy="640.1" r="8.7"/>
<circle cx="921.0" cy="639.3" r="8.7"/>
<circle cx="920.7" cy="647.6" r="8.7"/>
<circle cx="923.2" cy="659.3" r="8.7"/>
<circle cx="925.4" cy="648.1" r="8.7"/>
<circle cx="924.9" cy="652.5" r="8.7"/>
<circle cx="927.1" cy="638.4" r="8.7"/>
<circle cx="929.7" cy="658.9" r="8.7"/>
<circle cx="929.1" cy="649.4" r="8.7"/>
<circle cx="931.0" cy="657.6" r="8.7"/>
<circle cx="932.9" cy="636.0" r="8.7"/>
<circle cx="933.3" cy="647.9" r="8.7"/>
<circle cx="935.5" cy="635.4" r="8.7"/>
<circle cx="937.7" cy="657.9" r="8.7"/>
<circle cx="937.5" cy="647.2" r="8.7"/>
<circle cx="939.1" cy="658.7" r="8.7"/>
<circle cx="942.3" cy="633.0" r="8.7"/>
<circle cx="941.7" cy="646.7" r="8.7"/>
<circle cx="943.3" cy="631.6" r="8.7"/>
<circle cx="943.8" cy="655.5" r="8.7"/>
<circle cx="946.5" cy="660.1" r="8.7"/>
<circle cx="945.9" cy="644.1" r="8.7"/>
<circle cx="947.9" cy="660.9" r="8.7"/>
<circle cx="950.1" cy="646.4" r="8.7"/>
<circle cx="950.1" cy="647.8" r="8.7"/>
<circle cx="952.1" cy="657.7" r="8.7"/>
<circle cx="955.0" cy="645.2" r="8.7"/>
<circle cx="954.3" cy="650.0" r="8.7"/>
<circle cx="956.1" cy="649.6" r="8.7"/>
<circle cx="958.3" cy="645.9" r="8.7"/>
<circle cx="958.5" cy="655.4" r="8.7"/>
<circle cx="960.4" cy="648.0" r="8.7"/>
<circle cx="962.0" cy="656.4" r="8.7"/>
<circle cx="962.7" cy="657.0" r="8.7"/>
<circle cx="964.5" cy="663.5" r="8.7"/>
<circle cx="966.5" cy="638.1" r="8.7"/>
<circle cx="966.9" cy="648.1" r="8.7"/>
<circle cx="969.4" cy="660.9" r="8.7"/>
<circle cx="971.6" cy="652.6" r="8.7"/>
<circle cx="971.1" cy="649.1" r="8.7"/>
<circle cx="973.2" cy="658.5" r="8.7"/>
<circle cx="975.2" cy="649.8" r="8.7"/>
<circle cx="975.3" cy="646.5" r="8.7"/>
<circle cx="977.2" cy="652.5" r="8.7"/>
<circle cx="979.2" cy="642.4" r="8.7"/>
<circle cx="979.5" cy="650.3" r="8.7"/>
<circle cx="981.3" cy="643.6" r="8.7"/>
<circle cx="984.1" cy="651.2" r="8.7"/>
<circle cx="986.1" cy="647.9" r="8.7"/>
<circle cx="987.3" cy="647.6" r="8.7"/>
<circle cx="1011.8" cy="647.5" r="8.7"/>
<circle cx="1011.8" cy="653.8" r="8.7"/>
<circle cx="1016.2" cy="652.5" r="8.7"/>
<circle cx="1016.2" cy="656.3" r="8.7"/>
<circle cx="1026.2" cy="640.0" r="8.7"/>
<circle cx="1026.2" cy="653.8" r="8.7"/>
<circle cx="1037.5" cy="646.2" r="8.7"/>
<circle cx="1037.5" cy="646.3" r="8.7"/>
<circle cx="1052.5" cy="636.2" r="8.7"/>
<circle cx="1052.5" cy="660.0" r="8.7"/>
<circle cx="1065.0" cy="638.7" r="8.7"/>
<circle cx="1065.0" cy="650.0" r="8.7"/>
<circle cx="1077.5" cy="638.7" r="8.7"/>
<circle cx="1077.5" cy="646.3" r="8.7"/>
<circle cx="1090.0" cy="630.0" r="8.7"/>
<circle cx="1090.0" cy="643.8" r="8.7"/>
<circle cx="1102.5" cy="632.5" r="8.7"/>
<circle cx="1102.5" cy="643.8" r="8.7"/>
<circle cx="1115.0" cy="641.2" r="8.7"/>
<circle cx="1115.0" cy="663.8" r="8.7"/>
<circle cx="1125.0" cy="643.7" r="8.7"/>
<circle cx="1125.0" cy="648.8" r="8.7"/>
<circle cx="1135.0" cy="636.2" r="8.7"/>
<circle cx="1135.0" cy="660.0" r="8.7"/>
<circle cx="1145.0" cy="642.5" r="8.7"/>
<circle cx="1145.0" cy="658.8" r="8.7"/>
<circle cx="1153.8" cy="635.0" r="8.7"/>
<circle cx="1153.8" cy="648.8" r="8.7"/>
<circle cx="1162.5" cy="638.7" r="8.7"/>
<circle cx="1162.5" cy="661.3" r="8.7"/>
<circle cx="1172.5" cy="635.0" r="8.7"/>
<circle cx="1172.5" cy="650.0" r="8.7"/>
<circle cx="1178.0" cy="631.2" r="8.7"/>
<circle cx="1178.0" cy="650.0" r="8.7"/>
<circle cx="1188.0" cy="638.7" r="8.7"/>
<circle cx="1188.0" cy="650.0" r="8.7"/>
<circle cx="1198.0" cy="643.7" r="8.7"/>
<circle cx="1198.0" cy="656.3" r="8.7"/>
<circle cx="1210.5" cy="643.7" r="8.7"/>
<circle cx="1210.5" cy="661.3" r="8.7"/>
<circle cx="1220.5" cy="646.2" r="8.7"/>
<circle cx="1220.5" cy="657.5" r="8.7"/>
<circle cx="1228.0" cy="640.0" r="8.7"/>
<circle cx="1228.0" cy="660.0" r="8.7"/>
<circle cx="1238.0" cy="652.5" r="8.7"/>
<circle cx="1238.0" cy="663.8" r="8.7"/>
<circle cx="1248.0" cy="652.5" r="8.7"/>
<circle cx="1248.0" cy="665.0" r="8.7"/>
<circle cx="1256.8" cy="643.7" r="8.7"/>
<circle cx="1256.8" cy="666.3" r="8.7"/>
<circle cx="1266.8" cy="658.7" r="8.7"/>
<circle cx="1266.8" cy="675.0" r="8.7"/>
<circle cx="1278.0" cy="668.7" r="8.7"/>
<circle cx="1278.0" cy="682.5" r="8.7"/>
<circle cx="1289.2" cy="661.2" r="8.7"/>
<circle cx="1289.2" cy="688.8" r="8.7"/>
<circle cx="1298.0" cy="675.0" r="8.7"/>
<circle cx="1298.0" cy="691.3" r="8.7"/>
<circle cx="1308.0" cy="685.0" r="8.7"/>
<circle cx="1308.0" cy="688.8" r="8.7"/>
<circle cx="1318.0" cy="690.0" r="8.7"/>
<circle cx="1318.0" cy="696.3" r="8.7"/>
<circle cx="1328.0" cy="691.2" r="8.7"/>
<circle cx="1328.0" cy="696.3" r="8.7"/>
<circle cx="1338.0" cy="683.7" r="8.7"/>
<circle cx="1338.0" cy="698.8" r="8.7"/>
<circle cx="1350.5" cy="690.0" r="8.7"/>
<circle cx="1350.5" cy="696.3" r="8.7"/>
<circle cx="1359.2" cy="693.7" r="8.7"/>
<circle cx="1359.2" cy="707.5" r="8.7"/>
<circle cx="1373.0" cy="685.0" r="8.7"/>
<circle cx="1373.0" cy="693.8" r="8.7"/>
<circle cx="1385.5" cy="693.7" r="8.7"/>
<circle cx="1385.5" cy="698.8" r="8.7"/>
<circle cx="1400.5" cy="683.7" r="8.7"/>
<circle cx="1400.5" cy="696.3" r="8.7"/>
<circle cx="1410.5" cy="693.8" r="8.7"/>
<circle cx="1419.2" cy="698.1" r="8.7"/>
<circle cx="1011.3" cy="649.7" r="8.7"/>
<circle cx="1013.5" cy="650.1" r="8.7"/>
<circle cx="1015.5" cy="652.2" r="8.7"/>
<circle cx="1017.6" cy="650.8" r="8.7"/>
<circle cx="1020.1" cy="647.8" r="8.7"/>
<circle cx="1021.6" cy="645.3" r="8.7"/>
<circle cx="1024.1" cy="642.5" r="8.7"/>
<circle cx="1026.8" cy="640.4" r="8.7"/>
<circle cx="1028.0" cy="651.9" r="8.7"/>
<circle cx="1030.5" cy="649.1" r="8.7"/>
<circle cx="1032.5" cy="643.8" r="8.7"/>
<circle cx="1034.7" cy="648.0" r="8.7"/>
<circle cx="1036.8" cy="645.9" r="8.7"/>
<circle cx="1038.8" cy="645.4" r="8.7"/>
<circle cx="1041.7" cy="648.8" r="8.7"/>
<circle cx="1043.7" cy="647.3" r="8.7"/>
<circle cx="1045.9" cy="653.5" r="8.7"/>
<circle cx="1047.5" cy="655.2" r="8.7"/>
<circle cx="1050.1" cy="638.5" r="8.7"/>
<circle cx="1049.5" cy="646.5" r="8.7"/>
<circle cx="1051.9" cy="638.1" r="8.7"/>
<circle cx="1053.7" cy="658.2" r="8.7"/>
<circle cx="1053.7" cy="650.2" r="8.7"/>
<circle cx="1055.9" cy="656.3" r="8.7"/>
<circle cx="1057.7" cy="653.5" r="8.7"/>
<circle cx="1057.9" cy="647.7" r="8.7"/>
<circle cx="1059.9" cy="637.8" r="8.7"/>
<circle cx="1062.6" cy="638.8" r="8.7"/>
<circle cx="1062.1" cy="644.3" r="8.7"/>
<circle cx="1064.7" cy="650.5" r="8.7"/>
<circle cx="1066.4" cy="638.7" r="8.7"/>
<circle cx="1067.9" cy="639.4" r="8.7"/>
<circle cx="1070.7" cy="639.1" r="8.7"/>
<circle cx="1073.3" cy="645.0" r="8.7"/>
<circle cx="1074.3" cy="647.1" r="8.7"/>
<circle cx="1076.4" cy="639.2" r="8.7"/>
<circle cx="1078.9" cy="637.7" r="8.7"/>
<circle cx="1081.4" cy="636.5" r="8.7"/>
<circle cx="1083.5" cy="637.9" r="8.7"/>
<circle cx="1085.5" cy="633.8" r="8.7"/>
<circle cx="1087.8" cy="632.5" r="8.7"/>
<circle cx="1089.7" cy="631.3" r="8.7"/>
<circle cx="1091.1" cy="630.3" r="8.7"/>
<circle cx="1091.5" cy="636.3" r="8.7"/>
<circle cx="1093.5" cy="641.5" r="8.7"/>
<circle cx="1095.1" cy="639.3" r="8.7"/>
<circle cx="1097.5" cy="643.5" r="8.7"/>
<circle cx="1100.5" cy="643.6" r="8.7"/>
<circle cx="1102.0" cy="638.8" r="8.7"/>
<circle cx="1104.8" cy="634.3" r="8.7"/>
<circle cx="1105.7" cy="647.2" r="8.7"/>
<circle cx="1107.8" cy="651.9" r="8.7"/>
<circle cx="1108.3" cy="644.4" r="8.7"/>
<circle cx="1111.1" cy="653.5" r="8.7"/>
<circle cx="1111.9" cy="659.3" r="8.7"/>
<circle cx="1112.5" cy="649.9" r="8.7"/>
<circle cx="1114.7" cy="641.0" r="8.7"/>
<circle cx="1117.0" cy="661.1" r="8.7"/>
<circle cx="1116.7" cy="651.2" r="8.7"/>
<circle cx="1118.2" cy="657.2" r="8.7"/>
<circle cx="1121.5" cy="643.0" r="8.7"/>
<circle cx="1123.0" cy="650.2" r="8.7"/>
<circle cx="1125.5" cy="648.6" r="8.7"/>
<circle cx="1126.6" cy="643.0" r="8.7"/>
<circle cx="1129.8" cy="653.5" r="8.7"/>
<circle cx="1129.3" cy="646.3" r="8.7"/>
<circle cx="1131.2" cy="644.5" r="8.7"/>
<circle cx="1133.7" cy="637.5" r="8.7"/>
<circle cx="1133.5" cy="650.3" r="8.7"/>
<circle cx="1136.3" cy="636.9" r="8.7"/>
<circle cx="1138.4" cy="657.5" r="8.7"/>
<circle cx="1137.7" cy="649.1" r="8.7"/>
<circle cx="1139.2" cy="644.4" r="8.7"/>
<circle cx="1142.0" cy="645.5" r="8.7"/>
<circle cx="1141.9" cy="649.0" r="8.7"/>
<circle cx="1143.7" cy="643.0" r="8.7"/>
<circle cx="1146.0" cy="641.8" r="8.7"/>
<circle cx="1146.1" cy="652.0" r="8.7"/>
<circle cx="1148.4" cy="654.7" r="8.7"/>
<circle cx="1150.9" cy="638.0" r="8.7"/>
<circle cx="1150.3" cy="643.1" r="8.7"/>
<circle cx="1152.0" cy="641.0" r="8.7"/>
<circle cx="1155.0" cy="635.5" r="8.7"/>
<circle cx="1154.5" cy="642.4" r="8.7"/>
<circle cx="1157.2" cy="652.4" r="8.7"/>
<circle cx="1159.1" cy="654.1" r="8.7"/>
<circle cx="1158.7" cy="647.6" r="8.7"/>
<circle cx="1160.9" cy="646.6" r="8.7"/>
<circle cx="1163.5" cy="643.0" r="8.7"/>
<circle cx="1162.9" cy="646.0" r="8.7"/>
<circle cx="1164.6" cy="638.0" r="8.7"/>
<circle cx="1166.7" cy="645.4" r="8.7"/>
<circle cx="1167.1" cy="645.9" r="8.7"/>
<circle cx="1169.5" cy="653.4" r="8.7"/>
<circle cx="1171.8" cy="651.3" r="8.7"/>
<circle cx="1171.3" cy="645.4" r="8.7"/>
<circle cx="1172.8" cy="637.1" r="8.7"/>
<circle cx="1175.4" cy="643.2" r="8.7"/>
<circle cx="1175.5" cy="638.6" r="8.7"/>
<circle cx="1177.2" cy="648.5" r="8.7"/>
<circle cx="1179.2" cy="633.4" r="8.7"/>
<circle cx="1179.7" cy="639.6" r="8.7"/>
<circle cx="1181.8" cy="634.3" r="8.7"/>
<circle cx="1184.2" cy="649.7" r="8.7"/>
<circle cx="1183.9" cy="642.0" r="8.7"/>
<circle cx="1185.5" cy="639.6" r="8.7"/>
<circle cx="1188.7" cy="643.9" r="8.7"/>
<circle cx="1189.7" cy="640.0" r="8.7"/>
<circle cx="1192.3" cy="649.9" r="8.7"/>
<circle cx="1194.6" cy="642.3" r="8.7"/>
<circle cx="1197.1" cy="654.9" r="8.7"/>
<circle cx="1198.4" cy="650.9" r="8.7"/>
<circle cx="1201.1" cy="643.8" r="8.7"/>
<circle cx="1200.7" cy="649.3" r="8.7"/>
<circle cx="1202.7" cy="658.2" r="8.7"/>
<circle cx="1205.2" cy="650.4" r="8.7"/>
<circle cx="1204.9" cy="653.4" r="8.7"/>
<circle cx="1206.8" cy="659.7" r="8.7"/>
<circle cx="1209.3" cy="643.7" r="8.7"/>
<circle cx="1209.1" cy="654.8" r="8.7"/>
<circle cx="1210.6" cy="643.9" r="8.7"/>
<circle cx="1213.5" cy="659.6" r="8.7"/>
<circle cx="1213.3" cy="650.7" r="8.7"/>
<circle cx="1216.1" cy="650.9" r="8.7"/>
<circle cx="1217.6" cy="645.6" r="8.7"/>
<circle cx="1217.5" cy="651.0" r="8.7"/>
<circle cx="1219.3" cy="646.0" r="8.7"/>
<circle cx="1221.5" cy="645.3" r="8.7"/>
<circle cx="1223.3" cy="655.7" r="8.7"/>
<circle cx="1226.0" cy="648.6" r="8.7"/>
<circle cx="1225.9" cy="650.0" r="8.7"/>
<circle cx="1228.6" cy="640.0" r="8.7"/>
<circle cx="1230.4" cy="656.0" r="8.7"/>
<circle cx="1230.1" cy="649.5" r="8.7"/>
<circle cx="1232.0" cy="645.6" r="8.7"/>
<circle cx="1234.4" cy="648.5" r="8.7"/>
<circle cx="1234.3" cy="652.7" r="8.7"/>
<circle cx="1237.0" cy="662.1" r="8.7"/>
<circle cx="1238.4" cy="652.5" r="8.7"/>
<circle cx="1241.1" cy="652.9" r="8.7"/>
<circle cx="1242.2" cy="661.9" r="8.7"/>
<circle cx="1244.9" cy="664.2" r="8.7"/>
<circle cx="1246.4" cy="653.1" r="8.7"/>
<circle cx="1249.4" cy="664.7" r="8.7"/>
<circle cx="1251.8" cy="658.7" r="8.7"/>
<circle cx="1251.1" cy="659.0" r="8.7"/>
<circle cx="1252.7" cy="665.1" r="8.7"/>
<circle cx="1255.1" cy="649.9" r="8.7"/>
<circle cx="1255.3" cy="654.4" r="8.7"/>
<circle cx="1257.4" cy="646.1" r="8.7"/>
<circle cx="1259.5" cy="648.0" r="8.7"/>
<circle cx="1259.5" cy="659.8" r="8.7"/>
<circle cx="1262.0" cy="651.4" r="8.7"/>
<circle cx="1263.5" cy="670.4" r="8.7"/>
<circle cx="1263.7" cy="665.5" r="8.7"/>
<circle cx="1265.7" cy="667.0" r="8.7"/>
<circle cx="1267.4" cy="675.4" r="8.7"/>
<circle cx="1267.9" cy="666.7" r="8.7"/>
<circle cx="1270.2" cy="677.1" r="8.7"/>
<circle cx="1272.6" cy="664.3" r="8.7"/>
<circle cx="1272.1" cy="671.7" r="8.7"/>
<circle cx="1273.8" cy="665.7" r="8.7"/>
<circle cx="1277.0" cy="676.2" r="8.7"/>
<circle cx="1276.3" cy="672.7" r="8.7"/>
<circle cx="1277.8" cy="668.6" r="8.7"/>
<circle cx="1280.7" cy="668.3" r="8.7"/>
<circle cx="1280.5" cy="676.3" r="8.7"/>
<circle cx="1282.5" cy="665.8" r="8.7"/>
<circle cx="1284.2" cy="664.3" r="8.7"/>
<circle cx="1284.7" cy="673.1" r="8.7"/>
<circle cx="1286.2" cy="666.0" r="8.7"/>
<circle cx="1288.6" cy="688.2" r="8.7"/>
<circle cx="1288.9" cy="673.9" r="8.7"/>
<circle cx="1290.8" cy="689.3" r="8.7"/>
<circle cx="1292.9" cy="689.3" r="8.7"/>
<circle cx="1293.1" cy="674.8" r="8.7"/>
<circle cx="1295.2" cy="685.3" r="8.7"/>
<circle cx="1296.9" cy="690.6" r="8.7"/>
<circle cx="1297.3" cy="684.4" r="8.7"/>
<circle cx="1299.5" cy="678.2" r="8.7"/>
<circle cx="1301.3" cy="690.1" r="8.7"/>
<circle cx="1303.8" cy="686.9" r="8.7"/>
<circle cx="1305.1" cy="685.2" r="8.7"/>
<circle cx="1307.3" cy="685.0" r="8.7"/>
<circle cx="1309.7" cy="686.7" r="8.7"/>
<circle cx="1312.5" cy="687.3" r="8.7"/>
<circle cx="1314.8" cy="690.1" r="8.7"/>
<circle cx="1316.1" cy="689.1" r="8.7"/>
<circle cx="1317.9" cy="690.1" r="8.7"/>
<circle cx="1320.5" cy="696.1" r="8.7"/>
<circle cx="1322.1" cy="694.9" r="8.7"/>
<circle cx="1324.3" cy="696.1" r="8.7"/>
<circle cx="1327.0" cy="696.1" r="8.7"/>
<circle cx="1329.0" cy="696.2" r="8.7"/>
<circle cx="1331.1" cy="696.7" r="8.7"/>
<circle cx="1332.7" cy="687.7" r="8.7"/>
<circle cx="1335.0" cy="686.4" r="8.7"/>
<circle cx="1337.7" cy="685.3" r="8.7"/>
<circle cx="1339.4" cy="695.3" r="8.7"/>
<circle cx="1339.3" cy="692.5" r="8.7"/>
<circle cx="1342.1" cy="697.6" r="8.7"/>
<circle cx="1343.6" cy="688.9" r="8.7"/>
<circle cx="1345.9" cy="697.2" r="8.7"/>
<circle cx="1348.0" cy="696.6" r="8.7"/>
<circle cx="1350.5" cy="696.4" r="8.7"/>
<circle cx="1352.2" cy="692.6" r="8.7"/>
<circle cx="1353.4" cy="691.8" r="8.7"/>
<circle cx="1355.9" cy="692.5" r="8.7"/>
<circle cx="1358.2" cy="706.0" r="8.7"/>
<circle cx="1360.4" cy="693.1" r="8.7"/>
<circle cx="1360.3" cy="699.2" r="8.7"/>
<circle cx="1362.1" cy="703.3" r="8.7"/>
<circle cx="1364.9" cy="701.8" r="8.7"/>
<circle cx="1366.2" cy="689.2" r="8.7"/>
<circle cx="1368.6" cy="698.0" r="8.7"/>
<circle cx="1371.0" cy="690.5" r="8.7"/>
<circle cx="1373.1" cy="690.7" r="8.7"/>
<circle cx="1374.4" cy="689.1" r="8.7"/>
<circle cx="1377.3" cy="691.9" r="8.7"/>
<circle cx="1378.9" cy="689.6" r="8.7"/>
<circle cx="1381.0" cy="693.1" r="8.7"/>
<circle cx="1383.1" cy="693.5" r="8.7"/>
<circle cx="1385.0" cy="693.9" r="8.7"/>
<circle cx="1388.0" cy="692.5" r="8.7"/>
<circle cx="1389.2" cy="696.6" r="8.7"/>
<circle cx="1392.3" cy="692.4" r="8.7"/>
<circle cx="1393.9" cy="688.2" r="8.7"/>
<circle cx="1395.6" cy="696.9" r="8.7"/>
<circle cx="1398.7" cy="691.8" r="8.7"/>
<circle cx="1400.2" cy="696.3" r="8.7"/>
<circle cx="1402.4" cy="694.9" r="8.7"/>
<circle cx="1405.1" cy="693.5" r="8.7"/>
<circle cx="1407.1" cy="693.2" r="8.7"/>
<circle cx="1408.8" cy="693.1" r="8.7"/>
<circle cx="1410.2" cy="693.9" r="8.7"/>
<circle cx="1412.6" cy="694.9" r="8.7"/>
<circle cx="1415.5" cy="696.0" r="8.7"/>
<circle cx="1416.9" cy="697.0" r="8.7"/>
<circle cx="1418.6" cy="698.1" r="8.7"/>
<circle cx="1429.8" cy="678.7" r="8.7"/>
<circle cx="1429.8" cy="678.8" r="8.7"/>
<circle cx="1438.0" cy="688.7" r="8.7"/>
<circle cx="1438.0" cy="688.8" r="8.7"/>
<circle cx="1448.0" cy="691.2" r="8.7"/>
<circle cx="1448.0" cy="697.5" r="8.7"/>
<circle cx="1453.0" cy="676.2" r="8.7"/>
<circle cx="1453.0" cy="691.3" r="8.7"/>
<circle cx="1465.5" cy="686.2" r="8.7"/>
<circle cx="1465.5" cy="690.0" r="8.7"/>
<circle cx="1478.0" cy="680.0" r="8.7"/>
<circle cx="1478.0" cy="693.8" r="8.7"/>
<circle cx="1490.5" cy="681.2" r="8.7"/>
<circle cx="1490.5" cy="690.0" r="8.7"/>
<circle cx="1498.0" cy="672.5" r="8.7"/>
<circle cx="1498.0" cy="681.3" r="8.7"/>
<circle cx="1510.5" cy="675.0" r="8.7"/>
<circle cx="1510.5" cy="685.0" r="8.7"/>
<circle cx="1527.5" cy="670.0" r="8.7"/>
<circle cx="1527.5" cy="675.0" r="8.7"/>
<circle cx="1430.3" cy="678.7" r="8.7"/>
<circle cx="1432.2" cy="681.3" r="8.7"/>
<circle cx="1434.6" cy="683.9" r="8.7"/>
<circle cx="1435.9" cy="686.3" r="8.7"/>
<circle cx="1438.7" cy="688.8" r="8.7"/>
<circle cx="1439.7" cy="690.7" r="8.7"/>
<circle cx="1442.7" cy="692.5" r="8.7"/>
<circle cx="1444.5" cy="690.3" r="8.7"/>
<circle cx="1447.0" cy="691.0" r="8.7"/>
<circle cx="1448.1" cy="690.2" r="8.7"/>
<circle cx="1450.9" cy="694.0" r="8.7"/>
<circle cx="1453.4" cy="691.0" r="8.7"/>
<circle cx="1455.6" cy="677.8" r="8.7"/>
<circle cx="1454.9" cy="684.9" r="8.7"/>
<circle cx="1456.5" cy="690.4" r="8.7"/>
<circle cx="1459.7" cy="687.1" r="8.7"/>
<circle cx="1460.9" cy="690.3" r="8.7"/>
<circle cx="1463.8" cy="685.1" r="8.7"/>
<circle cx="1465.6" cy="688.4" r="8.7"/>
<circle cx="1467.7" cy="685.2" r="8.7"/>
<circle cx="1469.1" cy="687.8" r="8.7"/>
<circle cx="1471.4" cy="683.2" r="8.7"/>
<circle cx="1473.6" cy="687.8" r="8.7"/>
<circle cx="1475.6" cy="688.1" r="8.7"/>
<circle cx="1477.9" cy="680.1" r="8.7"/>
<circle cx="1479.7" cy="680.8" r="8.7"/>
<circle cx="1482.2" cy="692.5" r="8.7"/>
<circle cx="1484.4" cy="680.8" r="8.7"/>
<circle cx="1486.6" cy="681.0" r="8.7"/>
<circle cx="1488.6" cy="690.3" r="8.7"/>
<circle cx="1490.4" cy="689.8" r="8.7"/>
<circle cx="1493.3" cy="678.9" r="8.7"/>
<circle cx="1494.2" cy="678.3" r="8.7"/>
<circle cx="1497.4" cy="673.9" r="8.7"/>
<circle cx="1499.0" cy="675.7" r="8.7"/>
<circle cx="1501.0" cy="674.5" r="8.7"/>
<circle cx="1503.4" cy="679.9" r="8.7"/>
<circle cx="1505.5" cy="683.5" r="8.7"/>
<circle cx="1507.5" cy="674.4" r="8.7"/>
<circle cx="1509.6" cy="679.5" r="8.7"/>
<circle cx="1511.0" cy="684.0" r="8.7"/>
<circle cx="1513.9" cy="683.0" r="8.7"/>
<circle cx="1515.3" cy="681.4" r="8.7"/>
<circle cx="1518.1" cy="673.0" r="8.7"/>
<circle cx="1519.4" cy="675.8" r="8.7"/>
<circle cx="1521.6" cy="671.6" r="8.7"/>
<circle cx="1523.8" cy="674.2" r="8.7"/>
<circle cx="1526.9" cy="675.3" r="8.7"/>
<circle cx="830.2" cy="448.8" r="8.7"/>
<circle cx="770.2" cy="636.2" r="8.7"/>
<circle cx="834.2" cy="633.3" r="8.7"/>
<circle cx="845.2" cy="653.8" r="8.7"/>
<circle cx="851.8" cy="675.0" r="8.7"/>
<circle cx="851.2" cy="559.5" r="8.7"/>
<circle cx="905.0" cy="620.0" r="8.7"/>
</g>
<g font-family="'Liberation Sans', sans-serif">
<text x="493.7" y="56.9" font-size="38" font-weight="700" fill="#000" stroke="#000" stroke-width="0.7" textLength="40.7" lengthAdjust="spacingAndGlyphs">P1</text>
<text x="1220.4" y="147.5" font-size="38" font-weight="700" fill="#000" stroke="#000" stroke-width="0.7" textLength="44.9" lengthAdjust="spacingAndGlyphs">P2</text>
<text x="1304.1" y="209.0" font-size="46" font-weight="700" fill="#000" stroke="#000" stroke-width="0.7" textLength="156.5" lengthAdjust="spacingAndGlyphs">Non-SJ</text>
<text x="481.7" y="202.3" font-size="38" font-weight="700" fill="#000" stroke="#000" stroke-width="0.7" textLength="39.9" lengthAdjust="spacingAndGlyphs">P1</text>
<text x="707.3" y="245.7" font-size="38" font-weight="700" fill="#000" stroke="#000" stroke-width="0.7" textLength="44.9" lengthAdjust="spacingAndGlyphs">P4</text>
<text x="213.9" y="295.0" font-size="38" font-weight="700" fill="#000" stroke="#000" stroke-width="0.7" textLength="43.4" lengthAdjust="spacingAndGlyphs">P3</text>
<text x="1148.6" y="330.8" font-size="38" font-weight="700" fill="#000" stroke="#000" stroke-width="0.7" textLength="44.8" lengthAdjust="spacingAndGlyphs">P2</text>
<text x="1053.8" y="487.5" font-size="46" font-weight="700" fill="#00b050" stroke="#00b050" stroke-width="0.7" textLength="169.5" lengthAdjust="spacingAndGlyphs">Semi-SJ</text>
<text x="1234.3" y="487.5" font-size="46" font-weight="700" fill="#00b050" stroke="#00b050" stroke-width="0.7" textLength="115.4" lengthAdjust="spacingAndGlyphs">n-epi</text>
<text x="1363.6" y="487.5" font-size="46" font-weight="700" fill="#00b050" stroke="#00b050" stroke-width="0.7" textLength="70.4" lengthAdjust="spacingAndGlyphs">500</text>
<text x="1455.0" y="487.5" font-size="46" font-weight="700" fill="#00b050" stroke="#00b050" stroke-width="0.7" textLength="47.6" lengthAdjust="spacingAndGlyphs">ºC</text>
<text x="169.8" y="477.0" font-size="46" font-weight="400" fill="#000" textLength="89.2" lengthAdjust="spacingAndGlyphs">40fF</text>
<text x="493.7" y="480.8" font-size="38" font-weight="700" fill="#000" stroke="#000" stroke-width="0.7" textLength="40.7" lengthAdjust="spacingAndGlyphs">P1</text>
<text x="718.5" y="480.5" font-size="38" font-weight="700" fill="#000" stroke="#000" stroke-width="0.7" textLength="44.7" lengthAdjust="spacingAndGlyphs">P4</text>
<text x="248.6" y="523.8" font-size="38" font-weight="700" fill="#000" stroke="#000" stroke-width="0.7" textLength="45.8" lengthAdjust="spacingAndGlyphs">P3</text>
<text x="1069.2" y="584.4" font-size="46" font-weight="700" fill="#f00" stroke="#f00" stroke-width="0.7" textLength="140.9" lengthAdjust="spacingAndGlyphs">Full-SJ</text>
<text x="1221.8" y="584.4" font-size="46" font-weight="700" fill="#f00" stroke="#f00" stroke-width="0.7" textLength="115.6" lengthAdjust="spacingAndGlyphs">n-epi</text>
<text x="1350.8" y="584.4" font-size="46" font-weight="700" fill="#f00" stroke="#f00" stroke-width="0.7" textLength="71.1" lengthAdjust="spacingAndGlyphs">500</text>
<text x="1442.0" y="584.4" font-size="46" font-weight="700" fill="#f00" stroke="#f00" stroke-width="0.7" textLength="47.6" lengthAdjust="spacingAndGlyphs">ºC</text>
<text x="1177.6" y="627.0" font-size="38" font-weight="700" fill="#000" stroke="#000" stroke-width="0.7" textLength="46.4" lengthAdjust="spacingAndGlyphs">P2</text>
<text x="92.6" y="804.3" font-size="53" font-weight="400" fill="#000" textLength="59.6" lengthAdjust="spacingAndGlyphs">80</text>
<text x="433.0" y="804.3" font-size="53" font-weight="400" fill="#000" textLength="84.5" lengthAdjust="spacingAndGlyphs">160</text>
<text x="782.3" y="804.3" font-size="53" font-weight="400" fill="#000" textLength="84.8" lengthAdjust="spacingAndGlyphs">240</text>
<text x="1135.3" y="804.3" font-size="53" font-weight="400" fill="#000" textLength="84.1" lengthAdjust="spacingAndGlyphs">320</text>
<text x="1486.3" y="804.3" font-size="53" font-weight="400" fill="#000" textLength="85.5" lengthAdjust="spacingAndGlyphs">400</text>
<text x="655.1" y="882.2" font-size="60" font-weight="400" fill="#000" textLength="413.6" lengthAdjust="spacingAndGlyphs">Temperature (K)</text>
<text transform="translate(89.6 567.1) rotate(-90)" font-size="60" font-weight="400" fill="#000" textLength="127.1" lengthAdjust="spacingAndGlyphs">DLTS</text>
<text transform="translate(89.6 424.5) rotate(-90)" font-size="60" font-weight="400" fill="#000" textLength="158.1" lengthAdjust="spacingAndGlyphs">Signal</text>
<text transform="translate(89.6 250.1) rotate(-90)" font-size="60" font-weight="400" fill="#000" textLength="82.2" lengthAdjust="spacingAndGlyphs">(fF)</text>
</g>
</svg>
</body></html>
